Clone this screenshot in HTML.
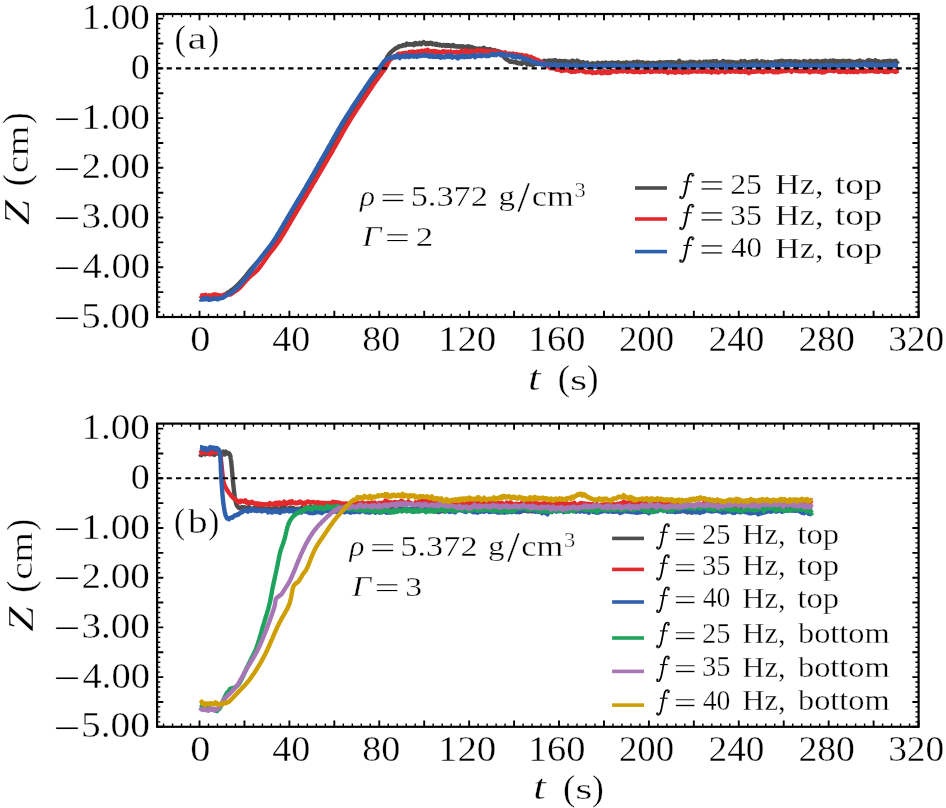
<!DOCTYPE html><html><head><meta charset="utf-8"><style>html,body{margin:0;padding:0;background:#fff;width:946px;height:808px;overflow:hidden}svg{display:block}</style></head><body><svg width="946" height="808" viewBox="0 0 946 808" font-family="'Liberation Serif', serif"><g stroke="#000" fill="none"><path d="M157.10 317.00H163.30M918.60 317.00H912.40" stroke-width="1.90"/><path d="M157.10 312.03H160.30M918.60 312.03H915.40" stroke-width="1.40"/><path d="M157.10 307.05H160.30M918.60 307.05H915.40" stroke-width="1.40"/><path d="M157.10 302.08H160.30M918.60 302.08H915.40" stroke-width="1.40"/><path d="M157.10 297.11H160.30M918.60 297.11H915.40" stroke-width="1.40"/><path d="M157.10 292.13H163.30M918.60 292.13H912.40" stroke-width="1.90"/><path d="M157.10 287.16H160.30M918.60 287.16H915.40" stroke-width="1.40"/><path d="M157.10 282.19H160.30M918.60 282.19H915.40" stroke-width="1.40"/><path d="M157.10 277.22H160.30M918.60 277.22H915.40" stroke-width="1.40"/><path d="M157.10 272.24H160.30M918.60 272.24H915.40" stroke-width="1.40"/><path d="M157.10 267.27H163.30M918.60 267.27H912.40" stroke-width="1.90"/><path d="M157.10 262.30H160.30M918.60 262.30H915.40" stroke-width="1.40"/><path d="M157.10 257.32H160.30M918.60 257.32H915.40" stroke-width="1.40"/><path d="M157.10 252.35H160.30M918.60 252.35H915.40" stroke-width="1.40"/><path d="M157.10 247.38H160.30M918.60 247.38H915.40" stroke-width="1.40"/><path d="M157.10 242.41H163.30M918.60 242.41H912.40" stroke-width="1.90"/><path d="M157.10 237.43H160.30M918.60 237.43H915.40" stroke-width="1.40"/><path d="M157.10 232.46H160.30M918.60 232.46H915.40" stroke-width="1.40"/><path d="M157.10 227.49H160.30M918.60 227.49H915.40" stroke-width="1.40"/><path d="M157.10 222.51H160.30M918.60 222.51H915.40" stroke-width="1.40"/><path d="M157.10 217.54H163.30M918.60 217.54H912.40" stroke-width="1.90"/><path d="M157.10 212.57H160.30M918.60 212.57H915.40" stroke-width="1.40"/><path d="M157.10 207.59H160.30M918.60 207.59H915.40" stroke-width="1.40"/><path d="M157.10 202.62H160.30M918.60 202.62H915.40" stroke-width="1.40"/><path d="M157.10 197.65H160.30M918.60 197.65H915.40" stroke-width="1.40"/><path d="M157.10 192.68H163.30M918.60 192.68H912.40" stroke-width="1.90"/><path d="M157.10 187.70H160.30M918.60 187.70H915.40" stroke-width="1.40"/><path d="M157.10 182.73H160.30M918.60 182.73H915.40" stroke-width="1.40"/><path d="M157.10 177.76H160.30M918.60 177.76H915.40" stroke-width="1.40"/><path d="M157.10 172.78H160.30M918.60 172.78H915.40" stroke-width="1.40"/><path d="M157.10 167.81H163.30M918.60 167.81H912.40" stroke-width="1.90"/><path d="M157.10 162.84H160.30M918.60 162.84H915.40" stroke-width="1.40"/><path d="M157.10 157.86H160.30M918.60 157.86H915.40" stroke-width="1.40"/><path d="M157.10 152.89H160.30M918.60 152.89H915.40" stroke-width="1.40"/><path d="M157.10 147.92H160.30M918.60 147.92H915.40" stroke-width="1.40"/><path d="M157.10 142.95H163.30M918.60 142.95H912.40" stroke-width="1.90"/><path d="M157.10 137.97H160.30M918.60 137.97H915.40" stroke-width="1.40"/><path d="M157.10 133.00H160.30M918.60 133.00H915.40" stroke-width="1.40"/><path d="M157.10 128.03H160.30M918.60 128.03H915.40" stroke-width="1.40"/><path d="M157.10 123.05H160.30M918.60 123.05H915.40" stroke-width="1.40"/><path d="M157.10 118.08H163.30M918.60 118.08H912.40" stroke-width="1.90"/><path d="M157.10 113.11H160.30M918.60 113.11H915.40" stroke-width="1.40"/><path d="M157.10 108.13H160.30M918.60 108.13H915.40" stroke-width="1.40"/><path d="M157.10 103.16H160.30M918.60 103.16H915.40" stroke-width="1.40"/><path d="M157.10 98.19H160.30M918.60 98.19H915.40" stroke-width="1.40"/><path d="M157.10 93.22H163.30M918.60 93.22H912.40" stroke-width="1.90"/><path d="M157.10 88.24H160.30M918.60 88.24H915.40" stroke-width="1.40"/><path d="M157.10 83.27H160.30M918.60 83.27H915.40" stroke-width="1.40"/><path d="M157.10 78.30H160.30M918.60 78.30H915.40" stroke-width="1.40"/><path d="M157.10 73.32H160.30M918.60 73.32H915.40" stroke-width="1.40"/><path d="M157.10 68.35H163.30M918.60 68.35H912.40" stroke-width="1.90"/><path d="M157.10 63.38H160.30M918.60 63.38H915.40" stroke-width="1.40"/><path d="M157.10 58.40H160.30M918.60 58.40H915.40" stroke-width="1.40"/><path d="M157.10 53.43H160.30M918.60 53.43H915.40" stroke-width="1.40"/><path d="M157.10 48.46H160.30M918.60 48.46H915.40" stroke-width="1.40"/><path d="M157.10 43.49H163.30M918.60 43.49H912.40" stroke-width="1.90"/><path d="M157.10 38.51H160.30M918.60 38.51H915.40" stroke-width="1.40"/><path d="M157.10 33.54H160.30M918.60 33.54H915.40" stroke-width="1.40"/><path d="M157.10 28.57H160.30M918.60 28.57H915.40" stroke-width="1.40"/><path d="M157.10 23.59H160.30M918.60 23.59H915.40" stroke-width="1.40"/><path d="M157.10 18.62H163.30M918.60 18.62H912.40" stroke-width="1.90"/><path d="M163.55 317.00V313.80M163.55 14.00V17.20" stroke-width="1.40"/><path d="M172.54 317.00V313.80M172.54 14.00V17.20" stroke-width="1.40"/><path d="M181.52 317.00V313.80M181.52 14.00V17.20" stroke-width="1.40"/><path d="M190.51 317.00V313.80M190.51 14.00V17.20" stroke-width="1.40"/><path d="M199.50 317.00V310.80M199.50 14.00V20.20" stroke-width="1.90"/><path d="M208.49 317.00V313.80M208.49 14.00V17.20" stroke-width="1.40"/><path d="M217.48 317.00V313.80M217.48 14.00V17.20" stroke-width="1.40"/><path d="M226.46 317.00V313.80M226.46 14.00V17.20" stroke-width="1.40"/><path d="M235.45 317.00V313.80M235.45 14.00V17.20" stroke-width="1.40"/><path d="M244.44 317.00V310.80M244.44 14.00V20.20" stroke-width="1.90"/><path d="M253.43 317.00V313.80M253.43 14.00V17.20" stroke-width="1.40"/><path d="M262.42 317.00V313.80M262.42 14.00V17.20" stroke-width="1.40"/><path d="M271.40 317.00V313.80M271.40 14.00V17.20" stroke-width="1.40"/><path d="M280.39 317.00V313.80M280.39 14.00V17.20" stroke-width="1.40"/><path d="M289.38 317.00V310.80M289.38 14.00V20.20" stroke-width="1.90"/><path d="M298.37 317.00V313.80M298.37 14.00V17.20" stroke-width="1.40"/><path d="M307.36 317.00V313.80M307.36 14.00V17.20" stroke-width="1.40"/><path d="M316.34 317.00V313.80M316.34 14.00V17.20" stroke-width="1.40"/><path d="M325.33 317.00V313.80M325.33 14.00V17.20" stroke-width="1.40"/><path d="M334.32 317.00V310.80M334.32 14.00V20.20" stroke-width="1.90"/><path d="M343.31 317.00V313.80M343.31 14.00V17.20" stroke-width="1.40"/><path d="M352.30 317.00V313.80M352.30 14.00V17.20" stroke-width="1.40"/><path d="M361.28 317.00V313.80M361.28 14.00V17.20" stroke-width="1.40"/><path d="M370.27 317.00V313.80M370.27 14.00V17.20" stroke-width="1.40"/><path d="M379.26 317.00V310.80M379.26 14.00V20.20" stroke-width="1.90"/><path d="M388.25 317.00V313.80M388.25 14.00V17.20" stroke-width="1.40"/><path d="M397.24 317.00V313.80M397.24 14.00V17.20" stroke-width="1.40"/><path d="M406.22 317.00V313.80M406.22 14.00V17.20" stroke-width="1.40"/><path d="M415.21 317.00V313.80M415.21 14.00V17.20" stroke-width="1.40"/><path d="M424.20 317.00V310.80M424.20 14.00V20.20" stroke-width="1.90"/><path d="M433.19 317.00V313.80M433.19 14.00V17.20" stroke-width="1.40"/><path d="M442.18 317.00V313.80M442.18 14.00V17.20" stroke-width="1.40"/><path d="M451.16 317.00V313.80M451.16 14.00V17.20" stroke-width="1.40"/><path d="M460.15 317.00V313.80M460.15 14.00V17.20" stroke-width="1.40"/><path d="M469.14 317.00V310.80M469.14 14.00V20.20" stroke-width="1.90"/><path d="M478.13 317.00V313.80M478.13 14.00V17.20" stroke-width="1.40"/><path d="M487.12 317.00V313.80M487.12 14.00V17.20" stroke-width="1.40"/><path d="M496.10 317.00V313.80M496.10 14.00V17.20" stroke-width="1.40"/><path d="M505.09 317.00V313.80M505.09 14.00V17.20" stroke-width="1.40"/><path d="M514.08 317.00V310.80M514.08 14.00V20.20" stroke-width="1.90"/><path d="M523.07 317.00V313.80M523.07 14.00V17.20" stroke-width="1.40"/><path d="M532.06 317.00V313.80M532.06 14.00V17.20" stroke-width="1.40"/><path d="M541.04 317.00V313.80M541.04 14.00V17.20" stroke-width="1.40"/><path d="M550.03 317.00V313.80M550.03 14.00V17.20" stroke-width="1.40"/><path d="M559.02 317.00V310.80M559.02 14.00V20.20" stroke-width="1.90"/><path d="M568.01 317.00V313.80M568.01 14.00V17.20" stroke-width="1.40"/><path d="M577.00 317.00V313.80M577.00 14.00V17.20" stroke-width="1.40"/><path d="M585.98 317.00V313.80M585.98 14.00V17.20" stroke-width="1.40"/><path d="M594.97 317.00V313.80M594.97 14.00V17.20" stroke-width="1.40"/><path d="M603.96 317.00V310.80M603.96 14.00V20.20" stroke-width="1.90"/><path d="M612.95 317.00V313.80M612.95 14.00V17.20" stroke-width="1.40"/><path d="M621.94 317.00V313.80M621.94 14.00V17.20" stroke-width="1.40"/><path d="M630.92 317.00V313.80M630.92 14.00V17.20" stroke-width="1.40"/><path d="M639.91 317.00V313.80M639.91 14.00V17.20" stroke-width="1.40"/><path d="M648.90 317.00V310.80M648.90 14.00V20.20" stroke-width="1.90"/><path d="M657.89 317.00V313.80M657.89 14.00V17.20" stroke-width="1.40"/><path d="M666.88 317.00V313.80M666.88 14.00V17.20" stroke-width="1.40"/><path d="M675.86 317.00V313.80M675.86 14.00V17.20" stroke-width="1.40"/><path d="M684.85 317.00V313.80M684.85 14.00V17.20" stroke-width="1.40"/><path d="M693.84 317.00V310.80M693.84 14.00V20.20" stroke-width="1.90"/><path d="M702.83 317.00V313.80M702.83 14.00V17.20" stroke-width="1.40"/><path d="M711.82 317.00V313.80M711.82 14.00V17.20" stroke-width="1.40"/><path d="M720.80 317.00V313.80M720.80 14.00V17.20" stroke-width="1.40"/><path d="M729.79 317.00V313.80M729.79 14.00V17.20" stroke-width="1.40"/><path d="M738.78 317.00V310.80M738.78 14.00V20.20" stroke-width="1.90"/><path d="M747.77 317.00V313.80M747.77 14.00V17.20" stroke-width="1.40"/><path d="M756.76 317.00V313.80M756.76 14.00V17.20" stroke-width="1.40"/><path d="M765.74 317.00V313.80M765.74 14.00V17.20" stroke-width="1.40"/><path d="M774.73 317.00V313.80M774.73 14.00V17.20" stroke-width="1.40"/><path d="M783.72 317.00V310.80M783.72 14.00V20.20" stroke-width="1.90"/><path d="M792.71 317.00V313.80M792.71 14.00V17.20" stroke-width="1.40"/><path d="M801.70 317.00V313.80M801.70 14.00V17.20" stroke-width="1.40"/><path d="M810.68 317.00V313.80M810.68 14.00V17.20" stroke-width="1.40"/><path d="M819.67 317.00V313.80M819.67 14.00V17.20" stroke-width="1.40"/><path d="M828.66 317.00V310.80M828.66 14.00V20.20" stroke-width="1.90"/><path d="M837.65 317.00V313.80M837.65 14.00V17.20" stroke-width="1.40"/><path d="M846.64 317.00V313.80M846.64 14.00V17.20" stroke-width="1.40"/><path d="M855.62 317.00V313.80M855.62 14.00V17.20" stroke-width="1.40"/><path d="M864.61 317.00V313.80M864.61 14.00V17.20" stroke-width="1.40"/><path d="M873.60 317.00V310.80M873.60 14.00V20.20" stroke-width="1.90"/><path d="M882.59 317.00V313.80M882.59 14.00V17.20" stroke-width="1.40"/><path d="M891.58 317.00V313.80M891.58 14.00V17.20" stroke-width="1.40"/><path d="M900.56 317.00V313.80M900.56 14.00V17.20" stroke-width="1.40"/><path d="M909.55 317.00V313.80M909.55 14.00V17.20" stroke-width="1.40"/><path d="M918.54 317.00V310.80M918.54 14.00V20.20" stroke-width="1.90"/></g>
<g stroke="#000" fill="none"><path d="M157.10 726.80H163.30M918.60 726.80H912.40" stroke-width="1.90"/><path d="M157.10 721.83H160.30M918.60 721.83H915.40" stroke-width="1.40"/><path d="M157.10 716.86H160.30M918.60 716.86H915.40" stroke-width="1.40"/><path d="M157.10 711.89H160.30M918.60 711.89H915.40" stroke-width="1.40"/><path d="M157.10 706.92H160.30M918.60 706.92H915.40" stroke-width="1.40"/><path d="M157.10 701.95H163.30M918.60 701.95H912.40" stroke-width="1.90"/><path d="M157.10 696.98H160.30M918.60 696.98H915.40" stroke-width="1.40"/><path d="M157.10 692.01H160.30M918.60 692.01H915.40" stroke-width="1.40"/><path d="M157.10 687.04H160.30M918.60 687.04H915.40" stroke-width="1.40"/><path d="M157.10 682.07H160.30M918.60 682.07H915.40" stroke-width="1.40"/><path d="M157.10 677.10H163.30M918.60 677.10H912.40" stroke-width="1.90"/><path d="M157.10 672.13H160.30M918.60 672.13H915.40" stroke-width="1.40"/><path d="M157.10 667.16H160.30M918.60 667.16H915.40" stroke-width="1.40"/><path d="M157.10 662.19H160.30M918.60 662.19H915.40" stroke-width="1.40"/><path d="M157.10 657.22H160.30M918.60 657.22H915.40" stroke-width="1.40"/><path d="M157.10 652.25H163.30M918.60 652.25H912.40" stroke-width="1.90"/><path d="M157.10 647.28H160.30M918.60 647.28H915.40" stroke-width="1.40"/><path d="M157.10 642.31H160.30M918.60 642.31H915.40" stroke-width="1.40"/><path d="M157.10 637.34H160.30M918.60 637.34H915.40" stroke-width="1.40"/><path d="M157.10 632.37H160.30M918.60 632.37H915.40" stroke-width="1.40"/><path d="M157.10 627.40H163.30M918.60 627.40H912.40" stroke-width="1.90"/><path d="M157.10 622.43H160.30M918.60 622.43H915.40" stroke-width="1.40"/><path d="M157.10 617.46H160.30M918.60 617.46H915.40" stroke-width="1.40"/><path d="M157.10 612.49H160.30M918.60 612.49H915.40" stroke-width="1.40"/><path d="M157.10 607.52H160.30M918.60 607.52H915.40" stroke-width="1.40"/><path d="M157.10 602.55H163.30M918.60 602.55H912.40" stroke-width="1.90"/><path d="M157.10 597.58H160.30M918.60 597.58H915.40" stroke-width="1.40"/><path d="M157.10 592.61H160.30M918.60 592.61H915.40" stroke-width="1.40"/><path d="M157.10 587.64H160.30M918.60 587.64H915.40" stroke-width="1.40"/><path d="M157.10 582.67H160.30M918.60 582.67H915.40" stroke-width="1.40"/><path d="M157.10 577.70H163.30M918.60 577.70H912.40" stroke-width="1.90"/><path d="M157.10 572.73H160.30M918.60 572.73H915.40" stroke-width="1.40"/><path d="M157.10 567.76H160.30M918.60 567.76H915.40" stroke-width="1.40"/><path d="M157.10 562.79H160.30M918.60 562.79H915.40" stroke-width="1.40"/><path d="M157.10 557.82H160.30M918.60 557.82H915.40" stroke-width="1.40"/><path d="M157.10 552.85H163.30M918.60 552.85H912.40" stroke-width="1.90"/><path d="M157.10 547.88H160.30M918.60 547.88H915.40" stroke-width="1.40"/><path d="M157.10 542.91H160.30M918.60 542.91H915.40" stroke-width="1.40"/><path d="M157.10 537.94H160.30M918.60 537.94H915.40" stroke-width="1.40"/><path d="M157.10 532.97H160.30M918.60 532.97H915.40" stroke-width="1.40"/><path d="M157.10 528.00H163.30M918.60 528.00H912.40" stroke-width="1.90"/><path d="M157.10 523.03H160.30M918.60 523.03H915.40" stroke-width="1.40"/><path d="M157.10 518.06H160.30M918.60 518.06H915.40" stroke-width="1.40"/><path d="M157.10 513.09H160.30M918.60 513.09H915.40" stroke-width="1.40"/><path d="M157.10 508.12H160.30M918.60 508.12H915.40" stroke-width="1.40"/><path d="M157.10 503.15H163.30M918.60 503.15H912.40" stroke-width="1.90"/><path d="M157.10 498.18H160.30M918.60 498.18H915.40" stroke-width="1.40"/><path d="M157.10 493.21H160.30M918.60 493.21H915.40" stroke-width="1.40"/><path d="M157.10 488.24H160.30M918.60 488.24H915.40" stroke-width="1.40"/><path d="M157.10 483.27H160.30M918.60 483.27H915.40" stroke-width="1.40"/><path d="M157.10 478.30H163.30M918.60 478.30H912.40" stroke-width="1.90"/><path d="M157.10 473.33H160.30M918.60 473.33H915.40" stroke-width="1.40"/><path d="M157.10 468.36H160.30M918.60 468.36H915.40" stroke-width="1.40"/><path d="M157.10 463.39H160.30M918.60 463.39H915.40" stroke-width="1.40"/><path d="M157.10 458.42H160.30M918.60 458.42H915.40" stroke-width="1.40"/><path d="M157.10 453.45H163.30M918.60 453.45H912.40" stroke-width="1.90"/><path d="M157.10 448.48H160.30M918.60 448.48H915.40" stroke-width="1.40"/><path d="M157.10 443.51H160.30M918.60 443.51H915.40" stroke-width="1.40"/><path d="M157.10 438.54H160.30M918.60 438.54H915.40" stroke-width="1.40"/><path d="M157.10 433.57H160.30M918.60 433.57H915.40" stroke-width="1.40"/><path d="M157.10 428.60H163.30M918.60 428.60H912.40" stroke-width="1.90"/><path d="M163.55 726.80V723.60M163.55 423.60V426.80" stroke-width="1.40"/><path d="M172.54 726.80V723.60M172.54 423.60V426.80" stroke-width="1.40"/><path d="M181.52 726.80V723.60M181.52 423.60V426.80" stroke-width="1.40"/><path d="M190.51 726.80V723.60M190.51 423.60V426.80" stroke-width="1.40"/><path d="M199.50 726.80V720.60M199.50 423.60V429.80" stroke-width="1.90"/><path d="M208.49 726.80V723.60M208.49 423.60V426.80" stroke-width="1.40"/><path d="M217.48 726.80V723.60M217.48 423.60V426.80" stroke-width="1.40"/><path d="M226.46 726.80V723.60M226.46 423.60V426.80" stroke-width="1.40"/><path d="M235.45 726.80V723.60M235.45 423.60V426.80" stroke-width="1.40"/><path d="M244.44 726.80V720.60M244.44 423.60V429.80" stroke-width="1.90"/><path d="M253.43 726.80V723.60M253.43 423.60V426.80" stroke-width="1.40"/><path d="M262.42 726.80V723.60M262.42 423.60V426.80" stroke-width="1.40"/><path d="M271.40 726.80V723.60M271.40 423.60V426.80" stroke-width="1.40"/><path d="M280.39 726.80V723.60M280.39 423.60V426.80" stroke-width="1.40"/><path d="M289.38 726.80V720.60M289.38 423.60V429.80" stroke-width="1.90"/><path d="M298.37 726.80V723.60M298.37 423.60V426.80" stroke-width="1.40"/><path d="M307.36 726.80V723.60M307.36 423.60V426.80" stroke-width="1.40"/><path d="M316.34 726.80V723.60M316.34 423.60V426.80" stroke-width="1.40"/><path d="M325.33 726.80V723.60M325.33 423.60V426.80" stroke-width="1.40"/><path d="M334.32 726.80V720.60M334.32 423.60V429.80" stroke-width="1.90"/><path d="M343.31 726.80V723.60M343.31 423.60V426.80" stroke-width="1.40"/><path d="M352.30 726.80V723.60M352.30 423.60V426.80" stroke-width="1.40"/><path d="M361.28 726.80V723.60M361.28 423.60V426.80" stroke-width="1.40"/><path d="M370.27 726.80V723.60M370.27 423.60V426.80" stroke-width="1.40"/><path d="M379.26 726.80V720.60M379.26 423.60V429.80" stroke-width="1.90"/><path d="M388.25 726.80V723.60M388.25 423.60V426.80" stroke-width="1.40"/><path d="M397.24 726.80V723.60M397.24 423.60V426.80" stroke-width="1.40"/><path d="M406.22 726.80V723.60M406.22 423.60V426.80" stroke-width="1.40"/><path d="M415.21 726.80V723.60M415.21 423.60V426.80" stroke-width="1.40"/><path d="M424.20 726.80V720.60M424.20 423.60V429.80" stroke-width="1.90"/><path d="M433.19 726.80V723.60M433.19 423.60V426.80" stroke-width="1.40"/><path d="M442.18 726.80V723.60M442.18 423.60V426.80" stroke-width="1.40"/><path d="M451.16 726.80V723.60M451.16 423.60V426.80" stroke-width="1.40"/><path d="M460.15 726.80V723.60M460.15 423.60V426.80" stroke-width="1.40"/><path d="M469.14 726.80V720.60M469.14 423.60V429.80" stroke-width="1.90"/><path d="M478.13 726.80V723.60M478.13 423.60V426.80" stroke-width="1.40"/><path d="M487.12 726.80V723.60M487.12 423.60V426.80" stroke-width="1.40"/><path d="M496.10 726.80V723.60M496.10 423.60V426.80" stroke-width="1.40"/><path d="M505.09 726.80V723.60M505.09 423.60V426.80" stroke-width="1.40"/><path d="M514.08 726.80V720.60M514.08 423.60V429.80" stroke-width="1.90"/><path d="M523.07 726.80V723.60M523.07 423.60V426.80" stroke-width="1.40"/><path d="M532.06 726.80V723.60M532.06 423.60V426.80" stroke-width="1.40"/><path d="M541.04 726.80V723.60M541.04 423.60V426.80" stroke-width="1.40"/><path d="M550.03 726.80V723.60M550.03 423.60V426.80" stroke-width="1.40"/><path d="M559.02 726.80V720.60M559.02 423.60V429.80" stroke-width="1.90"/><path d="M568.01 726.80V723.60M568.01 423.60V426.80" stroke-width="1.40"/><path d="M577.00 726.80V723.60M577.00 423.60V426.80" stroke-width="1.40"/><path d="M585.98 726.80V723.60M585.98 423.60V426.80" stroke-width="1.40"/><path d="M594.97 726.80V723.60M594.97 423.60V426.80" stroke-width="1.40"/><path d="M603.96 726.80V720.60M603.96 423.60V429.80" stroke-width="1.90"/><path d="M612.95 726.80V723.60M612.95 423.60V426.80" stroke-width="1.40"/><path d="M621.94 726.80V723.60M621.94 423.60V426.80" stroke-width="1.40"/><path d="M630.92 726.80V723.60M630.92 423.60V426.80" stroke-width="1.40"/><path d="M639.91 726.80V723.60M639.91 423.60V426.80" stroke-width="1.40"/><path d="M648.90 726.80V720.60M648.90 423.60V429.80" stroke-width="1.90"/><path d="M657.89 726.80V723.60M657.89 423.60V426.80" stroke-width="1.40"/><path d="M666.88 726.80V723.60M666.88 423.60V426.80" stroke-width="1.40"/><path d="M675.86 726.80V723.60M675.86 423.60V426.80" stroke-width="1.40"/><path d="M684.85 726.80V723.60M684.85 423.60V426.80" stroke-width="1.40"/><path d="M693.84 726.80V720.60M693.84 423.60V429.80" stroke-width="1.90"/><path d="M702.83 726.80V723.60M702.83 423.60V426.80" stroke-width="1.40"/><path d="M711.82 726.80V723.60M711.82 423.60V426.80" stroke-width="1.40"/><path d="M720.80 726.80V723.60M720.80 423.60V426.80" stroke-width="1.40"/><path d="M729.79 726.80V723.60M729.79 423.60V426.80" stroke-width="1.40"/><path d="M738.78 726.80V720.60M738.78 423.60V429.80" stroke-width="1.90"/><path d="M747.77 726.80V723.60M747.77 423.60V426.80" stroke-width="1.40"/><path d="M756.76 726.80V723.60M756.76 423.60V426.80" stroke-width="1.40"/><path d="M765.74 726.80V723.60M765.74 423.60V426.80" stroke-width="1.40"/><path d="M774.73 726.80V723.60M774.73 423.60V426.80" stroke-width="1.40"/><path d="M783.72 726.80V720.60M783.72 423.60V429.80" stroke-width="1.90"/><path d="M792.71 726.80V723.60M792.71 423.60V426.80" stroke-width="1.40"/><path d="M801.70 726.80V723.60M801.70 423.60V426.80" stroke-width="1.40"/><path d="M810.68 726.80V723.60M810.68 423.60V426.80" stroke-width="1.40"/><path d="M819.67 726.80V723.60M819.67 423.60V426.80" stroke-width="1.40"/><path d="M828.66 726.80V720.60M828.66 423.60V429.80" stroke-width="1.90"/><path d="M837.65 726.80V723.60M837.65 423.60V426.80" stroke-width="1.40"/><path d="M846.64 726.80V723.60M846.64 423.60V426.80" stroke-width="1.40"/><path d="M855.62 726.80V723.60M855.62 423.60V426.80" stroke-width="1.40"/><path d="M864.61 726.80V723.60M864.61 423.60V426.80" stroke-width="1.40"/><path d="M873.60 726.80V720.60M873.60 423.60V429.80" stroke-width="1.90"/><path d="M882.59 726.80V723.60M882.59 423.60V426.80" stroke-width="1.40"/><path d="M891.58 726.80V723.60M891.58 423.60V426.80" stroke-width="1.40"/><path d="M900.56 726.80V723.60M900.56 423.60V426.80" stroke-width="1.40"/><path d="M909.55 726.80V723.60M909.55 423.60V426.80" stroke-width="1.40"/><path d="M918.54 726.80V720.60M918.54 423.60V429.80" stroke-width="1.90"/></g>
<path d="M200.2 297.5 L200.8 297.6 L201.4 297.8 L202.0 298.3 L202.6 298.2 L203.2 298.4 L203.8 298.8 L204.4 298.9 L205.0 298.6 L205.6 298.0 L206.2 297.7 L206.8 297.7 L207.4 298.0 L208.0 298.1 L208.6 297.7 L209.2 297.6 L209.8 298.1 L210.4 297.3 L211.0 298.0 L211.6 298.4 L212.2 297.7 L212.8 297.5 L213.4 297.8 L214.0 298.4 L214.6 297.9 L215.2 297.1 L215.8 297.7 L216.4 298.4 L217.0 298.3 L217.6 297.9 L218.1 297.2 L218.7 296.5 L219.3 297.0 L219.8 296.8 L220.4 296.8 L220.9 296.9 L221.5 296.3 L222.0 296.0 L222.6 295.8 L223.1 295.3 L223.6 294.9 L224.2 294.6 L224.7 294.7 L225.2 294.4 L225.8 293.9 L226.3 293.9 L226.8 293.4 L227.3 292.8 L227.9 292.8 L228.4 292.4 L228.9 291.9 L229.4 291.9 L229.9 291.5 L230.4 291.1 L230.9 290.8 L231.4 290.1 L231.9 289.9 L232.3 289.7 L232.8 289.4 L233.3 288.9 L233.7 288.5 L234.2 288.1 L234.7 287.8 L235.1 287.5 L235.5 286.9 L236.0 286.4 L236.4 286.2 L236.8 285.8 L237.3 285.3 L237.7 285.0 L238.1 284.6 L238.5 284.1 L238.9 283.6 L239.3 283.2 L239.7 282.7 L240.1 282.3 L240.6 281.9 L241.0 281.4 L241.4 281.0 L241.8 280.5 L242.2 280.1 L242.6 279.7 L243.0 279.2 L243.4 278.7 L243.8 278.3 L244.2 277.9 L244.5 277.5 L244.9 276.9 L245.3 276.5 L245.7 276.0 L246.1 275.5 L246.4 275.1 L246.8 274.6 L247.2 274.1 L247.5 273.6 L247.9 273.2 L248.3 272.7 L248.6 272.2 L249.0 271.8 L249.4 271.3 L249.8 270.8 L250.1 270.4 L250.5 269.9 L250.9 269.4 L251.3 269.0 L251.7 268.6 L252.1 268.1 L252.5 267.7 L252.9 267.2 L253.3 266.7 L253.7 266.3 L254.1 265.9 L254.5 265.4 L254.9 265.0 L255.3 264.5 L255.7 264.0 L256.1 263.6 L256.5 263.1 L256.9 262.8 L257.3 262.3 L257.7 261.9 L258.1 261.3 L258.5 260.8 L258.9 260.5 L259.3 260.0 L259.7 259.6 L260.1 259.2 L260.5 258.6 L260.9 258.1 L261.3 257.7 L261.6 257.2 L262.0 256.8 L262.4 256.3 L262.8 255.9 L263.2 255.5 L263.6 255.0 L264.0 254.6 L264.4 254.2 L264.8 253.7 L265.2 253.3 L265.6 252.8 L266.0 252.4 L266.4 252.0 L266.9 251.5 L267.3 251.0 L267.7 250.6 L268.1 250.2 L268.5 249.8 L268.9 249.3 L269.3 248.9 L269.7 248.3 L270.1 247.9 L270.5 247.5 L270.9 247.0 L271.3 246.6 L271.7 246.2 L272.1 245.8 L272.5 245.3 L272.8 244.8 L273.2 244.3 L273.6 243.8 L274.0 243.3 L274.3 242.9 L274.7 242.4 L275.1 241.9 L275.4 241.4 L275.8 241.0 L276.1 240.5 L276.5 240.0 L276.8 239.5 L277.2 239.0 L277.5 238.5 L277.8 238.0 L278.2 237.5 L278.5 237.0 L278.8 236.5 L279.2 236.0 L279.5 235.5 L279.8 235.0 L280.1 234.5 L280.5 234.1 L280.8 233.5 L281.1 233.0 L281.4 232.5 L281.8 232.0 L282.1 231.5 L282.4 231.0 L282.7 230.5 L283.0 229.9 L283.3 229.4 L283.7 228.9 L284.0 228.4 L284.3 227.9 L284.6 227.4 L284.9 226.9 L285.2 226.4 L285.5 225.9 L285.8 225.4 L286.2 224.8 L286.5 224.3 L286.8 223.8 L287.1 223.3 L287.4 222.8 L287.7 222.3 L288.0 221.8 L288.3 221.2 L288.6 220.7 L288.9 220.2 L289.3 219.7 L289.6 219.2 L289.9 218.7 L290.2 218.2 L290.5 217.6 L290.8 217.1 L291.1 216.6 L291.4 216.1 L291.7 215.6 L292.0 215.1 L292.3 214.6 L292.7 214.1 L293.0 213.6 L293.3 213.0 L293.6 212.5 L293.9 212.0 L294.2 211.5 L294.5 211.0 L294.8 210.5 L295.1 210.0 L295.5 209.5 L295.8 208.9 L296.1 208.4 L296.4 207.9 L296.7 207.4 L297.0 206.9 L297.3 206.4 L297.6 205.9 L297.9 205.3 L298.3 204.8 L298.6 204.3 L298.9 203.8 L299.2 203.3 L299.5 202.8 L299.8 202.2 L300.1 201.7 L300.4 201.2 L300.7 200.7 L301.0 200.2 L301.3 199.7 L301.6 199.2 L302.0 198.6 L302.3 198.1 L302.6 197.6 L302.9 197.1 L303.2 196.6 L303.5 196.0 L303.8 195.5 L304.1 195.0 L304.4 194.5 L304.7 194.0 L305.0 193.5 L305.3 193.0 L305.6 192.4 L305.9 191.9 L306.2 191.4 L306.5 190.9 L306.8 190.4 L307.2 189.9 L307.5 189.3 L307.8 188.8 L308.1 188.3 L308.4 187.8 L308.7 187.3 L309.0 186.8 L309.3 186.2 L309.6 185.7 L309.9 185.2 L310.2 184.7 L310.5 184.2 L310.8 183.6 L311.1 183.1 L311.4 182.6 L311.7 182.1 L312.0 181.6 L312.3 181.0 L312.6 180.5 L312.9 180.0 L313.2 179.5 L313.5 179.0 L313.8 178.5 L314.1 177.9 L314.4 177.4 L314.7 176.9 L315.0 176.4 L315.3 175.9 L315.6 175.3 L315.9 174.8 L316.2 174.3 L316.5 173.8 L316.8 173.2 L317.1 172.7 L317.4 172.2 L317.7 171.7 L318.0 171.2 L318.2 170.7 L318.5 170.1 L318.8 169.6 L319.1 169.1 L319.4 168.5 L319.7 168.0 L320.0 167.5 L320.3 167.0 L320.6 166.5 L320.9 166.0 L321.2 165.4 L321.5 164.9 L321.8 164.4 L322.1 163.8 L322.4 163.3 L322.7 162.8 L323.0 162.3 L323.3 161.8 L323.6 161.2 L323.9 160.7 L324.2 160.2 L324.5 159.7 L324.8 159.2 L325.1 158.6 L325.4 158.1 L325.7 157.6 L326.0 157.1 L326.3 156.6 L326.6 156.0 L326.9 155.5 L327.1 155.0 L327.4 154.5 L327.7 153.9 L328.0 153.4 L328.3 152.9 L328.6 152.4 L328.9 151.8 L329.2 151.3 L329.5 150.8 L329.8 150.3 L330.1 149.8 L330.4 149.2 L330.7 148.7 L331.0 148.2 L331.3 147.7 L331.6 147.2 L331.9 146.6 L332.2 146.1 L332.5 145.6 L332.8 145.1 L333.1 144.5 L333.3 144.0 L333.6 143.5 L333.9 143.0 L334.2 142.4 L334.5 141.9 L334.8 141.4 L335.1 140.9 L335.4 140.4 L335.7 139.8 L336.0 139.3 L336.3 138.8 L336.6 138.3 L336.9 137.7 L337.2 137.2 L337.4 136.7 L337.7 136.2 L338.0 135.6 L338.3 135.1 L338.6 134.6 L338.9 134.1 L339.2 133.5 L339.5 133.0 L339.8 132.5 L340.1 132.0 L340.4 131.5 L340.7 130.9 L341.0 130.4 L341.3 129.9 L341.6 129.4 L341.9 128.9 L342.2 128.3 L342.5 127.8 L342.8 127.3 L343.1 126.8 L343.4 126.3 L343.7 125.8 L344.0 125.2 L344.3 124.7 L344.6 124.2 L345.0 123.7 L345.3 123.2 L345.6 122.7 L345.9 122.2 L346.2 121.6 L346.5 121.1 L346.8 120.6 L347.1 120.1 L347.4 119.6 L347.8 119.1 L348.1 118.6 L348.4 118.1 L348.7 117.6 L349.0 117.1 L349.4 116.6 L349.7 116.0 L350.0 115.5 L350.3 115.0 L350.6 114.5 L351.0 114.0 L351.3 113.5 L351.6 113.0 L351.9 112.5 L352.2 112.0 L352.6 111.5 L352.9 111.0 L353.2 110.5 L353.5 110.0 L353.9 109.5 L354.2 109.0 L354.5 108.5 L354.9 108.0 L355.2 107.5 L355.5 106.9 L355.8 106.5 L356.2 106.0 L356.5 105.5 L356.8 104.9 L357.1 104.4 L357.5 103.9 L357.8 103.4 L358.1 102.9 L358.5 102.4 L358.8 102.0 L359.1 101.4 L359.5 101.0 L359.8 100.4 L360.1 99.9 L360.5 99.5 L360.8 99.0 L361.1 98.4 L361.4 97.9 L361.8 97.4 L362.1 96.9 L362.4 96.5 L362.8 95.9 L363.1 95.5 L363.4 94.9 L363.8 94.5 L364.1 93.9 L364.4 93.4 L364.8 92.9 L365.1 92.5 L365.4 91.9 L365.8 91.5 L366.1 90.9 L366.5 90.5 L366.8 90.0 L367.1 89.5 L367.5 89.0 L367.8 88.5 L368.1 88.0 L368.5 87.5 L368.8 87.0 L369.1 86.5 L369.5 86.0 L369.8 85.5 L370.1 85.0 L370.5 84.5 L370.8 84.0 L371.2 83.5 L371.5 83.0 L371.8 82.5 L372.2 82.0 L372.5 81.5 L372.9 81.1 L373.2 80.5 L373.6 80.0 L373.9 79.6 L374.3 79.1 L374.6 78.6 L375.0 78.1 L375.4 77.6 L375.7 77.2 L376.1 76.7 L376.4 76.3 L376.8 75.8 L377.2 75.3 L377.5 74.8 L377.9 74.3 L378.3 73.8 L378.6 73.4 L379.0 72.8 L379.3 72.3 L379.7 71.9 L380.0 71.4 L380.4 70.9 L380.7 70.5 L381.1 69.9 L381.4 69.5 L381.7 68.9 L382.1 68.4 L382.4 67.9 L382.7 67.4 L383.0 66.9 L383.2 66.3 L383.5 65.8 L383.7 65.2 L384.0 64.7 L384.2 64.1 L384.4 63.6 L384.6 63.0 L384.8 62.5 L385.0 61.9 L385.3 61.3 L385.5 60.8 L385.7 60.2 L386.0 59.7 L386.2 59.1 L386.5 58.6 L386.8 58.1 L387.1 57.5 L387.3 57.0 L387.6 56.5 L387.9 56.0 L388.3 55.5 L388.6 55.0 L388.9 54.5 L389.3 54.0 L389.7 53.5 L390.1 53.1 L390.5 52.7 L390.9 52.3 L391.3 52.0 L391.8 51.5 L392.2 51.0 L392.7 50.6 L393.1 50.2 L393.6 50.0 L394.1 49.6 L394.5 49.1 L395.0 48.7 L395.5 48.4 L396.1 48.0 L396.6 48.1 L397.1 47.4 L397.6 47.4 L398.2 47.3 L398.7 46.5 L399.3 46.2 L399.9 46.3 L400.4 46.4 L401.0 46.1 L401.6 45.9 L402.2 46.1 L402.7 45.3 L403.3 45.0 L403.9 45.4 L404.5 45.3 L405.1 45.5 L405.7 45.3 L406.3 44.1 L406.8 43.6 L407.4 44.6 L408.0 44.5 L408.6 44.4 L409.2 44.0 L409.8 44.5 L410.4 44.2 L411.0 44.5 L411.6 44.6 L412.2 44.2 L412.8 43.9 L413.4 43.9 L414.0 45.1 L414.6 43.6 L415.2 43.9 L415.8 43.0 L416.4 43.4 L417.0 44.3 L417.6 43.6 L418.2 44.1 L418.8 43.7 L419.4 43.9 L420.0 42.8 L420.6 43.0 L421.2 44.2 L421.8 43.8 L422.4 43.0 L423.0 42.8 L423.6 42.0 L424.2 42.9 L424.8 42.7 L425.4 43.0 L426.0 44.1 L426.6 43.4 L427.2 43.1 L427.8 43.0 L428.4 43.9 L429.0 44.0 L429.6 43.2 L430.2 42.8 L430.7 43.6 L431.3 43.7 L431.9 43.1 L432.5 44.3 L433.1 43.8 L433.7 44.0 L434.3 43.8 L434.9 43.9 L435.5 44.8 L436.1 44.4 L436.7 43.8 L437.3 44.7 L437.9 45.1 L438.5 44.8 L439.1 45.2 L439.7 44.5 L440.3 45.2 L440.9 45.1 L441.5 45.2 L442.1 45.8 L442.7 45.5 L443.3 45.0 L443.9 45.2 L444.5 44.9 L445.1 45.5 L445.7 46.1 L446.3 45.9 L446.9 45.0 L447.5 45.2 L448.1 45.7 L448.7 45.7 L449.3 45.2 L449.9 45.6 L450.4 45.9 L451.0 46.4 L451.6 45.9 L452.2 45.6 L452.8 45.0 L453.4 45.1 L454.0 46.2 L454.6 46.0 L455.2 45.9 L455.8 46.5 L456.4 46.4 L457.0 46.2 L457.6 46.5 L458.2 46.2 L458.8 46.7 L459.4 46.6 L460.0 46.2 L460.6 46.2 L461.2 46.3 L461.8 47.0 L462.4 46.6 L463.0 46.3 L463.6 47.1 L464.2 47.2 L464.8 47.0 L465.4 47.0 L466.0 46.8 L466.6 46.8 L467.1 47.3 L467.7 46.5 L468.3 46.2 L468.9 46.5 L469.5 47.5 L470.1 46.9 L470.7 47.1 L471.3 47.1 L471.9 47.0 L472.5 47.5 L473.1 47.9 L473.7 48.7 L474.3 48.0 L474.9 48.3 L475.5 49.2 L476.0 49.1 L476.6 48.8 L477.2 48.8 L477.8 48.6 L478.4 49.0 L479.0 48.8 L479.6 48.5 L480.2 49.6 L480.8 49.1 L481.4 49.2 L482.0 48.8 L482.6 48.4 L483.2 48.0 L483.8 47.7 L484.3 49.3 L484.9 48.7 L485.5 49.2 L486.1 49.6 L486.7 49.1 L487.3 49.6 L487.9 50.1 L488.5 50.1 L489.1 50.1 L489.7 49.0 L490.3 50.3 L490.9 50.6 L491.5 49.8 L492.1 50.6 L492.7 50.3 L493.3 50.4 L493.9 50.6 L494.5 50.0 L495.1 50.8 L495.7 50.6 L496.3 51.1 L496.9 51.0 L497.4 51.1 L498.0 51.1 L498.6 51.4 L499.1 51.5 L499.6 51.9 L500.1 52.3 L500.6 52.9 L501.0 53.3 L501.4 54.1 L501.8 54.3 L502.2 54.6 L502.5 55.3 L502.9 55.7 L503.3 56.2 L503.7 56.7 L504.1 57.0 L504.5 57.4 L504.9 57.9 L505.3 58.5 L505.8 58.9 L506.2 59.0 L506.7 59.6 L507.2 59.9 L507.7 59.7 L508.2 60.1 L508.8 60.7 L509.3 61.1 L509.9 61.7 L510.5 61.4 L511.0 61.7 L511.6 61.4 L512.2 61.6 L512.8 61.8 L513.4 61.9 L514.0 62.2 L514.6 62.1 L515.2 61.6 L515.8 62.5 L516.4 62.1 L516.9 63.0 L517.5 63.2 L518.1 63.2 L518.7 62.7 L519.3 63.1 L519.9 63.4 L520.5 62.8 L521.1 62.6 L521.7 64.0 L522.3 63.4 L522.9 63.0 L523.5 62.8 L524.1 62.5 L524.7 61.9 L525.3 62.6 L525.9 62.9 L526.5 63.3 L527.1 64.6 L527.7 63.8 L528.3 63.5 L528.9 63.7 L529.5 63.5 L530.1 64.5 L530.7 64.5 L531.3 63.6 L531.9 64.2 L532.5 64.5 L533.1 65.3 L533.7 64.4 L534.3 63.0 L534.9 63.3 L535.5 63.9 L536.1 63.9 L536.7 64.0 L537.3 63.3 L537.9 63.4 L538.5 63.9 L539.0 63.4 L539.6 63.2 L540.2 63.9 L540.8 62.8 L541.4 62.4 L542.0 61.9 L542.6 62.0 L543.2 61.3 L543.7 62.1 L544.3 60.8 L544.9 61.5 L545.5 61.0 L546.1 61.4 L546.7 61.8 L547.3 61.2 L547.9 61.1 L548.5 60.5 L549.1 60.7 L549.7 61.3 L550.3 60.6 L550.9 61.2 L551.5 60.9 L552.1 60.7 L552.7 61.2 L553.3 60.5 L553.9 60.8 L554.5 60.2 L555.1 60.5 L555.7 60.3 L556.3 61.0 L556.9 61.6 L557.5 61.7 L558.1 61.4 L558.7 61.2 L559.3 60.9 L559.9 60.8 L560.5 60.9 L561.1 62.2 L561.7 61.4 L562.3 61.2 L562.9 61.3 L563.5 61.1 L564.1 62.1 L564.7 61.3 L565.3 61.1 L565.9 62.4 L566.5 62.4 L567.1 62.0 L567.7 61.6 L568.3 62.3 L568.9 61.8 L569.5 61.9 L570.1 62.3 L570.7 61.9 L571.3 61.3 L571.9 60.8 L572.5 61.9 L573.1 60.8 L573.7 61.2 L574.3 61.3 L574.9 61.5 L575.5 61.8 L576.1 62.2 L576.7 61.7 L577.3 60.6 L577.9 61.7 L578.5 61.6 L579.1 61.8 L579.7 61.6 L580.3 62.1 L580.9 62.3 L581.5 62.9 L582.1 62.9 L582.7 63.0 L583.3 62.2 L583.9 63.2 L584.4 62.7 L585.0 63.1 L585.6 63.4 L586.2 63.5 L586.8 63.0 L587.4 62.6 L588.0 63.7 L588.6 64.2 L589.2 64.3 L589.8 64.4 L590.4 64.6 L591.0 64.2 L591.6 63.6 L592.2 63.9 L592.8 63.2 L593.4 63.6 L594.0 63.9 L594.6 64.3 L595.2 63.7 L595.8 63.6 L596.4 63.5 L597.0 63.8 L597.6 62.7 L598.2 62.6 L598.8 64.5 L599.4 64.7 L600.0 64.3 L600.6 64.0 L601.2 63.3 L601.8 62.9 L602.4 63.6 L603.0 63.2 L603.6 64.0 L604.2 63.7 L604.8 62.9 L605.4 63.3 L606.0 62.6 L606.6 63.0 L607.2 63.8 L607.8 63.2 L608.4 63.1 L609.0 63.0 L609.6 63.1 L610.2 63.9 L610.8 63.8 L611.4 63.5 L612.0 62.5 L612.6 62.9 L613.2 62.9 L613.8 63.2 L614.4 62.9 L615.0 63.9 L615.6 64.7 L616.2 63.5 L616.8 63.0 L617.4 63.4 L618.0 62.3 L618.6 62.8 L619.2 63.5 L619.8 63.0 L620.4 63.2 L621.0 63.8 L621.6 63.4 L622.2 63.3 L622.8 62.8 L623.4 64.0 L624.0 63.1 L624.6 63.2 L625.2 63.1 L625.8 62.8 L626.4 62.3 L627.0 62.7 L627.6 63.1 L628.2 63.7 L628.8 63.1 L629.4 62.7 L630.0 63.0 L630.6 63.0 L631.2 62.9 L631.8 63.2 L632.4 63.7 L633.0 62.9 L633.6 62.1 L634.2 62.3 L634.8 62.5 L635.4 62.4 L636.0 62.9 L636.6 63.1 L637.2 61.7 L637.8 61.9 L638.4 62.5 L639.0 62.9 L639.6 62.1 L640.2 63.3 L640.8 63.9 L641.4 63.7 L642.0 63.0 L642.6 62.2 L643.2 62.5 L643.8 62.6 L644.4 63.1 L645.0 63.6 L645.6 63.4 L646.2 62.8 L646.8 63.7 L647.4 63.8 L648.0 62.7 L648.6 62.6 L649.2 62.9 L649.8 63.2 L650.4 62.9 L651.0 63.8 L651.6 63.6 L652.2 63.6 L652.8 62.9 L653.4 62.8 L654.0 63.6 L654.6 64.4 L655.2 64.0 L655.8 63.9 L656.4 63.0 L657.0 62.8 L657.6 63.1 L658.2 63.4 L658.8 63.0 L659.4 62.3 L660.0 62.1 L660.6 62.9 L661.2 63.2 L661.8 64.2 L662.4 62.8 L663.0 62.4 L663.6 63.0 L664.2 62.7 L664.8 62.8 L665.4 63.1 L666.0 62.2 L666.6 62.2 L667.2 62.1 L667.8 62.1 L668.4 62.1 L669.0 62.5 L669.6 63.2 L670.2 62.5 L670.8 62.0 L671.4 62.3 L672.0 62.2 L672.6 62.5 L673.2 62.4 L673.8 62.1 L674.4 62.4 L675.0 63.0 L675.6 63.3 L676.2 62.9 L676.8 63.4 L677.4 63.2 L678.0 62.0 L678.6 61.9 L679.2 60.8 L679.8 61.7 L680.4 62.3 L681.0 62.2 L681.6 62.6 L682.2 62.5 L682.8 62.7 L683.4 62.5 L684.0 62.8 L684.6 62.8 L685.2 62.9 L685.8 63.0 L686.4 62.5 L687.0 63.4 L687.6 62.8 L688.2 62.8 L688.8 62.5 L689.4 62.2 L690.0 61.8 L690.6 62.0 L691.2 61.6 L691.8 61.9 L692.4 63.2 L693.0 62.7 L693.6 62.3 L694.2 62.0 L694.8 62.4 L695.4 62.6 L696.0 62.9 L696.6 62.6 L697.2 62.8 L697.8 63.3 L698.4 63.1 L699.0 63.0 L699.6 61.8 L700.2 62.4 L700.8 63.2 L701.4 63.0 L702.0 63.4 L702.6 62.8 L703.2 63.0 L703.8 61.7 L704.4 62.1 L705.0 62.5 L705.6 61.8 L706.2 61.6 L706.8 63.1 L707.4 63.7 L708.0 62.9 L708.6 62.0 L709.2 62.4 L709.8 61.8 L710.4 61.5 L711.0 62.8 L711.6 63.1 L712.2 62.6 L712.8 61.7 L713.4 61.2 L714.0 62.6 L714.6 62.7 L715.2 62.9 L715.8 61.5 L716.4 61.1 L717.0 62.8 L717.6 63.4 L718.2 63.1 L718.8 62.8 L719.4 62.5 L720.0 62.5 L720.6 62.2 L721.2 63.4 L721.8 63.0 L722.4 61.5 L723.0 62.2 L723.6 61.0 L724.2 61.9 L724.8 62.0 L725.4 62.8 L726.0 62.2 L726.6 62.0 L727.2 62.5 L727.8 61.6 L728.4 61.7 L729.0 62.7 L729.6 62.5 L730.2 62.2 L730.8 61.8 L731.4 62.0 L732.0 62.0 L732.6 62.3 L733.2 62.3 L733.8 62.2 L734.4 62.4 L735.0 63.2 L735.6 62.9 L736.2 62.7 L736.8 62.5 L737.4 62.6 L738.0 62.5 L738.6 62.7 L739.2 62.7 L739.8 62.2 L740.4 61.9 L741.0 61.1 L741.6 61.7 L742.2 62.8 L742.8 63.9 L743.4 63.9 L744.0 62.4 L744.6 61.1 L745.2 62.5 L745.8 63.0 L746.4 63.3 L747.0 62.3 L747.6 62.3 L748.2 62.4 L748.8 62.4 L749.4 61.9 L750.0 62.5 L750.6 62.2 L751.2 62.4 L751.8 62.1 L752.4 61.2 L753.0 62.1 L753.6 61.6 L754.2 61.5 L754.8 61.5 L755.4 61.4 L756.0 61.7 L756.6 60.7 L757.2 61.6 L757.8 62.2 L758.4 62.5 L759.0 62.9 L759.6 63.0 L760.2 62.9 L760.8 62.2 L761.4 61.6 L762.0 61.2 L762.6 61.8 L763.2 62.2 L763.8 62.0 L764.4 61.8 L765.0 62.8 L765.6 63.3 L766.2 62.5 L766.8 63.0 L767.4 62.6 L768.0 61.8 L768.6 62.2 L769.2 62.1 L769.8 63.0 L770.4 63.1 L771.0 62.6 L771.6 62.2 L772.2 62.5 L772.8 62.5 L773.4 63.0 L774.0 62.9 L774.6 62.5 L775.2 61.6 L775.8 62.3 L776.4 62.6 L777.0 61.8 L777.6 61.5 L778.2 62.0 L778.8 61.2 L779.4 61.3 L780.0 61.4 L780.6 61.0 L781.2 60.8 L781.8 62.4 L782.4 61.5 L783.0 61.1 L783.6 62.4 L784.2 62.1 L784.8 62.6 L785.4 62.5 L786.0 61.4 L786.6 62.0 L787.2 62.0 L787.8 61.2 L788.4 61.2 L789.0 62.2 L789.6 61.8 L790.2 61.0 L790.8 61.1 L791.4 61.5 L792.0 61.5 L792.6 62.9 L793.2 63.2 L793.8 62.4 L794.4 61.5 L795.0 61.1 L795.6 61.6 L796.2 63.2 L796.8 62.7 L797.4 61.5 L798.0 61.7 L798.6 62.4 L799.2 61.8 L799.8 61.7 L800.4 62.3 L801.0 62.5 L801.6 62.3 L802.2 63.2 L802.8 62.3 L803.4 61.6 L804.0 60.9 L804.6 61.2 L805.2 61.8 L805.8 61.7 L806.4 61.5 L807.0 63.3 L807.6 62.6 L808.2 62.2 L808.8 61.9 L809.4 61.6 L810.0 60.8 L810.6 61.6 L811.2 61.2 L811.8 61.2 L812.4 62.6 L813.0 62.1 L813.6 62.0 L814.2 61.8 L814.8 61.4 L815.4 61.2 L816.0 62.0 L816.6 61.2 L817.2 60.9 L817.8 61.1 L818.4 61.9 L819.0 62.2 L819.6 62.2 L820.2 61.8 L820.8 61.8 L821.4 62.3 L822.0 61.2 L822.6 62.0 L823.2 61.9 L823.8 61.5 L824.4 61.1 L825.0 60.7 L825.6 60.7 L826.2 61.0 L826.8 61.7 L827.4 62.7 L828.0 61.6 L828.6 61.5 L829.2 61.3 L829.8 60.8 L830.4 61.2 L831.0 62.4 L831.6 61.7 L832.2 60.6 L832.8 60.5 L833.4 62.0 L834.0 61.4 L834.6 60.9 L835.2 61.7 L835.8 61.4 L836.4 61.1 L837.0 61.5 L837.6 62.0 L838.2 61.2 L838.8 61.7 L839.4 61.5 L840.0 61.3 L840.6 62.1 L841.2 61.4 L841.8 61.4 L842.4 61.0 L843.0 60.7 L843.6 61.3 L844.2 61.1 L844.8 62.4 L845.4 62.4 L846.0 61.2 L846.6 61.0 L847.2 61.2 L847.8 62.2 L848.4 61.0 L849.0 60.7 L849.6 60.8 L850.2 61.2 L850.8 62.2 L851.4 61.6 L852.0 61.7 L852.6 61.6 L853.2 61.8 L853.8 63.0 L854.4 63.0 L855.0 62.2 L855.6 61.8 L856.2 63.0 L856.8 62.1 L857.4 61.3 L858.0 61.4 L858.6 61.9 L859.2 62.0 L859.8 60.6 L860.4 61.8 L861.0 62.0 L861.6 62.1 L862.2 61.6 L862.8 62.2 L863.4 61.8 L864.0 62.6 L864.6 63.2 L865.2 62.2 L865.8 62.0 L866.4 61.8 L867.0 60.9 L867.6 61.6 L868.2 60.7 L868.8 60.2 L869.4 61.4 L870.0 61.9 L870.6 61.0 L871.2 60.8 L871.8 61.9 L872.4 61.0 L873.0 61.9 L873.6 61.4 L874.2 60.9 L874.8 61.3 L875.4 60.2 L876.0 60.9 L876.6 61.4 L877.2 61.6 L877.8 62.1 L878.4 61.2 L879.0 61.7 L879.6 61.6 L880.2 62.0 L880.8 62.0 L881.4 62.2 L882.0 61.8 L882.6 62.3 L883.2 61.7 L883.8 61.2 L884.4 61.6 L885.0 61.9 L885.6 62.3 L886.2 61.2 L886.8 61.4 L887.4 61.1 L888.0 62.1 L888.6 62.3 L889.2 61.9 L889.8 60.8 L890.4 60.8 L891.0 61.4 L891.6 61.8 L892.2 61.9 L892.8 61.3 L893.4 61.4 L894.0 61.2 L894.6 61.0 L895.2 61.0 L895.8 60.8 L896.4 61.8 L897.0 62.1 L897.6 61.6 L898.2 60.9" stroke="#4e4d4b" stroke-width="4.4" fill="none" stroke-linejoin="round" stroke-linecap="butt"/>
<path d="M200.2 295.7 L200.8 296.4 L201.4 296.2 L202.0 295.3 L202.6 295.2 L203.2 295.3 L203.8 295.7 L204.4 295.6 L205.0 295.7 L205.6 294.8 L206.2 296.1 L206.8 295.7 L207.4 295.8 L208.0 295.5 L208.6 295.3 L209.2 295.8 L209.8 296.0 L210.4 295.5 L211.0 295.5 L211.6 295.8 L212.2 295.0 L212.8 294.7 L213.4 295.5 L214.0 295.0 L214.6 294.4 L215.2 294.9 L215.8 295.1 L216.4 294.7 L217.0 294.6 L217.6 295.5 L218.2 296.0 L218.8 295.5 L219.4 295.2 L220.0 295.7 L220.6 295.9 L221.2 295.5 L221.8 295.9 L222.4 296.0 L223.0 295.3 L223.6 295.0 L224.2 295.4 L224.8 295.5 L225.4 295.6 L226.0 294.5 L226.6 294.5 L227.2 294.3 L227.8 293.9 L228.3 294.5 L228.9 294.6 L229.5 294.1 L230.1 294.6 L230.6 294.3 L231.2 293.9 L231.7 293.6 L232.2 293.3 L232.8 292.6 L233.3 292.6 L233.8 292.3 L234.3 291.6 L234.8 291.6 L235.3 291.2 L235.8 291.0 L236.3 290.5 L236.8 290.2 L237.3 289.9 L237.8 289.4 L238.2 289.1 L238.7 288.7 L239.1 288.3 L239.6 287.9 L240.0 287.6 L240.4 287.1 L240.8 286.6 L241.2 286.2 L241.6 285.8 L242.0 285.4 L242.4 284.8 L242.8 284.4 L243.2 284.0 L243.6 283.5 L244.0 283.0 L244.4 282.6 L244.8 282.1 L245.2 281.7 L245.6 281.3 L246.0 280.7 L246.4 280.3 L246.8 279.8 L247.2 279.5 L247.6 279.1 L248.0 278.7 L248.4 278.0 L248.9 277.6 L249.3 277.3 L249.7 277.0 L250.2 276.5 L250.6 276.0 L251.0 275.7 L251.5 275.3 L252.0 274.8 L252.4 274.4 L252.9 274.2 L253.4 273.8 L253.8 273.4 L254.3 273.0 L254.8 272.5 L255.2 272.2 L255.7 271.9 L256.1 271.4 L256.5 270.9 L256.9 270.6 L257.4 270.2 L257.8 269.8 L258.1 269.2 L258.5 268.7 L258.9 268.2 L259.3 267.9 L259.7 267.4 L260.0 266.9 L260.4 266.4 L260.7 265.9 L261.1 265.4 L261.4 264.9 L261.8 264.4 L262.1 264.0 L262.5 263.5 L262.8 263.0 L263.2 262.5 L263.5 262.0 L263.9 261.5 L264.2 261.0 L264.5 260.5 L264.9 260.0 L265.2 259.5 L265.6 259.0 L265.9 258.6 L266.3 258.1 L266.6 257.6 L267.0 257.1 L267.3 256.6 L267.7 256.1 L268.0 255.6 L268.4 255.1 L268.7 254.6 L269.1 254.2 L269.4 253.7 L269.8 253.2 L270.2 252.7 L270.6 252.2 L270.9 251.8 L271.3 251.3 L271.7 250.9 L272.0 250.4 L272.4 249.9 L272.8 249.4 L273.2 249.0 L273.5 248.6 L273.9 248.1 L274.3 247.6 L274.6 247.1 L275.0 246.6 L275.4 246.2 L275.7 245.7 L276.1 245.2 L276.4 244.7 L276.8 244.2 L277.1 243.7 L277.5 243.2 L277.8 242.7 L278.2 242.2 L278.5 241.7 L278.9 241.3 L279.2 240.8 L279.5 240.3 L279.8 239.8 L280.2 239.3 L280.5 238.7 L280.8 238.2 L281.1 237.7 L281.5 237.2 L281.8 236.7 L282.1 236.2 L282.4 235.7 L282.7 235.2 L283.0 234.7 L283.3 234.1 L283.7 233.6 L284.0 233.1 L284.3 232.6 L284.6 232.1 L284.9 231.6 L285.2 231.1 L285.5 230.6 L285.8 230.0 L286.1 229.5 L286.4 229.0 L286.7 228.5 L287.0 228.0 L287.3 227.4 L287.6 226.9 L287.9 226.4 L288.2 225.9 L288.5 225.4 L288.8 224.9 L289.1 224.4 L289.5 223.8 L289.8 223.3 L290.1 222.8 L290.4 222.3 L290.7 221.8 L291.0 221.2 L291.3 220.7 L291.6 220.2 L291.9 219.7 L292.2 219.2 L292.5 218.7 L292.8 218.1 L293.1 217.6 L293.4 217.1 L293.7 216.6 L294.0 216.1 L294.3 215.5 L294.6 215.0 L294.9 214.5 L295.2 214.0 L295.5 213.5 L295.8 213.0 L296.1 212.4 L296.4 211.9 L296.7 211.4 L297.1 210.9 L297.4 210.4 L297.7 209.9 L298.0 209.4 L298.3 208.8 L298.6 208.3 L298.9 207.8 L299.2 207.3 L299.5 206.8 L299.8 206.3 L300.1 205.8 L300.4 205.2 L300.7 204.7 L301.1 204.2 L301.4 203.7 L301.7 203.2 L302.0 202.7 L302.3 202.2 L302.6 201.6 L302.9 201.1 L303.2 200.6 L303.5 200.1 L303.8 199.6 L304.1 199.1 L304.4 198.5 L304.8 198.0 L305.1 197.5 L305.4 197.0 L305.7 196.5 L306.0 196.0 L306.3 195.5 L306.6 194.9 L306.9 194.4 L307.2 193.9 L307.5 193.4 L307.8 192.9 L308.1 192.3 L308.4 191.9 L308.7 191.3 L309.1 190.8 L309.4 190.3 L309.7 189.8 L310.0 189.2 L310.3 188.7 L310.6 188.2 L310.9 187.7 L311.2 187.2 L311.5 186.7 L311.8 186.2 L312.1 185.6 L312.4 185.1 L312.7 184.6 L313.0 184.1 L313.3 183.6 L313.6 183.1 L313.9 182.5 L314.3 182.0 L314.6 181.5 L314.9 181.0 L315.2 180.5 L315.5 180.0 L315.8 179.4 L316.1 178.9 L316.4 178.4 L316.7 177.9 L317.0 177.4 L317.3 176.9 L317.6 176.3 L317.9 175.8 L318.2 175.3 L318.5 174.8 L318.8 174.3 L319.1 173.8 L319.4 173.3 L319.7 172.7 L320.0 172.2 L320.4 171.7 L320.7 171.2 L321.0 170.6 L321.3 170.1 L321.6 169.6 L321.9 169.1 L322.2 168.6 L322.5 168.1 L322.8 167.6 L323.1 167.1 L323.4 166.5 L323.7 166.0 L324.0 165.5 L324.3 165.0 L324.6 164.5 L324.9 163.9 L325.2 163.4 L325.5 162.9 L325.8 162.4 L326.1 161.9 L326.4 161.3 L326.7 160.8 L327.0 160.3 L327.3 159.8 L327.6 159.3 L327.9 158.8 L328.2 158.3 L328.5 157.7 L328.8 157.2 L329.1 156.7 L329.4 156.2 L329.8 155.7 L330.1 155.1 L330.4 154.6 L330.7 154.1 L331.0 153.6 L331.3 153.1 L331.6 152.5 L331.9 152.0 L332.2 151.5 L332.5 151.0 L332.7 150.5 L333.0 149.9 L333.3 149.4 L333.6 148.9 L333.9 148.4 L334.2 147.8 L334.5 147.3 L334.8 146.8 L335.1 146.3 L335.4 145.8 L335.7 145.2 L336.0 144.7 L336.3 144.2 L336.6 143.6 L336.9 143.1 L337.2 142.6 L337.5 142.1 L337.7 141.6 L338.0 141.0 L338.3 140.5 L338.6 140.0 L338.9 139.5 L339.2 138.9 L339.5 138.4 L339.8 137.9 L340.1 137.4 L340.4 136.8 L340.7 136.3 L341.0 135.8 L341.3 135.3 L341.6 134.8 L341.9 134.2 L342.1 133.7 L342.4 133.2 L342.7 132.7 L343.0 132.1 L343.3 131.6 L343.6 131.1 L343.9 130.6 L344.2 130.1 L344.5 129.5 L344.8 129.0 L345.1 128.5 L345.4 128.0 L345.7 127.4 L346.0 126.9 L346.3 126.4 L346.6 125.9 L346.9 125.4 L347.3 124.9 L347.6 124.4 L347.9 123.9 L348.2 123.3 L348.5 122.8 L348.8 122.3 L349.1 121.8 L349.4 121.3 L349.7 120.8 L350.0 120.3 L350.4 119.7 L350.7 119.2 L351.0 118.7 L351.3 118.2 L351.6 117.7 L351.9 117.2 L352.3 116.7 L352.6 116.2 L352.9 115.7 L353.2 115.2 L353.6 114.7 L353.9 114.2 L354.2 113.7 L354.5 113.1 L354.8 112.6 L355.2 112.1 L355.5 111.6 L355.8 111.1 L356.1 110.6 L356.5 110.1 L356.8 109.6 L357.1 109.1 L357.5 108.6 L357.8 108.1 L358.1 107.6 L358.4 107.1 L358.8 106.6 L359.1 106.1 L359.4 105.6 L359.8 105.1 L360.1 104.6 L360.4 104.1 L360.7 103.6 L361.1 103.1 L361.4 102.6 L361.7 102.1 L362.1 101.6 L362.4 101.1 L362.7 100.6 L363.1 100.1 L363.4 99.6 L363.7 99.1 L364.1 98.6 L364.4 98.1 L364.7 97.6 L365.1 97.1 L365.4 96.6 L365.7 96.1 L366.1 95.6 L366.4 95.1 L366.7 94.6 L367.1 94.1 L367.4 93.6 L367.7 93.1 L368.1 92.6 L368.4 92.2 L368.7 91.6 L369.1 91.1 L369.4 90.6 L369.8 90.1 L370.1 89.6 L370.4 89.2 L370.8 88.6 L371.1 88.2 L371.4 87.7 L371.8 87.1 L372.1 86.7 L372.4 86.2 L372.8 85.7 L373.1 85.2 L373.5 84.7 L373.8 84.2 L374.1 83.7 L374.5 83.2 L374.8 82.7 L375.2 82.2 L375.5 81.7 L375.8 81.2 L376.2 80.7 L376.5 80.2 L376.9 79.8 L377.2 79.3 L377.6 78.8 L377.9 78.3 L378.3 77.8 L378.6 77.3 L379.0 76.8 L379.4 76.4 L379.7 75.9 L380.1 75.4 L380.4 74.9 L380.8 74.5 L381.1 74.0 L381.5 73.5 L381.9 73.0 L382.2 72.5 L382.6 72.0 L382.9 71.5 L383.3 71.1 L383.6 70.6 L384.0 70.1 L384.3 69.6 L384.6 69.1 L385.0 68.6 L385.3 68.1 L385.6 67.6 L385.9 67.0 L386.2 66.5 L386.5 66.0 L386.8 65.5 L387.1 64.9 L387.3 64.4 L387.6 63.8 L387.8 63.3 L388.1 62.8 L388.4 62.3 L388.7 61.8 L389.0 61.3 L389.4 60.8 L389.8 60.2 L390.2 59.8 L390.6 59.4 L391.1 59.0 L391.6 58.8 L392.0 58.4 L392.5 58.0 L393.0 57.7 L393.5 57.1 L394.0 56.7 L394.5 56.4 L395.0 56.3 L395.5 56.0 L396.0 55.8 L396.5 55.5 L397.1 54.6 L397.6 54.5 L398.1 54.4 L398.7 53.8 L399.3 53.8 L399.8 54.3 L400.4 54.3 L401.0 54.1 L401.6 53.6 L402.2 53.4 L402.7 53.7 L403.3 53.2 L403.9 53.4 L404.5 53.7 L405.1 52.9 L405.7 52.6 L406.3 52.9 L406.9 53.2 L407.5 53.1 L408.1 53.0 L408.7 52.9 L409.3 51.9 L409.9 52.1 L410.5 52.5 L411.1 52.0 L411.7 51.6 L412.3 51.6 L412.8 51.8 L413.4 52.1 L414.0 51.8 L414.6 52.5 L415.2 53.1 L415.8 52.4 L416.4 52.8 L417.0 52.2 L417.6 51.4 L418.2 51.6 L418.8 51.4 L419.4 52.0 L420.0 51.4 L420.6 52.3 L421.2 51.9 L421.8 50.7 L422.4 51.9 L423.0 52.3 L423.6 51.3 L424.2 51.6 L424.8 50.5 L425.4 51.1 L426.0 50.5 L426.6 51.1 L427.2 50.1 L427.8 49.7 L428.4 51.4 L429.0 52.4 L429.6 51.3 L430.2 51.6 L430.8 51.4 L431.4 51.2 L432.0 51.8 L432.6 52.1 L433.2 51.0 L433.8 51.6 L434.4 51.5 L435.0 51.0 L435.6 52.4 L436.2 52.7 L436.8 51.5 L437.4 52.5 L438.0 51.9 L438.6 51.8 L439.2 52.6 L439.8 52.2 L440.4 52.2 L441.0 52.9 L441.6 52.9 L442.2 52.4 L442.8 51.2 L443.4 51.1 L444.0 52.3 L444.6 51.7 L445.2 51.9 L445.8 51.5 L446.4 51.7 L447.0 51.6 L447.6 52.7 L448.2 51.7 L448.8 51.9 L449.4 52.1 L450.0 52.6 L450.6 51.5 L451.2 52.0 L451.8 52.1 L452.4 52.5 L453.0 52.4 L453.6 52.0 L454.2 52.2 L454.8 52.1 L455.4 52.4 L456.0 52.1 L456.6 51.8 L457.2 52.1 L457.8 52.6 L458.4 53.3 L459.0 52.2 L459.6 52.4 L460.2 52.7 L460.8 51.0 L461.4 50.8 L462.0 51.3 L462.6 52.2 L463.2 53.4 L463.8 52.7 L464.4 52.7 L465.0 51.8 L465.6 50.4 L466.2 50.6 L466.8 52.2 L467.4 52.0 L468.0 51.4 L468.6 52.1 L469.2 51.3 L469.8 52.4 L470.4 52.5 L471.0 51.3 L471.6 51.1 L472.2 51.8 L472.8 51.2 L473.4 51.7 L474.0 51.0 L474.6 51.7 L475.2 51.5 L475.8 51.0 L476.4 50.8 L477.0 51.1 L477.6 50.2 L478.2 50.8 L478.8 51.0 L479.4 51.3 L480.0 50.7 L480.6 51.8 L481.2 51.0 L481.8 50.6 L482.4 51.8 L483.0 52.0 L483.6 51.0 L484.2 50.5 L484.8 50.9 L485.4 50.6 L486.0 51.0 L486.6 51.9 L487.2 51.5 L487.8 51.2 L488.4 51.3 L489.0 51.2 L489.6 51.7 L490.2 51.7 L490.8 51.2 L491.4 51.6 L492.0 52.6 L492.5 51.8 L493.1 51.6 L493.7 52.5 L494.3 51.7 L494.9 51.1 L495.5 51.8 L496.1 51.3 L496.7 51.5 L497.3 52.0 L497.9 51.9 L498.5 51.6 L499.1 51.7 L499.7 52.0 L500.3 52.7 L500.9 52.1 L501.5 52.3 L502.1 53.5 L502.7 52.8 L503.3 53.6 L503.9 53.6 L504.5 52.8 L505.1 52.4 L505.7 53.3 L506.2 53.7 L506.8 53.9 L507.4 53.7 L508.0 54.3 L508.6 54.3 L509.2 53.5 L509.8 54.5 L510.4 54.1 L511.0 53.7 L511.6 54.1 L512.2 55.2 L512.8 54.8 L513.4 53.6 L514.0 54.3 L514.6 54.5 L515.2 54.5 L515.8 54.3 L516.4 54.1 L517.0 55.1 L517.6 54.5 L518.2 54.7 L518.8 54.7 L519.3 54.8 L519.9 55.5 L520.5 55.5 L521.1 54.9 L521.7 54.8 L522.3 55.2 L522.9 56.0 L523.5 55.8 L524.1 55.8 L524.7 55.6 L525.3 55.8 L525.9 55.9 L526.4 55.5 L527.0 56.7 L527.6 56.1 L528.2 56.4 L528.8 57.2 L529.3 57.1 L529.9 57.0 L530.5 56.9 L531.1 56.8 L531.6 57.7 L532.2 58.3 L532.8 58.0 L533.3 58.7 L533.9 58.3 L534.4 58.5 L535.0 59.2 L535.5 59.4 L536.1 59.7 L536.6 59.6 L537.1 59.7 L537.7 59.7 L538.2 60.2 L538.8 60.5 L539.3 60.8 L539.8 61.4 L540.3 61.5 L540.9 61.7 L541.4 62.7 L541.9 62.5 L542.4 62.7 L542.9 63.5 L543.4 63.8 L543.9 63.7 L544.4 63.8 L544.9 64.4 L545.4 65.1 L545.9 65.2 L546.4 65.4 L546.9 65.9 L547.4 66.4 L548.0 66.2 L548.5 66.5 L549.0 66.8 L549.6 67.9 L550.1 68.3 L550.7 68.2 L551.2 68.0 L551.8 68.2 L552.4 67.6 L552.9 68.3 L553.5 68.1 L554.1 68.1 L554.7 68.5 L555.2 68.9 L555.8 69.5 L556.4 69.7 L557.0 69.5 L557.6 69.2 L558.2 69.8 L558.8 69.8 L559.4 70.2 L559.9 69.2 L560.5 68.4 L561.1 69.7 L561.7 71.1 L562.3 70.5 L562.9 70.2 L563.5 70.6 L564.1 70.6 L564.7 70.5 L565.3 70.0 L565.9 70.3 L566.5 70.3 L567.1 69.9 L567.7 69.7 L568.3 70.4 L568.9 71.0 L569.5 70.9 L570.1 70.8 L570.7 71.1 L571.3 71.9 L571.9 71.0 L572.5 71.3 L573.1 71.7 L573.7 70.9 L574.3 70.9 L574.9 71.4 L575.5 71.7 L576.1 71.1 L576.7 71.0 L577.3 70.8 L577.9 70.3 L578.5 71.3 L579.1 70.7 L579.7 70.0 L580.3 70.5 L580.9 70.0 L581.5 70.4 L582.1 70.9 L582.7 70.8 L583.3 71.5 L583.9 70.7 L584.5 71.4 L585.1 71.9 L585.7 72.4 L586.3 72.2 L586.9 71.8 L587.5 71.7 L588.1 71.8 L588.7 72.2 L589.3 71.6 L589.9 72.0 L590.5 72.0 L591.1 72.1 L591.7 72.2 L592.3 73.1 L592.9 72.1 L593.5 72.3 L594.1 72.5 L594.7 72.7 L595.3 72.7 L595.9 72.8 L596.5 72.8 L597.1 71.8 L597.7 72.2 L598.3 71.9 L598.9 72.3 L599.5 71.8 L600.1 71.8 L600.7 72.5 L601.3 73.2 L601.9 72.9 L602.5 72.7 L603.1 73.0 L603.7 71.7 L604.3 70.9 L604.9 71.6 L605.5 72.0 L606.1 72.9 L606.7 73.0 L607.3 71.7 L607.9 73.1 L608.5 72.9 L609.1 72.4 L609.7 72.2 L610.3 72.9 L610.9 71.8 L611.5 71.3 L612.1 71.4 L612.7 70.8 L613.3 71.5 L613.9 71.5 L614.5 71.6 L615.1 71.5 L615.7 71.0 L616.3 71.9 L616.9 71.1 L617.5 71.6 L618.1 70.7 L618.7 71.3 L619.3 71.0 L619.9 71.3 L620.5 70.8 L621.1 70.0 L621.7 70.6 L622.3 71.3 L622.9 71.5 L623.5 70.4 L624.1 69.9 L624.7 70.6 L625.3 71.0 L625.9 70.8 L626.5 70.9 L627.1 71.7 L627.7 71.9 L628.3 71.6 L628.9 70.8 L629.5 71.1 L630.1 71.0 L630.7 70.5 L631.3 71.5 L631.9 71.3 L632.5 71.1 L633.1 72.0 L633.7 71.9 L634.3 71.9 L634.9 72.1 L635.5 71.6 L636.1 70.6 L636.7 71.0 L637.3 71.7 L637.9 71.0 L638.5 71.3 L639.1 71.7 L639.7 72.2 L640.3 72.2 L640.9 71.9 L641.5 71.4 L642.1 71.8 L642.7 71.6 L643.3 71.4 L643.9 72.0 L644.5 71.5 L645.1 71.0 L645.7 71.8 L646.3 71.3 L646.9 71.3 L647.5 70.5 L648.1 70.9 L648.7 70.6 L649.3 70.4 L649.9 70.3 L650.5 72.1 L651.1 71.4 L651.7 71.5 L652.3 71.8 L652.9 71.4 L653.5 71.4 L654.1 70.7 L654.7 71.2 L655.3 71.2 L655.9 71.6 L656.5 71.3 L657.1 70.4 L657.7 70.1 L658.3 70.7 L658.9 71.7 L659.5 71.8 L660.1 71.5 L660.7 70.1 L661.3 69.8 L661.9 70.8 L662.5 71.2 L663.1 71.2 L663.7 71.7 L664.3 71.4 L664.9 70.9 L665.5 71.0 L666.1 71.6 L666.7 71.7 L667.3 71.9 L667.9 72.9 L668.5 71.9 L669.1 71.7 L669.7 71.2 L670.3 71.6 L670.9 72.1 L671.5 72.2 L672.1 71.9 L672.7 72.1 L673.3 71.7 L673.9 70.5 L674.5 70.2 L675.1 72.8 L675.7 72.5 L676.3 71.7 L676.9 70.7 L677.5 71.1 L678.1 72.0 L678.7 70.4 L679.3 71.3 L679.9 72.1 L680.5 71.9 L681.1 72.0 L681.7 71.9 L682.3 72.7 L682.9 71.1 L683.5 70.7 L684.1 71.6 L684.7 72.2 L685.3 71.7 L685.9 71.9 L686.5 71.1 L687.1 70.9 L687.7 72.1 L688.3 72.5 L688.9 72.3 L689.5 71.2 L690.1 70.6 L690.7 70.6 L691.3 71.2 L691.9 71.7 L692.5 71.5 L693.1 70.7 L693.7 71.3 L694.3 71.4 L694.9 71.4 L695.5 71.4 L696.1 71.4 L696.7 71.7 L697.3 71.6 L697.9 71.5 L698.5 71.1 L699.1 71.5 L699.7 71.1 L700.3 70.3 L700.9 71.4 L701.5 71.4 L702.1 71.8 L702.7 71.3 L703.3 71.3 L703.9 71.4 L704.5 71.2 L705.1 70.8 L705.7 70.5 L706.3 71.8 L706.9 70.5 L707.5 70.9 L708.1 71.5 L708.7 71.5 L709.3 71.6 L709.9 71.8 L710.5 72.0 L711.1 71.8 L711.7 72.6 L712.3 71.0 L712.9 71.2 L713.5 71.0 L714.1 71.0 L714.7 71.5 L715.3 72.0 L715.9 71.0 L716.5 71.0 L717.1 71.7 L717.7 72.0 L718.3 72.6 L718.9 72.2 L719.5 71.7 L720.1 71.4 L720.7 71.5 L721.3 71.3 L721.9 70.8 L722.5 71.3 L723.1 71.4 L723.7 71.3 L724.3 71.4 L724.9 72.4 L725.5 72.1 L726.1 71.9 L726.7 71.1 L727.3 70.7 L727.9 71.1 L728.5 71.4 L729.1 71.1 L729.7 71.3 L730.3 71.8 L730.9 71.4 L731.5 70.7 L732.1 70.9 L732.7 70.9 L733.3 71.2 L733.9 70.7 L734.5 71.2 L735.1 71.7 L735.7 71.3 L736.3 70.8 L736.9 71.0 L737.5 71.5 L738.1 71.8 L738.7 71.9 L739.3 71.3 L739.9 70.9 L740.5 72.1 L741.1 71.9 L741.7 71.8 L742.3 71.6 L742.9 71.0 L743.5 71.3 L744.1 71.8 L744.7 72.1 L745.3 71.4 L745.9 69.9 L746.5 71.1 L747.1 71.9 L747.7 72.3 L748.3 72.3 L748.9 73.1 L749.5 72.7 L750.1 72.5 L750.7 72.0 L751.3 71.0 L751.9 71.9 L752.5 71.9 L753.1 71.4 L753.7 71.8 L754.3 71.8 L754.9 71.3 L755.5 71.4 L756.1 71.4 L756.7 71.6 L757.3 71.4 L757.9 71.5 L758.5 70.5 L759.1 71.0 L759.7 70.5 L760.3 71.1 L760.9 71.7 L761.5 71.5 L762.1 71.4 L762.7 71.7 L763.3 72.2 L763.9 71.1 L764.5 71.6 L765.1 70.7 L765.7 71.0 L766.3 71.3 L766.9 71.0 L767.5 71.5 L768.1 71.6 L768.7 70.8 L769.3 71.1 L769.9 70.9 L770.5 70.3 L771.1 70.9 L771.7 71.0 L772.3 71.8 L772.9 71.2 L773.5 72.0 L774.1 71.4 L774.7 72.3 L775.3 71.9 L775.9 71.7 L776.5 71.9 L777.1 72.0 L777.7 72.3 L778.3 72.3 L778.9 71.1 L779.5 70.3 L780.1 69.7 L780.7 70.8 L781.3 71.6 L781.9 71.5 L782.5 71.3 L783.1 70.9 L783.7 70.7 L784.3 70.9 L784.9 71.1 L785.5 70.3 L786.1 71.1 L786.7 70.3 L787.3 70.7 L787.9 70.6 L788.5 70.6 L789.1 70.2 L789.7 70.2 L790.3 70.5 L790.9 70.6 L791.5 72.0 L792.1 70.9 L792.7 70.4 L793.3 70.4 L793.9 70.0 L794.5 69.5 L795.1 70.6 L795.7 70.9 L796.3 70.2 L796.9 70.7 L797.5 70.4 L798.1 70.9 L798.7 71.3 L799.3 71.4 L799.9 71.3 L800.5 70.8 L801.1 71.4 L801.7 71.0 L802.3 71.3 L802.9 71.4 L803.5 70.8 L804.1 70.4 L804.7 71.1 L805.3 70.4 L805.9 70.3 L806.5 70.4 L807.1 71.3 L807.7 70.8 L808.3 69.9 L808.9 71.4 L809.5 72.4 L810.1 72.2 L810.7 71.0 L811.3 71.1 L811.9 71.5 L812.5 71.6 L813.1 71.1 L813.7 70.7 L814.3 71.5 L814.9 71.5 L815.5 70.6 L816.1 71.0 L816.7 71.4 L817.3 71.4 L817.9 71.7 L818.5 71.9 L819.1 71.7 L819.7 71.2 L820.3 70.7 L820.9 71.7 L821.5 72.4 L822.1 72.6 L822.7 71.6 L823.3 71.5 L823.9 72.2 L824.5 72.2 L825.1 71.6 L825.7 71.5 L826.3 70.9 L826.9 71.2 L827.5 70.6 L828.1 70.8 L828.7 70.8 L829.3 70.4 L829.9 69.6 L830.5 70.2 L831.1 70.9 L831.7 70.7 L832.3 70.6 L832.9 71.0 L833.5 71.2 L834.1 71.2 L834.7 70.4 L835.3 70.7 L835.9 70.5 L836.5 70.2 L837.1 70.0 L837.7 70.6 L838.3 70.7 L838.9 72.0 L839.5 71.2 L840.1 70.9 L840.7 71.1 L841.3 72.0 L841.9 70.9 L842.5 71.0 L843.1 70.8 L843.7 71.1 L844.3 71.4 L844.9 71.8 L845.5 70.8 L846.1 71.4 L846.7 72.2 L847.3 71.3 L847.9 71.2 L848.5 70.7 L849.1 70.0 L849.7 71.3 L850.3 72.0 L850.9 71.2 L851.5 70.5 L852.1 71.4 L852.7 71.7 L853.3 72.1 L853.9 72.0 L854.5 71.5 L855.1 71.5 L855.7 70.7 L856.3 71.9 L856.9 71.8 L857.5 72.2 L858.1 72.1 L858.7 71.4 L859.3 71.2 L859.9 70.7 L860.5 70.2 L861.1 71.1 L861.7 71.3 L862.3 70.9 L862.9 71.6 L863.5 71.5 L864.1 71.5 L864.7 70.8 L865.3 70.4 L865.9 71.6 L866.5 71.6 L867.1 71.2 L867.7 70.9 L868.3 71.0 L868.9 71.0 L869.5 70.6 L870.1 70.1 L870.7 71.1 L871.3 70.3 L871.9 70.6 L872.5 70.8 L873.1 70.9 L873.7 70.3 L874.3 71.5 L874.9 71.5 L875.5 71.5 L876.1 71.6 L876.7 70.3 L877.3 69.2 L877.9 70.9 L878.5 71.8 L879.1 71.6 L879.7 70.8 L880.3 70.9 L880.9 70.9 L881.5 70.0 L882.1 70.4 L882.7 70.8 L883.3 71.7 L883.9 71.1 L884.5 71.8 L885.1 71.1 L885.7 70.5 L886.3 72.0 L886.9 70.9 L887.5 71.5 L888.1 72.0 L888.7 70.8 L889.3 70.5 L889.9 71.4 L890.5 71.0 L891.1 70.2 L891.7 70.2 L892.3 70.7 L892.9 71.3 L893.5 70.9 L894.1 71.3 L894.7 71.8 L895.3 71.7 L895.9 71.7 L896.5 71.2 L897.1 69.9 L897.7 71.0 L898.3 70.7" stroke="#e4292d" stroke-width="4.4" fill="none" stroke-linejoin="round" stroke-linecap="butt"/>
<path d="M200.0 299.0 L200.6 299.5 L201.2 299.5 L201.8 299.6 L202.4 299.7 L203.0 298.4 L203.6 298.3 L204.2 298.2 L204.8 298.9 L205.4 299.5 L206.0 299.1 L206.6 299.0 L207.2 298.0 L207.8 298.7 L208.4 298.7 L209.0 299.9 L209.6 299.8 L210.2 299.6 L210.8 299.2 L211.4 299.4 L212.0 299.4 L212.6 298.9 L213.2 298.7 L213.8 298.9 L214.4 298.7 L215.0 298.7 L215.6 298.8 L216.2 298.8 L216.8 299.2 L217.4 298.5 L218.0 299.2 L218.6 298.7 L219.2 298.5 L219.8 298.2 L220.4 298.4 L220.9 298.3 L221.5 298.2 L222.0 297.7 L222.5 297.7 L223.1 297.8 L223.6 297.2 L224.1 296.6 L224.6 296.6 L225.1 296.1 L225.7 296.0 L226.2 295.6 L226.7 295.0 L227.2 294.4 L227.7 294.4 L228.2 294.4 L228.8 293.9 L229.3 293.8 L229.8 293.5 L230.3 293.0 L230.8 293.0 L231.3 292.8 L231.8 292.3 L232.3 292.0 L232.8 291.6 L233.3 291.4 L233.8 290.7 L234.2 290.3 L234.7 289.9 L235.1 289.4 L235.6 288.9 L236.0 288.6 L236.5 288.3 L236.9 287.9 L237.3 287.3 L237.8 286.9 L238.2 286.6 L238.6 286.2 L239.0 285.8 L239.4 285.4 L239.8 285.0 L240.2 284.5 L240.7 284.0 L241.1 283.5 L241.4 283.0 L241.8 282.6 L242.2 282.2 L242.6 281.8 L243.0 281.3 L243.4 280.9 L243.8 280.4 L244.2 279.8 L244.6 279.4 L244.9 279.0 L245.3 278.5 L245.7 278.0 L246.1 277.6 L246.4 277.1 L246.8 276.6 L247.2 276.2 L247.6 275.7 L247.9 275.2 L248.3 274.8 L248.7 274.3 L249.0 273.8 L249.4 273.3 L249.7 272.8 L250.1 272.3 L250.5 271.9 L250.8 271.4 L251.2 270.9 L251.5 270.4 L251.9 270.0 L252.3 269.5 L252.6 269.0 L253.0 268.5 L253.3 268.0 L253.7 267.6 L254.0 267.1 L254.4 266.6 L254.8 266.1 L255.1 265.6 L255.5 265.2 L255.8 264.7 L256.2 264.2 L256.5 263.7 L256.9 263.2 L257.2 262.7 L257.6 262.2 L258.0 261.7 L258.3 261.3 L258.7 260.8 L259.0 260.4 L259.4 259.8 L259.7 259.3 L260.1 258.8 L260.5 258.3 L260.8 257.9 L261.2 257.4 L261.5 256.9 L261.9 256.4 L262.2 255.9 L262.6 255.5 L263.0 255.0 L263.3 254.5 L263.7 254.0 L264.1 253.6 L264.4 253.1 L264.8 252.6 L265.2 252.1 L265.5 251.6 L265.9 251.2 L266.3 250.7 L266.7 250.3 L267.0 249.8 L267.4 249.3 L267.8 248.9 L268.1 248.4 L268.5 247.9 L268.9 247.5 L269.3 247.0 L269.6 246.5 L270.0 246.0 L270.3 245.6 L270.7 245.0 L271.0 244.6 L271.4 244.1 L271.7 243.6 L272.1 243.1 L272.4 242.6 L272.8 242.1 L273.1 241.6 L273.4 241.1 L273.8 240.6 L274.1 240.1 L274.4 239.6 L274.8 239.1 L275.1 238.6 L275.4 238.1 L275.7 237.6 L276.0 237.1 L276.4 236.6 L276.7 236.0 L277.0 235.5 L277.3 235.0 L277.6 234.5 L277.9 234.0 L278.2 233.5 L278.5 233.0 L278.9 232.5 L279.2 232.0 L279.5 231.4 L279.8 230.9 L280.1 230.4 L280.4 229.9 L280.7 229.4 L281.0 228.9 L281.3 228.4 L281.6 227.8 L281.9 227.3 L282.2 226.8 L282.5 226.3 L282.8 225.8 L283.1 225.2 L283.4 224.7 L283.7 224.2 L284.0 223.7 L284.3 223.2 L284.6 222.7 L284.9 222.1 L285.2 221.6 L285.5 221.1 L285.9 220.6 L286.2 220.1 L286.5 219.5 L286.8 219.0 L287.1 218.5 L287.4 218.0 L287.7 217.5 L288.0 216.9 L288.3 216.4 L288.6 215.9 L288.9 215.4 L289.2 214.9 L289.5 214.4 L289.8 213.9 L290.1 213.3 L290.4 212.8 L290.7 212.3 L291.0 211.8 L291.3 211.3 L291.6 210.7 L292.0 210.2 L292.3 209.7 L292.6 209.2 L292.9 208.7 L293.2 208.2 L293.5 207.7 L293.8 207.2 L294.1 206.7 L294.4 206.1 L294.7 205.6 L295.0 205.1 L295.3 204.6 L295.7 204.1 L296.0 203.5 L296.3 203.0 L296.6 202.5 L296.9 202.0 L297.2 201.5 L297.5 201.0 L297.8 200.5 L298.1 200.0 L298.4 199.5 L298.7 198.9 L299.1 198.4 L299.4 197.9 L299.7 197.4 L300.0 196.9 L300.3 196.4 L300.6 195.8 L300.9 195.3 L301.2 194.8 L301.5 194.3 L301.8 193.8 L302.1 193.3 L302.4 192.7 L302.7 192.2 L303.1 191.7 L303.4 191.2 L303.7 190.7 L304.0 190.1 L304.3 189.6 L304.6 189.1 L304.9 188.6 L305.2 188.1 L305.5 187.6 L305.8 187.1 L306.1 186.5 L306.4 186.0 L306.7 185.5 L307.0 185.0 L307.3 184.5 L307.6 183.9 L307.9 183.4 L308.2 182.9 L308.5 182.4 L308.8 181.9 L309.1 181.4 L309.4 180.8 L309.7 180.3 L310.0 179.8 L310.3 179.3 L310.6 178.8 L310.9 178.2 L311.2 177.7 L311.5 177.2 L311.8 176.7 L312.1 176.2 L312.4 175.6 L312.7 175.1 L313.0 174.6 L313.3 174.1 L313.6 173.6 L313.9 173.0 L314.2 172.5 L314.5 172.0 L314.8 171.4 L315.1 170.9 L315.4 170.4 L315.7 169.9 L316.0 169.4 L316.3 168.9 L316.6 168.3 L316.9 167.8 L317.2 167.3 L317.4 166.8 L317.7 166.3 L318.0 165.7 L318.3 165.2 L318.6 164.7 L318.9 164.1 L319.2 163.6 L319.5 163.1 L319.8 162.6 L320.1 162.1 L320.4 161.6 L320.7 161.0 L321.0 160.5 L321.3 160.0 L321.6 159.5 L321.9 158.9 L322.2 158.4 L322.5 157.9 L322.8 157.4 L323.1 156.9 L323.4 156.3 L323.7 155.8 L324.0 155.3 L324.3 154.8 L324.6 154.2 L324.9 153.7 L325.2 153.2 L325.5 152.7 L325.8 152.2 L326.1 151.6 L326.4 151.1 L326.6 150.6 L326.9 150.1 L327.2 149.6 L327.5 149.0 L327.8 148.5 L328.1 148.0 L328.4 147.5 L328.7 146.9 L329.0 146.4 L329.3 145.9 L329.6 145.4 L329.9 144.8 L330.2 144.3 L330.5 143.8 L330.8 143.3 L331.1 142.8 L331.3 142.2 L331.6 141.7 L331.9 141.2 L332.2 140.6 L332.5 140.1 L332.8 139.6 L333.1 139.1 L333.4 138.5 L333.7 138.0 L334.0 137.5 L334.3 137.0 L334.6 136.5 L334.9 135.9 L335.2 135.4 L335.5 134.9 L335.8 134.4 L336.0 133.9 L336.3 133.3 L336.6 132.8 L336.9 132.3 L337.2 131.8 L337.5 131.2 L337.8 130.7 L338.1 130.2 L338.4 129.7 L338.7 129.2 L339.0 128.7 L339.3 128.1 L339.6 127.6 L339.9 127.1 L340.2 126.6 L340.6 126.1 L340.9 125.5 L341.2 125.0 L341.5 124.5 L341.8 124.0 L342.1 123.5 L342.4 123.0 L342.7 122.5 L343.0 122.0 L343.3 121.5 L343.6 120.9 L344.0 120.4 L344.3 119.9 L344.6 119.4 L344.9 118.9 L345.2 118.4 L345.5 117.9 L345.8 117.4 L346.2 116.8 L346.5 116.3 L346.8 115.8 L347.1 115.3 L347.4 114.8 L347.8 114.3 L348.1 113.8 L348.4 113.3 L348.7 112.8 L349.1 112.3 L349.4 111.8 L349.7 111.3 L350.0 110.8 L350.4 110.3 L350.7 109.8 L351.0 109.3 L351.3 108.7 L351.7 108.2 L352.0 107.7 L352.3 107.2 L352.6 106.7 L353.0 106.2 L353.3 105.7 L353.6 105.2 L354.0 104.7 L354.3 104.2 L354.6 103.7 L354.9 103.2 L355.3 102.7 L355.6 102.2 L355.9 101.7 L356.3 101.2 L356.6 100.7 L356.9 100.3 L357.3 99.7 L357.6 99.2 L357.9 98.7 L358.3 98.2 L358.6 97.7 L358.9 97.2 L359.3 96.7 L359.6 96.2 L359.9 95.7 L360.2 95.2 L360.6 94.7 L360.9 94.2 L361.3 93.7 L361.6 93.2 L361.9 92.7 L362.3 92.2 L362.6 91.7 L362.9 91.2 L363.3 90.8 L363.6 90.3 L363.9 89.8 L364.3 89.3 L364.6 88.8 L364.9 88.2 L365.3 87.7 L365.6 87.3 L365.9 86.8 L366.3 86.3 L366.6 85.8 L366.9 85.3 L367.3 84.8 L367.6 84.3 L368.0 83.8 L368.3 83.3 L368.6 82.8 L369.0 82.3 L369.3 81.8 L369.7 81.4 L370.0 80.9 L370.4 80.3 L370.7 79.8 L371.0 79.4 L371.4 78.9 L371.7 78.4 L372.1 77.9 L372.4 77.4 L372.8 76.9 L373.2 76.4 L373.5 75.9 L373.9 75.5 L374.2 75.0 L374.6 74.5 L374.9 74.0 L375.3 73.5 L375.7 73.1 L376.0 72.6 L376.4 72.1 L376.7 71.6 L377.1 71.1 L377.5 70.7 L377.8 70.2 L378.2 69.7 L378.5 69.2 L378.9 68.7 L379.2 68.2 L379.6 67.7 L379.9 67.3 L380.3 66.8 L380.6 66.3 L380.9 65.8 L381.3 65.3 L381.6 64.8 L381.9 64.3 L382.3 63.8 L382.6 63.3 L383.0 62.8 L383.4 62.4 L383.7 61.9 L384.1 61.3 L384.6 60.8 L385.0 60.7 L385.4 60.5 L385.9 59.9 L386.4 59.7 L386.9 59.3 L387.4 58.7 L387.9 58.7 L388.5 58.1 L389.0 58.1 L389.6 58.4 L390.2 57.9 L390.8 57.4 L391.4 58.0 L392.0 57.1 L392.5 57.1 L393.1 57.0 L393.7 56.9 L394.3 56.4 L394.9 56.2 L395.5 57.5 L396.1 56.3 L396.7 55.8 L397.3 55.2 L397.9 56.4 L398.5 57.2 L399.1 57.5 L399.7 58.0 L400.3 57.3 L400.9 56.5 L401.5 56.3 L402.1 56.8 L402.7 56.2 L403.3 56.1 L403.9 55.6 L404.5 56.3 L405.1 57.1 L405.7 56.4 L406.3 56.1 L406.9 55.1 L407.5 56.7 L408.1 56.8 L408.7 57.1 L409.3 56.5 L409.9 55.8 L410.5 55.6 L411.1 56.5 L411.7 56.3 L412.3 55.9 L412.9 56.2 L413.5 56.1 L414.1 56.6 L414.7 56.0 L415.3 55.6 L415.9 56.0 L416.5 56.1 L417.1 56.8 L417.7 55.9 L418.3 55.4 L418.9 55.9 L419.5 55.9 L420.1 56.1 L420.7 56.0 L421.3 55.4 L421.9 55.8 L422.5 55.7 L423.1 55.2 L423.7 55.4 L424.3 55.7 L424.9 54.9 L425.5 55.0 L426.1 55.5 L426.7 55.8 L427.3 56.0 L427.9 55.3 L428.5 56.0 L429.1 56.5 L429.7 56.8 L430.3 55.9 L430.9 55.4 L431.5 55.3 L432.1 56.4 L432.7 56.8 L433.3 56.1 L433.9 56.5 L434.5 56.9 L435.1 56.9 L435.7 56.4 L436.2 56.8 L436.8 56.5 L437.4 56.1 L438.0 56.7 L438.6 56.7 L439.2 56.3 L439.8 57.0 L440.4 57.6 L441.0 56.2 L441.6 57.0 L442.2 57.3 L442.8 56.9 L443.4 56.9 L444.0 56.8 L444.6 57.3 L445.2 56.4 L445.8 56.3 L446.4 55.7 L447.0 56.7 L447.6 56.7 L448.2 55.7 L448.8 56.1 L449.4 56.8 L450.0 56.3 L450.6 55.7 L451.2 55.3 L451.8 56.8 L452.4 57.7 L453.0 56.7 L453.6 56.9 L454.2 56.9 L454.8 56.7 L455.4 56.7 L456.0 56.6 L456.6 56.5 L457.2 58.2 L457.8 58.4 L458.4 57.3 L459.0 57.5 L459.6 56.3 L460.2 56.5 L460.8 57.0 L461.4 55.9 L462.0 55.8 L462.6 56.3 L463.2 55.7 L463.8 57.3 L464.4 57.1 L465.0 56.8 L465.6 56.8 L466.2 56.0 L466.8 56.0 L467.4 56.9 L468.0 57.0 L468.6 56.6 L469.2 56.3 L469.8 56.2 L470.4 56.9 L471.0 55.6 L471.6 55.6 L472.2 55.7 L472.8 55.2 L473.4 55.2 L474.0 55.6 L474.6 56.7 L475.2 57.2 L475.8 56.3 L476.4 55.2 L477.0 55.5 L477.6 55.8 L478.2 55.7 L478.8 55.7 L479.4 55.9 L480.0 54.8 L480.6 55.3 L481.2 55.9 L481.8 56.2 L482.4 56.0 L483.0 55.7 L483.6 55.5 L484.2 55.3 L484.8 55.6 L485.4 55.4 L486.0 55.3 L486.6 56.2 L487.2 56.1 L487.8 55.4 L488.4 55.7 L489.0 56.0 L489.6 55.4 L490.2 55.2 L490.8 55.1 L491.4 53.9 L492.0 53.9 L492.6 54.8 L493.2 54.9 L493.8 55.1 L494.3 54.4 L494.9 54.9 L495.5 55.1 L496.1 55.2 L496.7 53.9 L497.3 53.8 L497.9 54.2 L498.5 54.1 L499.1 53.5 L499.7 53.5 L500.3 53.6 L500.9 55.2 L501.5 54.4 L502.1 54.2 L502.7 54.1 L503.3 54.5 L503.9 54.9 L504.5 54.6 L505.1 54.9 L505.7 56.0 L506.3 55.7 L506.9 55.2 L507.5 55.0 L508.1 55.1 L508.7 55.0 L509.3 55.4 L509.9 55.2 L510.5 55.2 L511.1 55.4 L511.7 55.3 L512.2 56.2 L512.8 57.2 L513.4 55.9 L514.0 55.5 L514.6 56.6 L515.2 56.7 L515.8 57.5 L516.4 57.1 L517.0 57.1 L517.6 56.4 L518.1 56.2 L518.7 56.9 L519.3 57.4 L519.9 56.9 L520.5 56.7 L521.1 57.2 L521.7 57.6 L522.2 57.8 L522.8 58.3 L523.4 59.3 L524.0 58.7 L524.5 58.4 L525.1 58.4 L525.7 59.1 L526.3 58.8 L526.8 59.8 L527.4 59.5 L528.0 59.2 L528.6 59.9 L529.1 60.2 L529.7 60.6 L530.2 60.2 L530.8 60.8 L531.3 61.1 L531.8 61.5 L532.4 61.2 L532.9 61.6 L533.5 62.7 L534.0 62.5 L534.6 62.0 L535.2 62.6 L535.7 62.5 L536.3 62.5 L536.9 62.7 L537.5 63.6 L538.1 63.3 L538.7 63.6 L539.3 63.6 L539.9 63.0 L540.5 63.5 L541.1 64.2 L541.7 63.4 L542.2 64.1 L542.8 64.3 L543.4 64.7 L544.0 64.9 L544.6 65.0 L545.2 64.7 L545.8 64.6 L546.4 64.2 L547.0 64.4 L547.6 65.0 L548.2 64.6 L548.8 65.3 L549.4 65.3 L550.0 64.6 L550.6 64.9 L551.2 64.5 L551.8 64.9 L552.4 64.6 L553.0 65.0 L553.6 65.0 L554.2 64.7 L554.8 66.1 L555.4 65.6 L556.0 64.4 L556.6 65.1 L557.2 65.2 L557.8 66.2 L558.4 65.5 L559.0 65.5 L559.6 65.3 L560.2 65.6 L560.8 65.1 L561.4 64.8 L562.0 65.0 L562.6 65.3 L563.2 65.8 L563.8 65.6 L564.4 65.3 L565.0 65.3 L565.6 65.1 L566.2 65.4 L566.8 64.6 L567.4 65.5 L568.0 66.3 L568.6 65.7 L569.2 65.4 L569.8 65.7 L570.4 65.3 L571.0 65.5 L571.6 66.1 L572.2 65.9 L572.8 66.9 L573.4 66.4 L574.0 65.9 L574.6 65.6 L575.2 65.5 L575.8 64.7 L576.4 65.9 L577.0 66.5 L577.6 66.3 L578.2 65.8 L578.8 66.3 L579.4 66.3 L580.0 66.0 L580.6 66.2 L581.2 66.5 L581.8 66.2 L582.4 65.8 L583.0 65.9 L583.6 65.8 L584.2 65.1 L584.8 65.8 L585.4 65.7 L586.0 64.6 L586.6 65.0 L587.2 66.8 L587.8 66.4 L588.4 66.7 L589.0 66.2 L589.6 66.9 L590.2 66.5 L590.8 65.8 L591.4 66.4 L592.0 67.3 L592.6 67.6 L593.2 66.6 L593.8 65.9 L594.4 65.7 L595.0 66.5 L595.6 66.8 L596.2 66.3 L596.8 66.2 L597.4 66.6 L598.0 66.5 L598.6 66.2 L599.2 65.3 L599.8 65.9 L600.4 66.9 L601.0 66.4 L601.6 67.2 L602.2 66.3 L602.8 65.8 L603.4 66.0 L604.0 66.0 L604.6 65.4 L605.2 65.7 L605.8 65.6 L606.4 66.3 L607.0 65.5 L607.6 65.4 L608.2 64.6 L608.8 64.6 L609.4 65.2 L610.0 65.0 L610.6 65.3 L611.2 65.7 L611.8 65.7 L612.4 64.9 L613.0 65.5 L613.6 65.9 L614.2 65.3 L614.8 64.9 L615.4 65.5 L616.0 66.6 L616.6 66.2 L617.2 66.7 L617.8 66.1 L618.4 66.4 L619.0 65.4 L619.6 65.7 L620.2 66.3 L620.8 67.0 L621.4 66.6 L622.0 66.7 L622.6 65.9 L623.2 65.9 L623.8 66.8 L624.4 67.1 L625.0 67.0 L625.6 66.7 L626.2 66.1 L626.8 67.1 L627.4 66.5 L628.0 66.8 L628.6 66.3 L629.2 64.9 L629.8 64.6 L630.4 64.9 L631.0 65.9 L631.6 66.5 L632.2 66.1 L632.8 66.3 L633.4 65.4 L634.0 65.4 L634.6 65.5 L635.2 65.8 L635.8 65.4 L636.4 65.9 L637.0 66.3 L637.6 65.8 L638.2 65.5 L638.8 65.6 L639.4 65.3 L640.0 65.6 L640.6 66.5 L641.2 66.3 L641.8 65.4 L642.4 65.9 L643.0 66.5 L643.6 66.7 L644.2 66.7 L644.8 66.8 L645.4 66.3 L646.0 66.2 L646.6 66.2 L647.2 66.8 L647.8 67.0 L648.4 67.3 L649.0 66.9 L649.6 65.7 L650.2 65.1 L650.8 65.1 L651.4 65.6 L652.0 66.2 L652.6 65.2 L653.2 64.9 L653.8 65.9 L654.4 66.6 L655.0 66.8 L655.6 67.0 L656.2 66.1 L656.8 65.7 L657.4 65.6 L658.0 65.2 L658.6 65.6 L659.2 66.8 L659.8 67.3 L660.4 66.9 L661.0 66.2 L661.6 65.8 L662.2 65.8 L662.8 64.9 L663.4 66.0 L664.0 66.3 L664.6 65.8 L665.2 65.6 L665.8 65.0 L666.4 66.1 L667.0 65.9 L667.6 64.3 L668.2 65.1 L668.8 66.0 L669.4 66.5 L670.0 65.5 L670.6 65.8 L671.2 66.6 L671.8 66.1 L672.4 65.7 L673.0 65.5 L673.6 65.7 L674.2 65.5 L674.8 66.2 L675.4 65.6 L676.0 66.2 L676.6 66.6 L677.2 66.7 L677.8 66.1 L678.4 66.0 L679.0 66.2 L679.6 66.2 L680.2 66.6 L680.8 66.3 L681.4 67.3 L682.0 67.7 L682.6 66.1 L683.2 66.0 L683.8 65.6 L684.4 66.3 L685.0 66.3 L685.6 65.8 L686.2 65.4 L686.8 66.1 L687.4 67.2 L688.0 67.1 L688.6 66.3 L689.2 65.7 L689.8 65.8 L690.4 65.4 L691.0 65.0 L691.6 65.3 L692.2 66.2 L692.8 66.2 L693.4 65.9 L694.0 65.2 L694.6 65.1 L695.2 66.2 L695.8 65.9 L696.4 66.4 L697.0 65.7 L697.6 66.3 L698.2 66.0 L698.8 65.6 L699.4 65.7 L700.0 66.9 L700.6 66.5 L701.2 65.8 L701.8 65.6 L702.4 65.1 L703.0 66.6 L703.6 66.6 L704.2 65.7 L704.8 65.6 L705.4 64.4 L706.0 65.9 L706.6 66.1 L707.2 65.9 L707.8 66.2 L708.4 65.8 L709.0 65.1 L709.6 65.1 L710.2 65.5 L710.8 66.1 L711.4 65.6 L712.0 65.3 L712.6 65.6 L713.2 65.2 L713.8 66.6 L714.4 65.9 L715.0 65.1 L715.6 65.7 L716.2 66.2 L716.8 66.2 L717.4 66.6 L718.0 65.2 L718.6 66.3 L719.2 65.9 L719.8 66.3 L720.4 66.5 L721.0 65.0 L721.6 64.7 L722.2 65.1 L722.8 64.5 L723.4 64.5 L724.0 65.7 L724.6 66.3 L725.2 65.7 L725.8 66.4 L726.4 67.9 L727.0 66.4 L727.6 65.7 L728.2 65.8 L728.8 66.1 L729.4 65.9 L730.0 66.3 L730.6 66.2 L731.2 66.4 L731.8 66.1 L732.4 65.8 L733.0 65.2 L733.6 65.0 L734.2 65.5 L734.8 65.7 L735.4 66.0 L736.0 65.8 L736.6 65.9 L737.2 67.0 L737.8 66.4 L738.4 66.4 L739.0 65.5 L739.6 66.3 L740.2 66.6 L740.8 66.0 L741.4 65.5 L742.0 66.2 L742.6 65.3 L743.2 64.6 L743.8 64.7 L744.4 65.5 L745.0 65.5 L745.6 66.1 L746.2 66.3 L746.8 66.5 L747.4 66.0 L748.0 65.8 L748.6 65.6 L749.2 65.2 L749.8 65.1 L750.4 65.2 L751.0 65.6 L751.6 65.3 L752.2 65.7 L752.8 66.0 L753.4 64.5 L754.0 64.9 L754.6 65.1 L755.2 65.5 L755.8 64.9 L756.4 65.5 L757.0 66.8 L757.6 65.3 L758.2 65.6 L758.8 65.9 L759.4 65.5 L760.0 65.2 L760.6 65.9 L761.2 64.7 L761.8 65.0 L762.4 65.4 L763.0 65.4 L763.6 66.1 L764.2 65.8 L764.8 66.5 L765.4 65.9 L766.0 66.4 L766.6 65.8 L767.2 65.3 L767.8 65.3 L768.4 65.8 L769.0 65.2 L769.6 65.2 L770.2 64.7 L770.8 64.2 L771.4 65.4 L772.0 65.5 L772.6 64.8 L773.2 65.4 L773.8 65.0 L774.4 64.1 L775.0 64.6 L775.6 65.6 L776.2 65.9 L776.8 65.9 L777.4 66.8 L778.0 65.7 L778.6 64.7 L779.2 64.6 L779.8 65.8 L780.4 65.1 L781.0 64.9 L781.6 64.6 L782.2 64.6 L782.8 64.9 L783.4 65.4 L784.0 65.5 L784.6 65.5 L785.2 65.6 L785.8 64.9 L786.4 64.5 L787.0 64.7 L787.6 64.1 L788.2 65.4 L788.8 65.6 L789.4 65.4 L790.0 64.6 L790.6 64.8 L791.2 65.0 L791.8 64.5 L792.4 64.5 L793.0 65.0 L793.6 65.2 L794.2 65.0 L794.8 66.0 L795.4 66.6 L796.0 65.8 L796.6 65.2 L797.2 65.3 L797.8 66.2 L798.4 65.7 L799.0 65.7 L799.6 65.4 L800.2 65.2 L800.8 66.0 L801.4 65.4 L802.0 65.1 L802.6 64.4 L803.2 66.3 L803.8 65.9 L804.4 65.2 L805.0 64.8 L805.6 64.7 L806.2 64.4 L806.8 65.3 L807.4 65.0 L808.0 65.5 L808.6 65.9 L809.2 66.5 L809.8 65.8 L810.4 65.7 L811.0 65.7 L811.6 65.2 L812.2 65.4 L812.8 65.8 L813.4 66.3 L814.0 66.1 L814.6 65.7 L815.2 66.2 L815.8 65.4 L816.4 65.0 L817.0 66.4 L817.6 65.9 L818.2 65.4 L818.8 65.0 L819.4 65.6 L820.0 66.6 L820.6 66.2 L821.2 67.0 L821.8 66.2 L822.4 66.4 L823.0 65.9 L823.6 65.5 L824.2 65.5 L824.8 65.5 L825.4 65.0 L826.0 65.0 L826.6 66.0 L827.2 66.5 L827.8 66.0 L828.4 65.7 L829.0 65.4 L829.6 66.4 L830.2 66.3 L830.8 65.3 L831.4 65.7 L832.0 65.5 L832.6 65.2 L833.2 66.6 L833.8 66.6 L834.4 66.3 L835.0 66.5 L835.6 65.7 L836.2 66.0 L836.8 66.5 L837.4 65.8 L838.0 65.8 L838.6 65.4 L839.2 66.1 L839.8 66.3 L840.4 65.2 L841.0 65.2 L841.6 65.7 L842.2 66.3 L842.8 65.4 L843.4 65.1 L844.0 65.5 L844.6 65.9 L845.2 64.8 L845.8 65.3 L846.4 66.1 L847.0 65.5 L847.6 65.3 L848.2 65.6 L848.8 65.0 L849.4 66.3 L850.0 65.7 L850.6 65.1 L851.2 65.3 L851.8 65.2 L852.4 64.9 L853.0 64.5 L853.6 64.7 L854.2 64.4 L854.8 65.6 L855.4 64.6 L856.0 64.5 L856.6 64.7 L857.2 65.4 L857.8 65.2 L858.4 65.8 L859.0 65.0 L859.6 65.1 L860.2 65.0 L860.8 65.0 L861.4 65.7 L862.0 65.9 L862.6 65.6 L863.2 64.4 L863.8 64.8 L864.4 64.2 L865.0 64.0 L865.6 63.7 L866.2 64.3 L866.8 65.2 L867.4 65.9 L868.0 65.8 L868.6 64.5 L869.2 64.5 L869.8 64.9 L870.4 65.0 L871.0 64.8 L871.6 64.0 L872.2 64.6 L872.8 65.2 L873.4 65.1 L874.0 64.8 L874.6 64.5 L875.2 65.0 L875.8 65.9 L876.4 65.6 L877.0 65.8 L877.6 65.9 L878.2 64.8 L878.8 65.4 L879.4 65.6 L880.0 65.9 L880.6 65.2 L881.2 65.0 L881.8 64.9 L882.4 65.3 L883.0 65.2 L883.6 65.3 L884.2 65.5 L884.8 65.1 L885.4 64.8 L886.0 65.0 L886.6 65.2 L887.2 65.8 L887.8 66.1 L888.4 65.2 L889.0 64.2 L889.6 65.5 L890.2 65.4 L890.8 65.0 L891.4 65.5 L892.0 66.3 L892.6 64.8 L893.2 64.7 L893.8 65.0 L894.4 63.8 L895.0 65.0 L895.6 66.1 L896.2 66.0 L896.8 65.8 L897.4 65.4 L898.0 65.5" stroke="#2f60ad" stroke-width="4.4" fill="none" stroke-linejoin="round" stroke-linecap="butt"/>
<path d="M200.0 453.9 L200.6 455.0 L201.2 455.2 L201.8 454.5 L202.4 454.2 L203.0 453.5 L203.6 453.1 L204.2 453.0 L204.8 453.2 L205.4 454.4 L206.0 454.0 L206.6 453.9 L207.2 453.3 L207.8 452.9 L208.4 452.8 L209.0 453.2 L209.6 454.2 L210.2 453.9 L210.8 453.5 L211.4 453.4 L212.0 453.0 L212.6 454.3 L213.2 453.2 L213.8 454.0 L214.4 454.9 L215.0 452.1 L215.6 452.3 L216.2 453.1 L216.8 453.5 L217.4 452.5 L218.0 453.3 L218.6 453.6 L219.2 453.4 L219.8 452.0 L220.4 453.9 L221.0 454.8 L221.6 453.9 L222.2 452.9 L222.8 452.5 L223.4 451.6 L224.0 453.5 L224.6 454.5 L225.2 453.5 L225.8 451.6 L226.4 452.7 L227.0 453.2 L227.6 453.3 L228.1 453.8 L228.7 453.1 L229.3 453.6 L229.7 454.5 L230.0 455.1 L230.2 455.5 L230.4 456.2 L230.5 456.6 L230.5 457.1 L230.6 457.8 L230.7 458.4 L230.8 458.9 L230.9 459.6 L231.0 460.2 L231.1 460.8 L231.1 461.3 L231.2 461.9 L231.3 462.5 L231.3 463.1 L231.4 463.7 L231.4 464.3 L231.5 464.9 L231.6 465.5 L231.6 466.1 L231.7 466.7 L231.7 467.3 L231.8 467.9 L231.9 468.5 L231.9 469.1 L232.0 469.7 L232.0 470.3 L232.1 470.9 L232.1 471.5 L232.2 472.1 L232.2 472.7 L232.3 473.3 L232.4 473.9 L232.4 474.5 L232.4 475.1 L232.5 475.7 L232.5 476.3 L232.6 476.9 L232.6 477.5 L232.7 478.1 L232.7 478.7 L232.8 479.3 L232.8 479.9 L232.9 480.5 L232.9 481.1 L233.0 481.7 L233.1 482.3 L233.1 482.9 L233.2 483.4 L233.2 484.0 L233.3 484.6 L233.4 485.2 L233.4 485.8 L233.5 486.4 L233.6 487.0 L233.6 487.6 L233.7 488.2 L233.8 488.8 L233.8 489.4 L233.9 490.0 L234.0 490.6 L234.1 491.2 L234.1 491.8 L234.2 492.4 L234.3 493.0 L234.4 493.6 L234.4 494.2 L234.5 494.8 L234.6 495.4 L234.7 496.0 L234.8 496.6 L234.9 497.1 L235.0 497.7 L235.0 498.3 L235.1 498.9 L235.2 499.5 L235.3 500.1 L235.5 500.7 L235.6 501.3 L235.7 501.9 L235.8 502.4 L236.0 503.1 L236.1 503.6 L236.3 504.2 L236.6 504.7 L236.8 505.4 L237.1 505.9 L237.4 506.2 L237.7 506.8 L238.2 507.1 L238.7 507.3 L239.2 508.3 L239.8 508.4 L240.4 507.6 L241.0 507.6 L241.6 507.3 L242.2 507.1 L242.8 507.4 L243.4 508.2 L244.0 507.1 L244.6 507.1 L245.2 508.2 L245.8 508.1 L246.4 509.0 L247.0 507.8 L247.6 507.8 L248.2 507.5 L248.8 506.8 L249.4 508.5 L250.0 509.2 L250.6 509.3 L251.2 508.7 L251.8 509.0 L252.4 508.6 L253.0 508.4 L253.6 508.1 L254.2 508.3 L254.8 508.1 L255.4 508.9 L256.0 508.2 L256.6 507.9 L257.2 508.6 L257.8 508.5 L258.4 507.5 L259.0 507.8 L259.6 508.4 L260.2 509.1 L260.8 509.4 L261.4 509.5 L262.0 508.7 L262.6 508.1 L263.2 507.8 L263.8 508.8 L264.4 508.8 L265.0 509.4 L265.6 510.0 L266.2 510.4 L266.8 508.8 L267.4 509.0 L268.0 508.1 L268.6 509.3 L269.2 508.3 L269.8 508.6 L270.4 508.5 L271.0 510.0 L271.6 509.8 L272.2 509.7 L272.8 509.1 L273.4 509.1 L274.0 508.2 L274.6 508.7 L275.2 509.6 L275.8 507.9 L276.4 508.9 L277.0 509.9 L277.6 509.9 L278.2 509.5 L278.8 509.2 L279.4 509.8 L280.0 508.9 L280.6 508.5 L281.2 507.7 L281.8 508.8 L282.4 508.7 L283.0 508.4 L283.6 507.1 L284.2 507.6 L284.8 508.3 L285.4 508.0 L286.0 509.4 L286.6 510.3 L287.2 509.1 L287.8 509.0 L288.4 508.5 L289.0 508.2 L289.6 507.8 L290.2 508.7 L290.8 507.8 L291.4 508.0 L292.0 508.0 L292.6 507.6 L293.2 507.9 L293.8 508.6 L294.4 509.3 L295.0 509.0 L295.6 509.6 L296.2 509.1 L296.8 508.9 L297.4 509.0 L298.0 508.7 L298.6 509.3 L299.2 508.9 L299.8 509.1 L300.4 509.9 L301.0 508.3 L301.6 507.9 L302.2 508.6 L302.8 508.8 L303.4 508.6 L304.0 509.3 L304.6 509.0 L305.2 508.7 L305.8 507.9 L306.4 509.4 L307.0 508.5 L307.6 507.8 L308.2 509.0 L308.8 508.1 L309.4 507.3 L310.0 507.0 L310.6 507.5 L311.2 507.1 L311.8 506.9 L312.4 507.4 L313.0 507.3 L313.6 507.3 L314.2 508.4 L314.8 508.9 L315.4 508.7 L316.0 507.5 L316.6 507.0 L317.2 506.5 L317.8 507.2 L318.4 507.1 L319.0 507.8 L319.6 507.9 L320.2 508.4 L320.8 508.2 L321.4 508.6 L322.0 508.4 L322.6 506.7 L323.2 507.5 L323.8 508.7 L324.4 508.8 L325.0 509.0 L325.6 508.8 L326.2 509.5 L326.8 509.0 L327.4 509.0 L328.0 509.1 L328.6 510.1 L329.2 510.3 L329.8 509.9 L330.4 509.8 L331.0 508.7 L331.6 510.0 L332.2 508.7 L332.8 508.9 L333.4 508.2 L334.0 509.1 L334.6 509.8 L335.2 511.1 L335.8 509.0 L336.4 507.9 L337.0 509.5 L337.6 509.7 L338.2 510.6 L338.8 510.1 L339.4 508.4 L340.0 508.9 L340.6 509.1 L341.2 509.2 L341.8 508.9 L342.4 509.0 L343.0 508.8 L343.6 507.5 L344.2 508.0 L344.8 509.6 L345.4 509.6 L346.0 508.8 L346.6 508.9 L347.2 509.2 L347.8 509.2 L348.4 508.1 L349.0 507.6 L349.6 508.5 L350.2 507.6 L350.8 507.2 L351.4 507.9 L352.0 507.6 L352.6 507.6 L353.2 507.7 L353.8 508.3 L354.4 508.0 L355.0 507.8 L355.6 506.8 L356.2 506.7 L356.8 507.1 L357.4 507.9 L358.0 509.0 L358.6 508.3 L359.2 508.6 L359.8 510.2 L360.4 509.5 L361.0 509.0 L361.6 509.6 L362.2 509.7 L362.8 510.6 L363.4 510.1 L364.0 509.3 L364.6 510.3 L365.2 509.5 L365.8 511.2 L366.4 510.3 L367.0 509.0 L367.6 511.2 L368.2 509.5 L368.8 508.6 L369.4 510.9 L370.0 509.6 L370.6 509.7 L371.2 509.7 L371.8 509.9 L372.4 509.9 L373.0 508.9 L373.6 511.3 L374.2 510.5 L374.8 509.7 L375.4 509.9 L376.0 509.7 L376.6 510.1 L377.2 510.0 L377.8 510.0 L378.4 509.7 L379.0 509.2 L379.6 509.2 L380.2 508.9 L380.8 509.1 L381.4 507.8 L382.0 507.8 L382.6 509.0 L383.2 507.9 L383.8 508.9 L384.4 508.9 L385.0 507.2 L385.6 508.6 L386.2 509.6 L386.8 508.5 L387.4 509.3 L388.0 507.5 L388.6 506.4 L389.2 507.1 L389.8 507.6 L390.4 508.6 L391.0 508.0 L391.6 507.5 L392.2 507.8 L392.8 508.8 L393.4 506.9 L394.0 507.0 L394.6 507.8 L395.2 508.5 L395.8 509.2 L396.4 509.5 L397.0 508.5 L397.6 509.0 L398.2 508.7 L398.8 510.8 L399.4 509.4 L400.0 508.4 L400.6 509.9 L401.2 509.8 L401.8 510.4 L402.4 510.0 L403.0 508.4 L403.6 509.6 L404.2 509.2 L404.8 509.0 L405.4 509.3 L406.0 509.2 L406.6 509.5 L407.2 510.0 L407.8 509.4 L408.4 509.5 L409.0 510.1 L409.6 509.1 L410.2 509.2 L410.8 509.2 L411.4 509.5 L412.0 508.3 L412.6 508.9 L413.2 509.5 L413.8 509.1 L414.4 509.0 L415.0 508.6 L415.6 508.8 L416.2 508.6 L416.8 509.0 L417.4 508.4 L418.0 508.0 L418.6 508.2 L419.2 508.4 L419.8 510.1 L420.4 509.1 L421.0 508.4 L421.6 508.2 L422.2 508.7 L422.8 508.0 L423.4 507.9 L424.0 507.9 L424.6 508.1 L425.2 508.2 L425.8 508.0 L426.4 508.8 L427.0 508.3 L427.6 509.5 L428.2 510.1 L428.8 509.1 L429.4 509.3 L430.0 510.4 L430.6 509.7 L431.2 510.1 L431.8 510.2 L432.4 510.1 L433.0 510.0 L433.6 510.9 L434.2 510.8 L434.8 510.5 L435.4 510.4 L436.0 510.1 L436.6 511.2 L437.2 511.5 L437.8 511.9 L438.4 510.9 L439.0 512.0 L439.6 511.4 L440.2 511.5 L440.8 509.9 L441.4 510.8 L442.0 511.0 L442.6 509.8 L443.2 510.9 L443.8 511.3 L444.4 510.3 L445.0 511.2 L445.6 511.1 L446.2 511.2 L446.8 510.2 L447.4 509.5 L448.0 509.8 L448.6 510.0 L449.2 508.8 L449.8 510.1 L450.4 510.1 L451.0 509.5 L451.6 507.8 L452.2 508.7 L452.8 509.4 L453.4 509.4 L454.0 509.7 L454.6 508.9 L455.2 508.9 L455.8 510.0 L456.4 509.9 L457.0 509.1 L457.6 508.4 L458.2 507.8 L458.8 509.0 L459.4 508.9 L460.0 509.8 L460.6 508.5 L461.2 508.4 L461.8 508.1 L462.4 508.9 L463.0 510.1 L463.6 508.2 L464.2 507.4 L464.8 508.1 L465.4 507.8 L466.0 506.7 L466.6 507.9 L467.2 507.1 L467.8 508.1 L468.4 507.7 L469.0 507.2 L469.6 507.6 L470.2 506.9 L470.8 506.4 L471.4 507.0 L472.0 507.4 L472.6 506.9 L473.2 507.6 L473.8 507.4 L474.4 508.4 L475.0 508.3 L475.6 507.9 L476.2 507.0 L476.8 508.3 L477.4 507.4 L478.0 508.1 L478.6 508.4 L479.2 510.2 L479.8 509.7 L480.4 509.9 L481.0 510.1 L481.6 509.7 L482.2 510.1 L482.8 509.3 L483.4 510.5 L484.0 510.6 L484.6 509.9 L485.2 508.4 L485.8 508.2 L486.4 508.8 L487.0 509.4 L487.6 510.1 L488.2 509.6 L488.8 509.4 L489.4 509.3 L490.0 508.8 L490.6 508.7 L491.2 509.0 L491.8 509.7 L492.4 509.3 L493.0 509.4 L493.6 509.7 L494.2 507.8 L494.8 507.9 L495.4 509.0 L496.0 508.9 L496.6 508.1 L497.2 507.5 L497.8 508.4 L498.4 508.8 L499.0 509.2 L499.6 508.4 L500.2 508.5 L500.8 507.6 L501.4 507.6 L502.0 509.9 L502.6 509.1 L503.2 509.8 L503.8 509.8 L504.4 509.7 L505.0 510.6 L505.6 511.0 L506.2 509.8 L506.8 509.7 L507.4 509.1 L508.0 510.1 L508.6 510.5 L509.2 509.9 L509.8 509.9 L510.4 509.9 L511.0 510.4 L511.6 511.2 L512.2 510.6 L512.8 510.4 L513.4 510.1 L514.0 511.0 L514.6 511.0 L515.2 510.8 L515.8 511.7 L516.4 510.3 L517.0 511.6 L517.6 511.2 L518.2 510.2 L518.8 511.3 L519.4 512.3 L520.0 512.0 L520.6 511.6 L521.2 511.7 L521.8 510.3 L522.4 510.6 L523.0 509.9 L523.6 510.4 L524.2 510.7 L524.8 510.7 L525.4 510.6 L526.0 510.4 L526.6 510.6 L527.2 511.0 L527.8 511.4 L528.4 510.8 L529.0 511.2 L529.6 509.9 L530.2 510.6 L530.8 510.6 L531.4 510.5 L532.0 511.4 L532.6 510.1 L533.2 509.9 L533.8 508.9 L534.4 508.8 L535.0 509.3 L535.6 510.4 L536.2 509.6 L536.8 508.9 L537.4 509.5 L538.0 510.2 L538.6 508.9 L539.2 508.8 L539.8 508.4 L540.4 508.5 L541.0 509.0 L541.6 508.1 L542.2 508.5 L542.8 508.6 L543.4 508.1 L544.0 507.9 L544.6 508.6 L545.2 507.8 L545.8 507.8 L546.4 509.4 L547.0 508.5 L547.6 507.4 L548.2 507.9 L548.8 508.2 L549.4 508.6 L550.0 508.6 L550.6 509.5 L551.2 509.7 L551.8 510.1 L552.4 507.7 L553.0 508.5 L553.6 508.5 L554.2 507.3 L554.8 508.6 L555.4 510.3 L556.0 509.2 L556.6 509.4 L557.2 509.1 L557.8 507.8 L558.4 508.4 L559.0 509.7 L559.6 510.4 L560.2 510.5 L560.8 509.0 L561.4 509.3 L562.0 508.7 L562.6 508.6 L563.2 507.9 L563.8 509.5 L564.4 510.8 L565.0 510.0 L565.6 509.8 L566.2 510.1 L566.8 509.9 L567.4 509.0 L568.0 510.2 L568.6 509.9 L569.2 511.3 L569.8 510.9 L570.4 510.3 L571.0 509.8 L571.6 508.3 L572.2 509.8 L572.8 510.1 L573.4 509.9 L574.0 509.6 L574.6 510.4 L575.2 510.3 L575.8 509.7 L576.4 509.6 L577.0 508.8 L577.6 510.1 L578.2 509.2 L578.8 508.2 L579.4 509.5 L580.0 509.9 L580.6 510.5 L581.2 509.5 L581.8 508.3 L582.4 508.6 L583.0 510.1 L583.6 509.5 L584.2 509.1 L584.8 510.1 L585.4 511.0 L586.0 510.5 L586.6 509.8 L587.2 510.1 L587.8 509.1 L588.4 509.1 L589.0 509.6 L589.6 509.5 L590.2 511.3 L590.8 510.5 L591.4 508.4 L592.0 508.9 L592.6 508.8 L593.2 509.8 L593.8 509.5 L594.4 510.1 L595.0 510.2 L595.6 509.2 L596.2 509.4 L596.8 510.1 L597.4 510.0 L598.0 510.2 L598.6 509.4 L599.2 508.5 L599.8 509.5 L600.4 507.9 L601.0 507.5 L601.6 506.8 L602.2 507.5 L602.8 508.8 L603.4 508.4 L604.0 508.5 L604.6 507.6 L605.2 508.6 L605.8 509.5 L606.4 509.5 L607.0 508.8 L607.6 509.6 L608.2 510.2 L608.8 508.8 L609.4 509.3 L610.0 509.2 L610.6 508.9 L611.2 508.5 L611.8 508.7 L612.4 509.3 L613.0 509.7 L613.6 509.2 L614.2 509.3 L614.8 509.4 L615.4 509.1 L616.0 507.4 L616.6 507.9 L617.2 508.2 L617.8 508.4 L618.4 508.9 L619.0 509.0 L619.6 508.8 L620.2 508.2 L620.8 507.3 L621.4 506.7 L622.0 507.1 L622.6 508.3 L623.2 507.2 L623.8 507.1 L624.4 508.1 L625.0 507.3 L625.6 506.4 L626.2 506.7 L626.8 506.0 L627.4 505.8 L628.0 507.7 L628.6 509.0 L629.2 508.4 L629.8 506.7 L630.4 506.8 L631.0 508.6 L631.6 508.7 L632.2 509.0 L632.8 509.1 L633.4 508.8 L634.0 510.1 L634.6 509.1 L635.2 510.3 L635.8 509.7 L636.4 509.2 L637.0 509.4 L637.6 508.2 L638.2 508.6 L638.8 509.7 L639.4 509.4 L640.0 510.4 L640.6 511.1 L641.2 510.6 L641.8 509.8 L642.4 510.3 L643.0 509.9 L643.6 509.6 L644.2 509.7 L644.8 509.4 L645.4 508.5 L646.0 507.9 L646.6 508.0 L647.2 509.2 L647.8 508.3 L648.4 510.0 L649.0 509.4 L649.6 509.5 L650.2 510.1 L650.8 510.5 L651.4 509.1 L652.0 508.8 L652.6 509.3 L653.2 508.9 L653.8 509.4 L654.4 508.6 L655.0 508.9 L655.6 508.8 L656.2 508.4 L656.8 508.1 L657.4 508.1 L658.0 508.7 L658.6 508.7 L659.2 509.2 L659.8 507.8 L660.4 509.0 L661.0 509.5 L661.6 509.9 L662.2 509.1 L662.8 509.6 L663.4 509.1 L664.0 509.1 L664.6 510.1 L665.2 509.6 L665.8 508.7 L666.4 508.4 L667.0 509.8 L667.6 509.8 L668.2 508.3 L668.8 509.3 L669.4 510.5 L670.0 509.9 L670.6 510.9 L671.2 510.1 L671.8 508.9 L672.4 509.2 L673.0 510.5 L673.6 510.5 L674.2 511.0 L674.8 509.8 L675.4 510.1 L676.0 511.4 L676.6 510.4 L677.2 509.2 L677.8 510.1 L678.4 509.8 L679.0 508.4 L679.6 510.3 L680.2 511.2 L680.8 511.5 L681.4 510.6 L682.0 510.8 L682.6 509.5 L683.2 511.0 L683.8 510.5 L684.4 509.8 L685.0 510.6 L685.6 510.9 L686.2 509.6 L686.8 511.5 L687.4 512.4 L688.0 511.5 L688.6 511.7 L689.2 510.5 L689.8 509.9 L690.4 511.2 L691.0 512.5 L691.6 511.0 L692.2 509.8 L692.8 509.9 L693.4 510.5 L694.0 510.2 L694.6 509.7 L695.2 510.7 L695.8 510.2 L696.4 510.4 L697.0 509.0 L697.6 509.9 L698.2 509.5 L698.8 510.1 L699.4 510.8 L700.0 511.0 L700.6 510.3 L701.2 510.0 L701.8 509.8 L702.4 509.8 L703.0 511.0 L703.6 510.5 L704.2 508.4 L704.8 509.5 L705.4 510.2 L706.0 509.7 L706.6 509.2 L707.2 509.0 L707.8 508.8 L708.4 509.0 L709.0 510.3 L709.6 510.2 L710.2 510.0 L710.8 510.2 L711.4 509.9 L712.0 509.6 L712.6 509.1 L713.2 509.8 L713.8 509.2 L714.4 509.5 L715.0 509.7 L715.6 510.5 L716.2 509.8 L716.8 509.5 L717.4 508.7 L718.0 508.6 L718.6 508.6 L719.2 509.3 L719.8 509.8 L720.4 509.8 L721.0 509.0 L721.6 508.8 L722.2 510.0 L722.8 509.2 L723.4 508.4 L724.0 509.0 L724.6 509.1 L725.2 508.9 L725.8 508.6 L726.4 508.2 L727.0 509.0 L727.6 507.2 L728.2 508.9 L728.8 507.9 L729.4 508.2 L730.0 507.6 L730.6 506.9 L731.2 506.2 L731.8 507.2 L732.4 506.9 L733.0 507.7 L733.6 507.8 L734.2 507.1 L734.8 505.7 L735.4 506.6 L736.0 508.0 L736.6 507.7 L737.2 507.8 L737.8 507.3 L738.4 507.9 L739.0 508.2 L739.6 509.2 L740.2 508.7 L740.8 508.7 L741.4 507.7 L742.0 507.9 L742.6 508.3 L743.2 508.5 L743.8 508.6 L744.4 508.2 L745.0 508.1 L745.6 509.2 L746.2 509.4 L746.8 508.7 L747.4 509.2 L748.0 510.8 L748.6 509.6 L749.2 509.6 L749.8 508.4 L750.4 509.9 L751.0 508.7 L751.6 509.2 L752.2 509.5 L752.8 509.5 L753.4 509.1 L754.0 509.3 L754.6 509.6 L755.2 509.3 L755.8 508.7 L756.4 508.9 L757.0 508.7 L757.6 509.9 L758.2 508.7 L758.8 508.9 L759.4 509.0 L760.0 508.6 L760.6 508.0 L761.2 509.8 L761.8 508.8 L762.4 508.4 L763.0 508.9 L763.6 509.3 L764.2 510.3 L764.8 509.9 L765.4 510.7 L766.0 510.0 L766.6 510.7 L767.2 510.9 L767.8 510.6 L768.4 509.5 L769.0 509.0 L769.6 510.9 L770.2 508.9 L770.8 509.7 L771.4 511.0 L772.0 510.1 L772.6 508.8 L773.2 509.6 L773.8 510.2 L774.4 508.9 L775.0 509.2 L775.6 509.2 L776.2 508.0 L776.8 508.6 L777.4 508.5 L778.0 507.8 L778.6 507.7 L779.2 507.8 L779.8 508.6 L780.4 508.4 L781.0 507.5 L781.6 507.4 L782.2 507.9 L782.8 505.9 L783.4 506.1 L784.0 507.0 L784.6 507.3 L785.2 508.0 L785.8 508.4 L786.4 508.4 L787.0 508.1 L787.6 508.6 L788.2 508.6 L788.8 509.2 L789.4 509.5 L790.0 508.4 L790.6 508.0 L791.2 508.6 L791.8 508.1 L792.4 507.6 L793.0 506.0 L793.6 506.9 L794.2 507.1 L794.8 508.0 L795.4 508.2 L796.0 508.1 L796.6 508.6 L797.2 509.1 L797.8 510.0 L798.4 509.2 L799.0 508.0 L799.6 508.7 L800.2 509.4 L800.8 509.7 L801.4 509.7 L802.0 509.7 L802.6 509.5 L803.2 508.3 L803.8 508.6 L804.4 509.7 L805.0 511.1 L805.6 511.0 L806.2 510.7 L806.8 510.9 L807.4 511.2 L808.0 509.8 L808.6 509.7 L809.2 510.0 L809.8 510.8 L810.4 510.1 L811.0 510.0 L811.6 510.2 L812.2 509.8" stroke="#4e4d4b" stroke-width="4.4" fill="none" stroke-linejoin="round" stroke-linecap="butt"/>
<path d="M200.0 452.8 L200.6 453.1 L201.2 451.5 L201.8 453.2 L202.4 452.4 L203.0 451.6 L203.6 451.5 L204.2 451.4 L204.8 452.1 L205.4 452.9 L206.0 452.9 L206.6 452.6 L207.2 451.0 L207.8 451.2 L208.4 453.3 L209.0 453.5 L209.6 454.1 L210.2 453.3 L210.8 451.9 L211.4 453.0 L212.0 452.8 L212.6 452.2 L213.2 451.5 L213.8 451.8 L214.3 451.8 L214.9 452.3 L215.5 452.1 L216.1 452.4 L216.7 451.5 L217.3 451.9 L217.9 452.0 L218.5 451.8 L219.0 452.1 L219.4 453.1 L219.8 453.5 L220.0 453.9 L220.2 454.5 L220.4 455.0 L220.5 455.6 L220.6 456.2 L220.7 456.8 L220.8 457.4 L220.8 458.0 L220.9 458.6 L220.9 459.2 L221.0 459.8 L221.0 460.4 L221.1 461.0 L221.2 461.6 L221.2 462.2 L221.3 462.7 L221.4 463.3 L221.4 463.9 L221.5 464.5 L221.6 465.1 L221.6 465.7 L221.7 466.3 L221.8 466.9 L221.8 467.5 L221.9 468.1 L221.9 468.7 L222.0 469.3 L222.0 469.9 L222.1 470.5 L222.2 471.1 L222.2 471.7 L222.3 472.3 L222.4 472.9 L222.4 473.5 L222.5 474.1 L222.6 474.7 L222.6 475.3 L222.7 475.9 L222.8 476.5 L222.8 477.1 L222.9 477.7 L223.0 478.3 L223.0 478.9 L223.1 479.4 L223.2 480.0 L223.3 480.6 L223.4 481.2 L223.5 481.8 L223.7 482.4 L223.8 483.0 L224.0 483.5 L224.2 484.1 L224.4 484.7 L224.6 485.2 L224.9 485.8 L225.1 486.3 L225.4 486.9 L225.6 487.4 L225.9 487.9 L226.2 488.5 L226.5 489.0 L226.8 489.5 L227.1 490.0 L227.4 490.5 L227.8 491.1 L228.1 491.5 L228.4 492.0 L228.8 492.5 L229.1 493.1 L229.5 493.5 L229.8 493.8 L230.2 494.4 L230.6 494.9 L230.9 495.5 L231.3 496.0 L231.7 496.3 L232.1 496.7 L232.5 497.3 L233.0 497.6 L233.4 498.0 L233.8 498.5 L234.3 499.0 L234.7 499.1 L235.2 499.3 L235.7 499.9 L236.2 500.2 L236.7 500.3 L237.2 500.6 L237.7 501.4 L238.3 502.1 L238.9 502.2 L239.4 502.4 L240.0 502.4 L240.6 500.7 L241.2 500.7 L241.8 501.2 L242.4 501.0 L243.0 501.1 L243.6 501.6 L244.2 501.0 L244.8 501.1 L245.4 500.3 L246.0 501.2 L246.6 502.7 L247.2 501.9 L247.8 502.4 L248.4 502.7 L249.0 502.2 L249.6 502.7 L250.2 502.8 L250.8 503.0 L251.3 502.3 L251.9 501.7 L252.5 502.1 L253.1 502.7 L253.7 503.5 L254.3 503.2 L254.9 503.2 L255.5 503.6 L256.1 504.3 L256.6 503.8 L257.2 504.6 L257.8 503.3 L258.4 503.6 L259.0 504.7 L259.6 504.6 L260.2 503.8 L260.8 504.1 L261.4 504.0 L262.0 505.0 L262.6 504.9 L263.2 504.2 L263.8 504.6 L264.4 504.3 L265.0 504.4 L265.6 504.4 L266.2 504.1 L266.8 504.7 L267.4 504.8 L268.0 504.8 L268.6 505.0 L269.2 504.0 L269.8 503.0 L270.4 503.6 L271.0 504.1 L271.6 504.1 L272.2 504.4 L272.8 504.5 L273.4 503.8 L274.0 503.5 L274.6 503.2 L275.2 504.2 L275.8 503.4 L276.4 502.7 L277.0 502.6 L277.6 503.3 L278.2 504.7 L278.8 504.0 L279.4 502.4 L280.0 503.2 L280.6 503.7 L281.2 504.0 L281.8 503.7 L282.4 503.1 L283.0 503.5 L283.6 502.7 L284.2 501.6 L284.8 502.4 L285.4 502.9 L286.0 504.1 L286.6 504.1 L287.2 502.8 L287.8 503.3 L288.4 503.2 L289.0 502.0 L289.6 501.6 L290.2 503.0 L290.8 503.3 L291.4 502.5 L292.0 501.3 L292.6 502.8 L293.2 502.7 L293.8 502.5 L294.4 502.7 L295.0 502.5 L295.6 503.4 L296.2 503.2 L296.8 502.8 L297.4 503.3 L298.0 502.9 L298.6 502.0 L299.2 502.7 L299.8 502.5 L300.4 501.7 L301.0 502.4 L301.6 503.1 L302.2 502.8 L302.8 504.1 L303.4 504.2 L304.0 503.0 L304.6 503.4 L305.2 504.2 L305.8 502.7 L306.4 501.9 L307.0 502.0 L307.6 501.4 L308.2 501.5 L308.8 502.4 L309.4 502.3 L310.0 502.7 L310.6 502.8 L311.2 502.1 L311.8 502.3 L312.4 502.3 L313.0 502.0 L313.6 502.0 L314.2 502.8 L314.8 502.8 L315.4 503.2 L316.0 503.8 L316.6 503.6 L317.2 502.2 L317.8 502.2 L318.4 502.8 L319.0 503.3 L319.6 503.7 L320.2 502.6 L320.8 502.9 L321.4 503.6 L322.0 504.4 L322.6 504.3 L323.2 502.8 L323.8 502.9 L324.4 502.9 L325.0 503.9 L325.6 503.7 L326.2 503.1 L326.8 502.9 L327.4 503.6 L328.0 504.0 L328.6 502.9 L329.2 503.0 L329.8 503.4 L330.4 503.4 L331.0 503.4 L331.6 502.6 L332.2 502.5 L332.8 501.8 L333.4 503.2 L334.0 503.8 L334.6 502.0 L335.2 502.8 L335.8 503.9 L336.4 503.1 L337.0 502.2 L337.6 503.7 L338.2 502.8 L338.8 504.1 L339.4 503.1 L340.0 502.8 L340.6 503.3 L341.2 503.5 L341.8 503.9 L342.4 503.8 L343.0 503.6 L343.6 504.4 L344.2 504.2 L344.8 503.7 L345.4 503.5 L346.0 503.4 L346.6 503.4 L347.2 503.9 L347.8 503.8 L348.4 503.6 L349.0 504.0 L349.6 503.3 L350.2 503.6 L350.8 503.7 L351.4 502.5 L352.0 503.0 L352.6 504.0 L353.2 502.8 L353.8 503.5 L354.4 502.4 L355.0 502.8 L355.6 502.1 L356.2 502.2 L356.8 502.4 L357.4 502.5 L358.0 503.5 L358.6 503.7 L359.2 503.6 L359.8 503.3 L360.4 504.2 L361.0 503.9 L361.6 503.1 L362.2 502.4 L362.8 503.4 L363.4 503.6 L364.0 503.4 L364.6 503.8 L365.2 503.8 L365.8 503.2 L366.4 503.6 L367.0 503.6 L367.6 503.5 L368.2 503.0 L368.8 503.0 L369.4 503.6 L370.0 504.7 L370.6 505.1 L371.2 503.2 L371.8 502.5 L372.4 502.8 L373.0 502.6 L373.6 502.9 L374.2 503.3 L374.8 502.7 L375.4 503.5 L376.0 504.0 L376.6 504.5 L377.2 504.7 L377.8 504.3 L378.4 504.6 L379.0 502.9 L379.6 503.0 L380.2 503.0 L380.8 503.2 L381.4 503.4 L382.0 502.8 L382.6 503.9 L383.2 503.7 L383.8 503.0 L384.4 502.7 L385.0 501.5 L385.6 500.5 L386.2 502.0 L386.8 502.6 L387.4 502.4 L388.0 501.6 L388.6 502.2 L389.2 503.7 L389.8 503.3 L390.4 502.9 L391.0 502.4 L391.6 503.1 L392.2 503.6 L392.8 503.1 L393.4 502.4 L394.0 502.5 L394.6 501.9 L395.2 502.3 L395.8 502.8 L396.4 502.2 L397.0 502.5 L397.6 503.5 L398.2 502.8 L398.8 503.0 L399.4 502.3 L400.0 501.7 L400.6 502.3 L401.2 502.0 L401.8 500.9 L402.4 501.4 L403.0 502.3 L403.6 503.5 L404.2 502.4 L404.8 502.6 L405.4 503.1 L406.0 502.8 L406.6 502.7 L407.2 503.9 L407.8 503.5 L408.4 501.3 L409.0 503.0 L409.6 503.3 L410.2 503.5 L410.8 503.0 L411.4 503.6 L412.0 504.4 L412.6 504.5 L413.2 504.4 L413.8 503.9 L414.4 503.6 L415.0 503.3 L415.6 502.4 L416.2 504.1 L416.8 503.1 L417.4 502.8 L418.0 502.7 L418.6 502.4 L419.2 501.0 L419.8 501.9 L420.4 501.2 L421.0 501.0 L421.6 500.3 L422.2 500.6 L422.8 502.0 L423.4 501.6 L424.0 501.6 L424.6 501.5 L425.2 500.8 L425.8 500.9 L426.4 500.7 L427.0 501.0 L427.6 500.1 L428.2 501.4 L428.8 502.6 L429.4 503.1 L430.0 503.1 L430.6 502.5 L431.2 501.7 L431.8 502.9 L432.4 502.9 L433.0 502.6 L433.6 501.9 L434.2 503.0 L434.8 504.0 L435.4 503.6 L436.0 503.0 L436.6 503.4 L437.2 503.2 L437.8 503.5 L438.4 503.9 L439.0 503.7 L439.6 503.6 L440.2 503.6 L440.8 502.9 L441.4 502.8 L442.0 503.7 L442.6 503.4 L443.2 503.8 L443.8 502.8 L444.4 504.4 L445.0 504.3 L445.6 504.8 L446.2 502.4 L446.8 502.8 L447.4 505.0 L448.0 504.7 L448.6 504.6 L449.2 504.6 L449.8 504.7 L450.4 504.8 L451.0 504.0 L451.6 504.5 L452.2 505.5 L452.8 504.9 L453.4 504.2 L454.0 504.7 L454.6 505.2 L455.2 504.5 L455.8 504.3 L456.4 504.8 L457.0 505.1 L457.6 505.3 L458.2 504.2 L458.8 504.3 L459.4 504.4 L460.0 502.6 L460.6 503.6 L461.2 504.0 L461.8 503.5 L462.4 503.0 L463.0 504.0 L463.6 504.4 L464.2 503.5 L464.8 503.1 L465.4 503.5 L466.0 504.7 L466.6 504.6 L467.2 503.6 L467.8 502.7 L468.4 502.6 L469.0 503.3 L469.6 503.6 L470.2 503.8 L470.8 503.1 L471.4 503.8 L472.0 504.1 L472.6 503.3 L473.2 505.5 L473.8 505.0 L474.4 504.4 L475.0 503.2 L475.6 503.4 L476.2 504.9 L476.8 504.6 L477.4 502.7 L478.0 504.7 L478.6 504.8 L479.2 504.4 L479.8 503.3 L480.4 503.8 L481.0 503.5 L481.6 504.4 L482.2 505.2 L482.8 504.5 L483.4 504.3 L484.0 503.3 L484.6 502.7 L485.2 503.4 L485.8 504.3 L486.4 504.5 L487.0 503.5 L487.6 503.4 L488.2 502.8 L488.8 502.0 L489.4 503.1 L490.0 503.5 L490.6 503.0 L491.2 502.8 L491.8 502.0 L492.4 503.3 L493.0 504.4 L493.6 503.7 L494.2 503.9 L494.8 503.8 L495.4 503.1 L496.0 503.5 L496.6 503.6 L497.2 505.7 L497.8 504.2 L498.4 502.8 L499.0 502.8 L499.6 504.8 L500.2 504.6 L500.8 504.1 L501.4 503.0 L502.0 503.2 L502.6 503.2 L503.2 504.5 L503.8 504.1 L504.4 505.3 L505.0 504.6 L505.6 504.0 L506.2 504.5 L506.8 502.5 L507.4 502.9 L508.0 503.6 L508.6 504.7 L509.2 504.8 L509.8 504.0 L510.4 502.5 L511.0 503.0 L511.6 503.1 L512.2 504.4 L512.8 503.8 L513.4 504.5 L514.0 505.2 L514.6 504.2 L515.2 504.3 L515.8 503.8 L516.4 503.9 L517.0 504.0 L517.6 504.0 L518.2 504.0 L518.8 504.1 L519.4 505.2 L520.0 503.9 L520.6 504.1 L521.2 503.6 L521.8 502.6 L522.4 504.4 L523.0 504.1 L523.6 503.0 L524.2 503.0 L524.8 502.7 L525.4 504.1 L526.0 505.2 L526.6 504.7 L527.2 502.8 L527.8 502.4 L528.4 504.1 L529.0 505.0 L529.6 504.2 L530.2 504.2 L530.8 502.9 L531.4 503.5 L532.0 504.0 L532.6 503.5 L533.2 503.7 L533.8 504.2 L534.4 503.4 L535.0 503.2 L535.6 504.3 L536.2 504.1 L536.8 503.4 L537.4 504.1 L538.0 503.8 L538.6 504.5 L539.2 504.2 L539.8 503.8 L540.4 503.6 L541.0 504.2 L541.6 504.4 L542.2 505.4 L542.8 504.2 L543.4 503.4 L544.0 505.0 L544.6 503.2 L545.2 504.7 L545.8 503.8 L546.4 504.7 L547.0 504.1 L547.6 504.2 L548.2 503.9 L548.8 503.8 L549.4 504.0 L550.0 503.5 L550.6 503.8 L551.2 502.9 L551.8 503.0 L552.4 503.2 L553.0 503.7 L553.6 504.4 L554.2 503.2 L554.8 502.8 L555.4 502.7 L556.0 503.3 L556.6 503.9 L557.2 503.2 L557.8 503.3 L558.4 503.3 L559.0 503.4 L559.6 502.5 L560.2 504.1 L560.8 504.4 L561.4 503.4 L562.0 503.6 L562.6 503.4 L563.2 504.6 L563.8 505.0 L564.4 506.1 L565.0 504.1 L565.6 503.3 L566.2 503.4 L566.8 503.1 L567.4 504.1 L568.0 504.5 L568.6 504.9 L569.2 504.5 L569.8 504.1 L570.4 505.1 L571.0 504.9 L571.6 504.7 L572.2 503.4 L572.8 503.4 L573.4 503.6 L574.0 503.6 L574.6 502.9 L575.2 504.8 L575.8 504.4 L576.4 504.9 L577.0 505.1 L577.6 505.5 L578.2 504.9 L578.8 504.4 L579.4 503.7 L580.0 504.4 L580.6 505.1 L581.2 503.0 L581.8 503.3 L582.4 504.4 L583.0 505.0 L583.6 503.4 L584.2 503.5 L584.8 504.5 L585.4 506.1 L586.0 503.9 L586.6 503.9 L587.2 504.5 L587.8 503.8 L588.4 504.4 L589.0 504.5 L589.6 504.1 L590.2 504.7 L590.8 505.6 L591.4 504.7 L592.0 504.1 L592.6 504.0 L593.2 504.8 L593.8 505.4 L594.4 505.0 L595.0 505.4 L595.6 506.6 L596.2 504.6 L596.8 504.1 L597.4 504.9 L598.0 504.9 L598.6 505.5 L599.2 506.0 L599.8 505.4 L600.4 505.0 L601.0 505.4 L601.6 505.4 L602.2 504.9 L602.8 504.6 L603.4 505.3 L604.0 504.7 L604.6 504.2 L605.2 505.1 L605.8 504.5 L606.4 504.5 L607.0 505.1 L607.6 504.4 L608.2 504.4 L608.8 503.9 L609.4 503.6 L610.0 505.0 L610.6 505.8 L611.2 504.6 L611.8 505.6 L612.4 505.9 L613.0 505.7 L613.6 504.0 L614.2 504.2 L614.8 505.6 L615.4 504.7 L616.0 504.5 L616.6 504.9 L617.2 504.7 L617.8 503.8 L618.4 503.9 L619.0 504.4 L619.6 504.0 L620.2 503.4 L620.8 504.5 L621.4 504.2 L622.0 503.2 L622.6 503.0 L623.2 503.4 L623.8 501.6 L624.4 502.6 L625.0 502.4 L625.6 502.4 L626.2 503.4 L626.8 503.6 L627.4 504.9 L628.0 503.0 L628.6 502.7 L629.2 501.8 L629.8 503.0 L630.4 502.4 L631.0 502.8 L631.6 503.7 L632.2 503.7 L632.8 503.3 L633.4 503.5 L634.0 502.3 L634.6 501.7 L635.2 501.5 L635.8 503.1 L636.4 504.1 L637.0 502.8 L637.6 502.7 L638.2 502.7 L638.8 502.9 L639.4 501.9 L640.0 503.5 L640.6 503.9 L641.2 502.7 L641.8 502.4 L642.4 502.7 L643.0 504.0 L643.6 504.5 L644.2 503.0 L644.8 502.6 L645.4 503.8 L646.0 504.3 L646.6 504.5 L647.2 503.8 L647.8 504.7 L648.4 504.8 L649.0 503.2 L649.6 503.9 L650.2 504.7 L650.8 504.8 L651.4 503.6 L652.0 502.6 L652.6 503.1 L653.2 502.9 L653.8 503.7 L654.4 504.6 L655.0 503.7 L655.6 503.7 L656.2 503.2 L656.8 504.3 L657.4 503.4 L658.0 503.3 L658.6 505.1 L659.2 504.5 L659.8 504.1 L660.4 502.8 L661.0 504.8 L661.6 505.3 L662.2 504.0 L662.8 503.6 L663.4 503.6 L664.0 504.3 L664.6 503.0 L665.2 504.1 L665.8 505.3 L666.4 504.5 L667.0 505.2 L667.6 504.0 L668.2 503.6 L668.8 504.2 L669.4 503.7 L670.0 503.6 L670.6 503.1 L671.2 502.6 L671.8 503.2 L672.4 504.1 L673.0 504.3 L673.6 503.6 L674.2 503.5 L674.8 502.8 L675.4 503.2 L676.0 503.4 L676.6 503.5 L677.2 503.7 L677.8 504.1 L678.4 504.8 L679.0 504.6 L679.6 504.2 L680.2 503.1 L680.8 503.4 L681.4 504.2 L682.0 504.6 L682.6 504.8 L683.2 503.5 L683.8 504.6 L684.4 504.9 L685.0 504.6 L685.6 504.5 L686.2 505.2 L686.8 505.3 L687.4 505.4 L688.0 504.0 L688.6 504.8 L689.2 506.5 L689.8 505.8 L690.4 505.0 L691.0 505.0 L691.6 504.8 L692.2 506.5 L692.8 506.8 L693.4 506.4 L694.0 506.4 L694.6 506.0 L695.2 506.3 L695.8 505.9 L696.4 506.1 L697.0 505.1 L697.6 504.7 L698.2 504.2 L698.8 504.0 L699.4 503.6 L700.0 505.4 L700.6 505.7 L701.2 505.2 L701.8 505.1 L702.4 504.6 L703.0 504.4 L703.6 503.3 L704.2 503.6 L704.8 502.7 L705.4 503.3 L706.0 503.7 L706.6 503.6 L707.2 503.4 L707.8 504.9 L708.4 504.8 L709.0 503.5 L709.6 502.9 L710.2 503.5 L710.8 504.2 L711.4 502.8 L712.0 504.1 L712.6 503.8 L713.2 503.7 L713.8 504.5 L714.4 504.0 L715.0 503.9 L715.6 504.6 L716.2 503.4 L716.8 504.9 L717.4 503.7 L718.0 503.8 L718.6 505.9 L719.2 507.3 L719.8 505.9 L720.4 504.1 L721.0 503.4 L721.6 504.9 L722.2 505.2 L722.8 505.0 L723.4 505.2 L724.0 505.3 L724.6 506.2 L725.2 505.9 L725.8 505.5 L726.4 504.5 L727.0 505.7 L727.6 505.3 L728.2 506.4 L728.8 505.9 L729.4 504.7 L730.0 505.4 L730.6 505.3 L731.2 506.3 L731.8 506.5 L732.4 506.5 L733.0 505.5 L733.6 505.7 L734.2 504.7 L734.8 505.4 L735.4 505.3 L736.0 505.4 L736.6 505.3 L737.2 505.7 L737.8 504.8 L738.4 504.9 L739.0 505.7 L739.6 504.8 L740.2 504.2 L740.8 504.0 L741.4 504.5 L742.0 504.7 L742.6 505.0 L743.2 504.6 L743.8 504.9 L744.4 504.7 L745.0 505.6 L745.6 504.8 L746.2 505.0 L746.8 504.7 L747.4 503.8 L748.0 504.9 L748.6 504.5 L749.2 504.8 L749.8 503.0 L750.4 502.6 L751.0 502.6 L751.6 502.9 L752.2 504.0 L752.8 504.3 L753.4 503.8 L754.0 504.1 L754.6 504.2 L755.2 505.2 L755.8 505.3 L756.4 505.1 L757.0 505.5 L757.6 506.2 L758.2 505.3 L758.8 503.8 L759.4 504.4 L760.0 504.7 L760.6 505.4 L761.2 505.4 L761.8 505.3 L762.4 504.1 L763.0 505.5 L763.6 505.0 L764.2 505.5 L764.8 505.1 L765.4 504.0 L766.0 504.0 L766.6 505.1 L767.2 505.3 L767.8 503.9 L768.4 503.2 L769.0 502.7 L769.6 503.3 L770.2 503.6 L770.8 504.0 L771.4 504.5 L772.0 503.8 L772.6 503.2 L773.2 503.7 L773.8 504.0 L774.4 504.1 L775.0 504.1 L775.6 503.9 L776.2 504.2 L776.8 503.6 L777.4 503.0 L778.0 503.8 L778.6 504.9 L779.2 503.8 L779.8 505.2 L780.4 503.8 L781.0 503.9 L781.6 502.7 L782.2 503.6 L782.8 504.6 L783.4 503.1 L784.0 503.2 L784.6 504.1 L785.2 504.1 L785.8 502.9 L786.4 503.1 L787.0 504.3 L787.6 504.7 L788.2 505.0 L788.8 504.7 L789.4 505.3 L790.0 505.5 L790.6 504.4 L791.2 505.6 L791.8 505.9 L792.4 506.0 L793.0 505.0 L793.6 505.1 L794.2 505.1 L794.8 505.0 L795.4 505.8 L796.0 505.3 L796.6 504.5 L797.2 504.9 L797.8 504.1 L798.4 503.6 L799.0 503.9 L799.6 504.7 L800.2 504.8 L800.8 504.6 L801.4 505.1 L802.0 505.6 L802.6 503.8 L803.2 504.2 L803.8 504.0 L804.4 502.9 L805.0 503.1 L805.6 503.4 L806.2 503.1 L806.8 502.5 L807.4 503.1 L808.0 502.8 L808.6 502.9 L809.2 503.0 L809.8 501.2 L810.4 502.0 L811.0 501.6 L811.6 500.4 L812.2 500.6" stroke="#e4292d" stroke-width="4.4" fill="none" stroke-linejoin="round" stroke-linecap="butt"/>
<path d="M200.0 447.3 L200.6 447.3 L201.2 447.3 L201.8 448.1 L202.4 449.2 L203.0 447.7 L203.6 449.1 L204.2 449.5 L204.8 448.3 L205.4 448.0 L206.0 448.9 L206.6 449.7 L207.2 450.3 L207.8 449.7 L208.4 449.7 L209.0 448.3 L209.6 447.6 L210.2 447.0 L210.8 447.4 L211.4 448.1 L212.0 448.3 L212.6 447.7 L213.2 448.7 L213.8 448.3 L214.4 447.8 L215.0 448.1 L215.6 449.4 L216.2 448.6 L216.8 448.0 L217.3 448.3 L217.9 449.3 L218.4 449.2 L218.8 449.9 L219.1 450.3 L219.4 450.4 L219.5 451.3 L219.7 451.8 L219.8 452.3 L219.9 453.0 L220.0 453.6 L220.0 454.2 L220.1 454.8 L220.2 455.4 L220.2 456.0 L220.3 456.6 L220.3 457.2 L220.4 457.8 L220.4 458.4 L220.4 459.0 L220.5 459.6 L220.5 460.2 L220.5 460.8 L220.6 461.4 L220.6 462.0 L220.6 462.6 L220.7 463.2 L220.7 463.8 L220.7 464.4 L220.7 465.0 L220.8 465.6 L220.8 466.2 L220.8 466.8 L220.8 467.4 L220.8 468.0 L220.9 468.6 L220.9 469.2 L220.9 469.8 L220.9 470.4 L221.0 471.0 L221.0 471.6 L221.0 472.2 L221.0 472.8 L221.1 473.4 L221.1 474.0 L221.1 474.6 L221.1 475.2 L221.2 475.8 L221.2 476.4 L221.2 477.0 L221.3 477.6 L221.3 478.2 L221.3 478.7 L221.4 479.3 L221.4 479.9 L221.5 480.5 L221.5 481.1 L221.5 481.7 L221.6 482.3 L221.6 482.9 L221.7 483.5 L221.7 484.1 L221.7 484.7 L221.8 485.3 L221.8 485.9 L221.9 486.5 L221.9 487.1 L222.0 487.7 L222.0 488.3 L222.0 488.9 L222.1 489.5 L222.1 490.1 L222.2 490.7 L222.2 491.3 L222.3 491.9 L222.3 492.5 L222.4 493.1 L222.4 493.7 L222.5 494.3 L222.5 494.9 L222.6 495.5 L222.6 496.1 L222.7 496.7 L222.7 497.3 L222.8 497.9 L222.9 498.5 L222.9 499.1 L223.0 499.7 L223.0 500.3 L223.1 500.9 L223.2 501.5 L223.2 502.1 L223.3 502.7 L223.4 503.3 L223.5 503.9 L223.5 504.5 L223.6 505.0 L223.7 505.6 L223.8 506.2 L223.9 506.8 L224.0 507.4 L224.0 508.0 L224.1 508.6 L224.2 509.2 L224.4 509.8 L224.5 510.4 L224.6 511.0 L224.7 511.6 L224.8 512.2 L224.9 512.7 L225.1 513.3 L225.2 513.9 L225.4 514.5 L225.5 515.2 L225.7 515.7 L225.9 516.2 L226.2 516.7 L226.4 517.2 L226.8 517.9 L227.3 518.6 L227.8 518.5 L228.4 518.5 L229.0 519.3 L229.6 518.2 L230.2 518.2 L230.7 517.9 L231.3 517.4 L231.8 517.9 L232.4 517.8 L232.9 517.1 L233.4 516.8 L234.0 516.3 L234.5 515.6 L235.0 515.8 L235.5 515.2 L236.1 515.0 L236.6 515.2 L237.1 515.0 L237.6 514.3 L238.2 514.6 L238.7 514.5 L239.2 513.8 L239.7 513.3 L240.3 513.0 L240.8 512.5 L241.3 512.1 L241.9 512.4 L242.4 512.2 L242.9 511.4 L243.5 511.0 L244.0 510.7 L244.6 510.4 L245.2 510.0 L245.8 509.8 L246.4 510.9 L247.0 510.5 L247.6 510.7 L248.1 511.6 L248.7 510.4 L249.3 510.5 L249.9 509.5 L250.5 509.9 L251.1 510.7 L251.7 510.1 L252.3 509.1 L252.9 509.2 L253.5 510.3 L254.1 509.9 L254.7 510.8 L255.3 510.7 L255.9 510.3 L256.5 510.5 L257.1 511.0 L257.7 510.5 L258.3 509.9 L258.9 510.6 L259.5 510.3 L260.1 510.5 L260.7 511.0 L261.3 511.1 L261.9 511.4 L262.5 510.6 L263.1 510.3 L263.7 510.5 L264.3 510.8 L264.9 510.2 L265.5 510.3 L266.1 510.1 L266.7 510.1 L267.3 511.0 L267.9 512.4 L268.5 511.0 L269.1 511.1 L269.7 511.1 L270.3 510.9 L270.9 511.4 L271.5 512.4 L272.1 511.5 L272.7 512.4 L273.3 511.8 L273.9 510.7 L274.5 510.7 L275.1 510.8 L275.7 510.8 L276.3 512.1 L276.9 512.0 L277.5 511.7 L278.1 510.9 L278.7 511.6 L279.3 511.5 L279.9 513.0 L280.5 511.7 L281.1 511.6 L281.7 511.5 L282.3 510.9 L282.9 510.7 L283.5 510.9 L284.1 511.5 L284.7 510.6 L285.3 510.8 L285.9 511.1 L286.5 510.5 L287.1 509.8 L287.7 509.8 L288.3 510.3 L288.9 510.3 L289.5 511.4 L290.1 511.0 L290.7 510.7 L291.3 510.2 L291.9 511.0 L292.5 510.5 L293.1 510.0 L293.7 510.5 L294.3 512.2 L294.9 510.6 L295.5 510.2 L296.1 511.5 L296.7 511.3 L297.3 510.8 L297.9 511.4 L298.5 509.8 L299.1 509.9 L299.7 509.7 L300.3 511.3 L300.9 511.3 L301.5 512.5 L302.1 511.5 L302.7 511.0 L303.3 509.9 L303.9 509.8 L304.5 510.6 L305.1 511.5 L305.7 510.2 L306.3 509.6 L306.9 511.8 L307.5 512.2 L308.1 511.3 L308.7 512.2 L309.3 513.0 L309.9 512.9 L310.5 511.4 L311.1 512.1 L311.7 512.1 L312.3 513.2 L312.9 512.7 L313.5 511.9 L314.1 512.8 L314.7 513.0 L315.3 511.6 L315.9 511.6 L316.5 512.1 L317.1 512.3 L317.7 512.0 L318.3 511.0 L318.9 511.2 L319.5 512.2 L320.1 512.4 L320.7 511.6 L321.3 512.3 L321.9 513.1 L322.5 511.8 L323.1 511.1 L323.7 510.9 L324.3 511.5 L324.9 511.3 L325.5 511.0 L326.1 510.6 L326.7 510.9 L327.3 510.8 L327.9 510.5 L328.5 510.8 L329.1 509.4 L329.7 510.3 L330.3 510.2 L330.9 510.8 L331.5 511.4 L332.1 510.3 L332.7 509.9 L333.3 510.2 L333.9 511.2 L334.5 511.4 L335.1 510.6 L335.7 510.9 L336.3 511.6 L336.9 510.7 L337.5 509.2 L338.1 509.5 L338.7 510.0 L339.3 510.5 L339.9 510.3 L340.5 511.2 L341.1 510.6 L341.7 511.4 L342.3 510.5 L342.9 511.4 L343.5 511.1 L344.1 511.9 L344.7 512.4 L345.3 512.3 L345.9 511.5 L346.5 510.2 L347.1 509.6 L347.7 508.7 L348.3 511.6 L348.9 512.1 L349.5 511.7 L350.1 510.8 L350.7 512.7 L351.3 511.2 L351.9 511.4 L352.5 510.1 L353.1 510.8 L353.7 512.2 L354.3 512.1 L354.9 510.8 L355.5 511.4 L356.1 512.0 L356.7 510.5 L357.3 511.6 L357.9 510.7 L358.5 511.7 L359.1 511.7 L359.7 512.2 L360.3 511.3 L360.9 511.2 L361.5 511.1 L362.1 510.8 L362.7 511.1 L363.3 510.7 L363.9 511.1 L364.5 511.8 L365.1 511.5 L365.7 512.2 L366.3 512.2 L366.9 511.9 L367.5 510.7 L368.1 511.6 L368.7 512.5 L369.3 512.3 L369.9 512.5 L370.5 512.2 L371.1 510.5 L371.7 511.5 L372.3 511.7 L372.9 511.0 L373.5 510.3 L374.1 511.1 L374.7 511.5 L375.3 512.8 L375.9 512.5 L376.5 511.1 L377.1 510.5 L377.7 510.7 L378.3 511.2 L378.9 511.2 L379.5 512.6 L380.1 511.0 L380.7 511.3 L381.3 511.7 L381.9 511.8 L382.5 511.0 L383.1 511.3 L383.7 511.8 L384.3 511.8 L384.9 511.2 L385.5 511.3 L386.1 512.0 L386.7 512.7 L387.3 511.1 L387.9 512.0 L388.5 512.5 L389.1 510.9 L389.7 512.4 L390.3 512.5 L390.9 511.6 L391.5 512.1 L392.1 512.3 L392.7 511.2 L393.3 510.9 L393.9 510.1 L394.5 510.2 L395.1 510.6 L395.7 510.8 L396.3 511.6 L396.9 510.4 L397.5 509.6 L398.1 510.9 L398.7 511.1 L399.3 510.6 L399.9 510.0 L400.5 509.4 L401.1 509.7 L401.7 511.1 L402.3 510.8 L402.9 510.3 L403.5 510.3 L404.1 509.7 L404.7 509.3 L405.3 509.6 L405.9 509.8 L406.5 508.8 L407.1 508.7 L407.7 508.8 L408.3 509.8 L408.9 510.5 L409.5 509.4 L410.1 509.2 L410.7 509.1 L411.3 509.7 L411.9 509.4 L412.5 509.5 L413.1 509.9 L413.7 511.9 L414.3 510.7 L414.9 510.0 L415.5 510.2 L416.1 511.2 L416.7 511.3 L417.3 510.4 L417.9 509.2 L418.5 510.9 L419.1 511.3 L419.7 511.0 L420.3 510.6 L420.9 510.4 L421.5 510.8 L422.1 510.1 L422.7 510.6 L423.3 509.7 L423.9 509.5 L424.5 509.4 L425.1 509.3 L425.7 509.5 L426.3 510.5 L426.9 510.9 L427.5 509.4 L428.1 509.2 L428.7 510.5 L429.3 509.9 L429.9 510.0 L430.5 510.2 L431.1 510.4 L431.7 509.6 L432.3 510.7 L432.9 510.4 L433.5 508.5 L434.1 509.5 L434.7 509.7 L435.3 510.2 L435.9 509.9 L436.5 509.4 L437.1 509.7 L437.7 510.1 L438.3 510.0 L438.9 510.2 L439.5 511.5 L440.1 510.5 L440.7 509.3 L441.3 509.9 L441.9 510.1 L442.5 509.4 L443.1 509.9 L443.7 509.2 L444.3 508.5 L444.9 510.2 L445.5 510.9 L446.1 510.8 L446.7 510.3 L447.3 510.1 L447.9 510.7 L448.5 511.1 L449.1 511.7 L449.7 512.0 L450.3 511.6 L450.9 510.7 L451.5 510.7 L452.1 510.2 L452.7 511.5 L453.3 511.8 L453.9 512.1 L454.5 511.9 L455.1 512.2 L455.7 510.9 L456.3 511.2 L456.9 510.9 L457.5 510.5 L458.1 509.6 L458.7 509.8 L459.3 509.3 L459.9 510.2 L460.5 510.3 L461.1 510.5 L461.7 509.4 L462.3 510.0 L462.9 510.1 L463.5 509.3 L464.1 511.5 L464.7 511.1 L465.3 510.5 L465.9 512.1 L466.5 511.6 L467.1 509.2 L467.7 510.1 L468.3 510.3 L468.9 510.6 L469.5 510.1 L470.1 510.5 L470.7 510.5 L471.3 509.2 L471.9 510.8 L472.5 511.9 L473.1 511.4 L473.7 512.0 L474.3 512.3 L474.9 511.5 L475.5 511.4 L476.1 511.3 L476.7 511.1 L477.3 512.6 L477.9 511.8 L478.5 511.7 L479.1 512.1 L479.7 512.1 L480.3 510.3 L480.9 510.3 L481.5 511.2 L482.1 511.4 L482.7 510.2 L483.3 510.2 L483.9 511.7 L484.5 511.8 L485.1 511.2 L485.7 511.0 L486.3 510.7 L486.9 510.3 L487.5 510.7 L488.1 511.4 L488.7 511.5 L489.3 512.0 L489.9 510.6 L490.5 510.3 L491.1 511.7 L491.7 511.1 L492.3 511.4 L492.9 511.6 L493.5 510.8 L494.1 510.7 L494.7 511.5 L495.3 510.2 L495.9 511.8 L496.5 511.0 L497.1 512.4 L497.7 512.5 L498.3 512.4 L498.9 512.5 L499.5 512.1 L500.1 511.3 L500.7 512.5 L501.3 512.3 L501.9 512.3 L502.5 511.9 L503.1 511.9 L503.7 512.6 L504.3 512.7 L504.9 511.9 L505.5 510.8 L506.1 510.7 L506.7 511.0 L507.3 512.3 L507.9 512.1 L508.5 511.6 L509.1 511.3 L509.7 511.1 L510.3 511.8 L510.9 510.7 L511.5 510.8 L512.1 512.0 L512.7 511.9 L513.3 511.2 L513.9 510.2 L514.5 510.4 L515.1 511.7 L515.7 511.8 L516.3 512.2 L516.9 511.0 L517.5 510.7 L518.1 510.5 L518.7 511.6 L519.3 509.9 L519.9 511.0 L520.5 511.5 L521.1 509.7 L521.7 508.9 L522.3 509.0 L522.9 508.9 L523.5 509.9 L524.1 509.6 L524.7 509.0 L525.3 509.5 L525.9 510.6 L526.5 509.6 L527.1 509.5 L527.7 510.7 L528.3 509.2 L528.9 509.4 L529.5 510.6 L530.1 509.6 L530.7 508.3 L531.3 508.6 L531.9 508.1 L532.5 509.3 L533.1 510.0 L533.7 509.3 L534.3 511.3 L534.9 511.7 L535.5 511.2 L536.1 510.3 L536.7 510.8 L537.3 511.4 L537.9 512.0 L538.5 511.8 L539.1 509.8 L539.7 510.3 L540.3 510.5 L540.9 511.1 L541.5 512.0 L542.1 513.3 L542.7 512.1 L543.3 512.4 L543.9 512.0 L544.5 512.0 L545.1 512.8 L545.7 511.4 L546.3 512.4 L546.9 513.8 L547.5 514.4 L548.1 511.7 L548.7 510.7 L549.3 510.5 L549.9 511.1 L550.5 511.4 L551.1 511.6 L551.7 512.1 L552.3 511.3 L552.9 511.2 L553.5 510.0 L554.1 510.4 L554.7 510.5 L555.3 509.4 L555.9 510.9 L556.5 511.6 L557.1 511.1 L557.7 511.0 L558.3 510.7 L558.9 510.0 L559.5 510.5 L560.1 510.4 L560.7 510.7 L561.3 510.8 L561.9 510.6 L562.5 509.8 L563.1 510.7 L563.7 512.1 L564.3 511.6 L564.9 510.6 L565.5 510.3 L566.1 511.3 L566.7 510.6 L567.3 509.4 L567.9 510.3 L568.5 511.5 L569.1 509.7 L569.7 510.3 L570.3 510.1 L570.9 510.4 L571.5 510.1 L572.1 509.5 L572.7 508.6 L573.3 510.0 L573.9 510.5 L574.5 510.3 L575.1 509.6 L575.7 510.2 L576.3 511.8 L576.9 510.0 L577.5 510.0 L578.1 509.6 L578.7 510.3 L579.3 510.9 L579.9 511.6 L580.5 511.0 L581.1 510.8 L581.7 511.1 L582.3 511.2 L582.9 510.8 L583.5 511.0 L584.1 511.6 L584.7 510.5 L585.3 510.6 L585.9 510.2 L586.5 510.6 L587.1 511.8 L587.7 510.8 L588.3 511.6 L588.9 512.7 L589.5 511.7 L590.1 511.0 L590.7 510.2 L591.3 509.1 L591.9 510.0 L592.5 510.6 L593.1 511.9 L593.7 511.7 L594.3 510.6 L594.9 511.5 L595.5 511.3 L596.1 512.7 L596.7 512.7 L597.3 512.0 L597.9 511.4 L598.5 512.6 L599.1 512.3 L599.7 512.2 L600.3 511.7 L600.9 511.2 L601.5 511.5 L602.1 510.8 L602.7 511.5 L603.3 511.1 L603.9 510.0 L604.5 511.1 L605.1 511.0 L605.7 510.8 L606.3 511.1 L606.9 511.5 L607.5 510.3 L608.1 510.4 L608.7 511.6 L609.3 511.2 L609.9 510.1 L610.5 510.9 L611.1 510.3 L611.7 511.7 L612.3 511.8 L612.9 511.6 L613.5 510.4 L614.1 510.8 L614.7 511.8 L615.3 510.7 L615.9 511.6 L616.5 511.4 L617.1 511.4 L617.7 510.9 L618.3 511.7 L618.9 511.8 L619.5 512.3 L620.1 513.0 L620.7 511.4 L621.3 511.0 L621.9 510.6 L622.5 512.1 L623.1 511.1 L623.7 511.3 L624.3 510.3 L624.9 510.7 L625.5 511.4 L626.1 511.4 L626.7 511.0 L627.3 511.6 L627.9 511.4 L628.5 511.8 L629.1 511.2 L629.7 511.5 L630.3 511.2 L630.9 512.1 L631.5 511.5 L632.1 511.3 L632.7 511.2 L633.3 512.2 L633.9 511.8 L634.5 511.7 L635.1 512.5 L635.7 511.5 L636.3 512.6 L636.9 512.8 L637.5 511.0 L638.1 512.3 L638.7 512.5 L639.3 512.2 L639.9 512.1 L640.5 511.3 L641.1 512.2 L641.7 512.1 L642.3 511.0 L642.9 511.5 L643.5 511.2 L644.1 511.8 L644.7 511.5 L645.3 511.8 L645.9 510.9 L646.5 511.3 L647.1 511.5 L647.7 511.8 L648.3 512.9 L648.9 513.2 L649.5 511.0 L650.1 511.9 L650.7 511.3 L651.3 511.1 L651.9 511.0 L652.5 511.0 L653.1 511.0 L653.7 511.6 L654.3 511.8 L654.9 511.1 L655.5 510.7 L656.1 510.9 L656.7 511.0 L657.3 511.4 L657.9 509.6 L658.5 508.9 L659.1 509.7 L659.7 510.1 L660.3 509.9 L660.9 509.6 L661.5 508.0 L662.1 508.9 L662.7 509.1 L663.3 508.8 L663.9 509.3 L664.5 509.8 L665.1 510.1 L665.7 509.3 L666.3 509.0 L666.9 510.6 L667.5 511.8 L668.1 510.8 L668.7 510.5 L669.3 509.9 L669.9 510.9 L670.5 511.6 L671.1 509.8 L671.7 511.0 L672.3 509.9 L672.9 511.8 L673.5 511.7 L674.1 511.0 L674.7 511.4 L675.3 512.1 L675.9 510.7 L676.5 511.8 L677.1 511.6 L677.7 511.3 L678.3 511.7 L678.9 510.0 L679.5 510.4 L680.1 510.0 L680.7 510.7 L681.3 510.9 L681.9 509.8 L682.5 510.7 L683.1 510.9 L683.7 510.3 L684.3 510.7 L684.9 511.5 L685.5 511.3 L686.1 511.7 L686.7 510.1 L687.3 509.9 L687.9 511.2 L688.5 510.3 L689.1 511.5 L689.7 511.2 L690.3 511.5 L690.9 511.1 L691.5 512.1 L692.1 512.5 L692.7 512.5 L693.3 511.8 L693.9 510.8 L694.5 512.1 L695.1 512.1 L695.7 512.4 L696.3 511.0 L696.9 511.8 L697.5 511.6 L698.1 511.9 L698.7 512.5 L699.3 512.7 L699.9 513.0 L700.5 512.4 L701.1 512.2 L701.7 511.8 L702.3 511.0 L702.9 512.0 L703.5 511.0 L704.1 511.0 L704.7 511.4 L705.3 510.7 L705.9 510.3 L706.5 509.1 L707.1 509.8 L707.7 509.9 L708.3 510.3 L708.9 511.0 L709.5 510.5 L710.1 510.5 L710.7 510.8 L711.3 511.5 L711.9 511.6 L712.5 511.1 L713.1 510.7 L713.7 511.2 L714.3 510.6 L714.9 510.6 L715.5 510.9 L716.1 510.4 L716.7 509.9 L717.3 509.9 L717.9 510.6 L718.5 511.2 L719.1 511.4 L719.7 510.6 L720.3 511.1 L720.9 511.1 L721.5 511.2 L722.1 512.7 L722.7 510.9 L723.3 510.6 L723.9 511.5 L724.5 512.3 L725.1 511.5 L725.7 512.1 L726.3 510.9 L726.9 511.1 L727.5 511.3 L728.1 511.4 L728.7 511.6 L729.3 511.6 L729.9 511.5 L730.5 511.2 L731.1 512.0 L731.7 512.0 L732.3 512.3 L732.9 512.9 L733.5 512.5 L734.1 512.4 L734.7 512.9 L735.3 511.7 L735.9 510.8 L736.5 511.2 L737.1 511.0 L737.7 511.6 L738.3 511.7 L738.9 511.9 L739.5 512.1 L740.1 512.4 L740.7 512.3 L741.3 512.0 L741.9 511.6 L742.5 511.5 L743.1 511.7 L743.7 511.5 L744.3 511.0 L744.9 511.6 L745.5 512.3 L746.1 512.0 L746.7 511.5 L747.3 512.2 L747.9 512.5 L748.5 511.8 L749.1 513.4 L749.7 513.4 L750.3 512.7 L750.9 513.3 L751.5 513.1 L752.1 513.1 L752.7 512.3 L753.3 512.4 L753.9 512.7 L754.5 512.8 L755.1 512.5 L755.7 511.8 L756.3 512.2 L756.9 513.2 L757.5 513.1 L758.1 514.3 L758.7 514.1 L759.3 513.0 L759.9 512.7 L760.5 511.7 L761.1 513.1 L761.7 513.3 L762.3 512.0 L762.9 511.7 L763.5 511.9 L764.1 512.6 L764.7 512.6 L765.3 511.3 L765.9 511.3 L766.5 511.8 L767.1 511.6 L767.7 511.2 L768.3 511.3 L768.9 510.3 L769.5 509.9 L770.1 511.2 L770.7 511.5 L771.3 511.7 L771.9 510.6 L772.5 510.1 L773.1 510.6 L773.7 510.6 L774.3 510.6 L774.9 510.8 L775.5 511.5 L776.1 511.2 L776.7 511.5 L777.3 510.2 L777.9 510.0 L778.5 510.9 L779.1 509.8 L779.7 509.5 L780.3 509.4 L780.9 509.3 L781.5 510.8 L782.1 511.8 L782.7 511.2 L783.3 511.0 L783.9 510.2 L784.5 509.8 L785.1 510.4 L785.7 509.4 L786.3 509.0 L786.9 509.6 L787.5 510.8 L788.1 510.5 L788.7 509.9 L789.3 509.2 L789.9 509.4 L790.5 510.2 L791.1 510.0 L791.7 509.7 L792.3 510.6 L792.9 509.6 L793.5 508.9 L794.1 509.9 L794.7 510.9 L795.3 510.9 L795.9 510.8 L796.5 510.0 L797.1 510.6 L797.7 510.6 L798.3 510.2 L798.9 510.0 L799.5 511.4 L800.1 511.0 L800.7 510.7 L801.3 511.9 L801.9 512.8 L802.5 510.8 L803.1 511.7 L803.7 513.2 L804.3 513.2 L804.9 511.5 L805.5 511.4 L806.1 511.0 L806.7 512.0 L807.3 511.6 L807.9 512.3 L808.5 513.8 L809.1 512.6 L809.7 512.3 L810.3 513.7 L810.9 514.3 L811.5 514.7 L812.1 515.4" stroke="#2f60ad" stroke-width="4.4" fill="none" stroke-linejoin="round" stroke-linecap="butt"/>
<path d="M200.0 708.1 L200.6 708.0 L201.2 707.5 L201.8 706.3 L202.4 707.6 L203.0 706.7 L203.6 708.4 L204.2 708.7 L204.8 708.9 L205.4 708.9 L206.0 708.4 L206.6 707.9 L207.1 708.2 L207.7 709.2 L208.3 708.2 L208.9 708.1 L209.5 707.9 L210.1 708.1 L210.7 708.5 L211.3 708.9 L211.9 708.8 L212.5 708.9 L213.0 709.0 L213.6 709.4 L214.2 709.1 L214.7 710.0 L215.3 710.6 L215.9 709.9 L216.5 710.3 L217.1 711.0 L217.7 709.5 L218.2 708.9 L218.7 709.0 L219.1 709.2 L219.5 708.6 L219.8 707.7 L220.2 707.3 L220.5 706.8 L220.8 706.2 L221.0 705.6 L221.3 705.2 L221.5 704.6 L221.8 704.1 L222.0 703.5 L222.3 703.0 L222.5 702.4 L222.7 701.8 L223.0 701.3 L223.2 700.7 L223.4 700.2 L223.7 699.6 L223.9 699.1 L224.1 698.5 L224.4 698.0 L224.6 697.4 L224.8 696.9 L225.1 696.3 L225.4 695.8 L225.6 695.3 L225.9 694.7 L226.2 694.2 L226.5 693.7 L226.8 693.2 L227.1 692.6 L227.5 692.3 L227.9 691.9 L228.3 691.7 L228.8 690.9 L229.2 690.3 L229.7 689.7 L230.2 688.8 L230.7 689.0 L231.3 689.3 L231.8 688.6 L232.3 688.0 L232.9 688.5 L233.4 688.1 L234.0 687.8 L234.5 687.6 L235.0 687.4 L235.6 687.1 L236.1 686.5 L236.5 686.3 L237.0 686.0 L237.4 685.7 L237.8 685.1 L238.2 684.9 L238.6 684.3 L238.9 683.9 L239.3 683.3 L239.6 682.8 L239.9 682.3 L240.2 681.7 L240.5 681.2 L240.8 680.7 L241.1 680.1 L241.4 679.6 L241.6 679.1 L241.9 678.6 L242.2 678.0 L242.4 677.5 L242.7 676.9 L242.9 676.4 L243.2 675.9 L243.4 675.3 L243.7 674.8 L243.9 674.2 L244.2 673.7 L244.4 673.1 L244.7 672.6 L244.9 672.0 L245.2 671.5 L245.4 670.9 L245.7 670.4 L245.9 669.8 L246.1 669.3 L246.4 668.7 L246.6 668.2 L246.9 667.6 L247.1 667.1 L247.4 666.6 L247.7 666.0 L247.9 665.5 L248.2 664.9 L248.4 664.4 L248.7 663.9 L249.0 663.3 L249.3 662.8 L249.5 662.3 L249.8 661.7 L250.1 661.2 L250.3 660.7 L250.6 660.1 L250.9 659.6 L251.2 659.1 L251.4 658.5 L251.7 658.0 L252.0 657.5 L252.3 656.9 L252.5 656.4 L252.8 655.8 L253.1 655.3 L253.3 654.8 L253.6 654.2 L253.8 653.7 L254.1 653.1 L254.3 652.6 L254.6 652.1 L254.8 651.5 L255.1 650.9 L255.3 650.4 L255.6 649.8 L255.8 649.3 L256.0 648.7 L256.2 648.2 L256.4 647.6 L256.7 647.1 L256.9 646.5 L257.1 645.9 L257.3 645.4 L257.5 644.8 L257.7 644.2 L257.9 643.7 L258.0 643.1 L258.2 642.5 L258.4 641.9 L258.6 641.4 L258.8 640.8 L258.9 640.2 L259.1 639.7 L259.3 639.1 L259.5 638.5 L259.6 637.9 L259.8 637.4 L260.0 636.8 L260.1 636.2 L260.3 635.6 L260.5 635.1 L260.6 634.5 L260.8 633.9 L261.0 633.3 L261.1 632.7 L261.3 632.2 L261.5 631.6 L261.6 631.0 L261.8 630.4 L261.9 629.9 L262.1 629.3 L262.3 628.7 L262.4 628.1 L262.6 627.6 L262.8 627.0 L262.9 626.4 L263.1 625.8 L263.3 625.2 L263.5 624.7 L263.6 624.1 L263.8 623.5 L264.0 623.0 L264.2 622.4 L264.3 621.8 L264.5 621.2 L264.7 620.7 L264.9 620.1 L265.0 619.5 L265.2 618.9 L265.4 618.4 L265.6 617.8 L265.8 617.2 L265.9 616.6 L266.1 616.1 L266.3 615.5 L266.5 614.9 L266.6 614.3 L266.8 613.8 L267.0 613.2 L267.1 612.6 L267.3 612.1 L267.5 611.5 L267.7 610.9 L267.8 610.3 L268.0 609.7 L268.2 609.2 L268.3 608.6 L268.5 608.0 L268.6 607.4 L268.8 606.9 L268.9 606.3 L269.1 605.7 L269.2 605.1 L269.4 604.5 L269.5 603.9 L269.7 603.4 L269.8 602.8 L269.9 602.2 L270.1 601.6 L270.2 601.0 L270.3 600.4 L270.4 599.8 L270.5 599.3 L270.6 598.7 L270.8 598.1 L270.9 597.5 L271.0 596.9 L271.1 596.3 L271.2 595.7 L271.3 595.1 L271.4 594.5 L271.5 593.9 L271.6 593.4 L271.7 592.8 L271.8 592.2 L271.9 591.6 L272.0 591.0 L272.1 590.4 L272.2 589.8 L272.4 589.2 L272.5 588.6 L272.6 588.0 L272.7 587.5 L272.8 586.9 L273.0 586.3 L273.1 585.7 L273.2 585.1 L273.3 584.5 L273.5 583.9 L273.6 583.3 L273.7 582.8 L273.8 582.2 L274.0 581.6 L274.1 581.0 L274.2 580.4 L274.3 579.8 L274.5 579.2 L274.6 578.7 L274.7 578.1 L274.9 577.5 L275.0 576.9 L275.1 576.3 L275.2 575.7 L275.4 575.1 L275.5 574.6 L275.6 574.0 L275.7 573.4 L275.9 572.8 L276.0 572.2 L276.1 571.6 L276.3 571.0 L276.4 570.4 L276.5 569.9 L276.6 569.3 L276.8 568.7 L276.9 568.1 L277.0 567.5 L277.1 566.9 L277.2 566.3 L277.4 565.7 L277.5 565.2 L277.6 564.6 L277.7 564.0 L277.8 563.4 L277.9 562.8 L278.0 562.2 L278.2 561.6 L278.3 561.0 L278.4 560.4 L278.5 559.9 L278.6 559.3 L278.7 558.7 L278.9 558.1 L279.0 557.5 L279.1 556.9 L279.2 556.3 L279.3 555.7 L279.5 555.2 L279.6 554.6 L279.7 554.0 L279.9 553.4 L280.0 552.8 L280.2 552.2 L280.3 551.7 L280.5 551.1 L280.7 550.5 L280.8 549.9 L281.0 549.4 L281.2 548.8 L281.4 548.2 L281.6 547.7 L281.8 547.1 L282.0 546.5 L282.2 546.0 L282.4 545.4 L282.6 544.8 L282.8 544.3 L283.0 543.7 L283.2 543.1 L283.4 542.6 L283.6 542.0 L283.8 541.4 L284.0 540.9 L284.2 540.3 L284.3 539.7 L284.5 539.1 L284.7 538.6 L284.8 538.0 L285.0 537.4 L285.1 536.8 L285.2 536.2 L285.4 535.6 L285.5 535.1 L285.6 534.5 L285.8 533.9 L285.9 533.3 L286.0 532.7 L286.2 532.1 L286.3 531.6 L286.4 531.0 L286.6 530.4 L286.7 529.8 L286.9 529.2 L287.0 528.6 L287.2 528.1 L287.3 527.5 L287.5 526.9 L287.7 526.3 L287.9 525.8 L288.1 525.2 L288.3 524.6 L288.5 524.1 L288.7 523.5 L289.0 523.0 L289.2 522.4 L289.4 521.9 L289.7 521.3 L290.0 520.8 L290.3 520.3 L290.6 519.8 L290.9 519.3 L291.3 518.7 L291.6 518.4 L292.0 517.8 L292.4 517.3 L292.8 517.0 L293.2 516.4 L293.6 515.9 L294.1 515.8 L294.5 515.5 L295.0 515.0 L295.5 514.4 L296.0 513.9 L296.5 513.7 L297.0 512.9 L297.5 512.7 L298.0 513.2 L298.6 513.0 L299.1 512.8 L299.6 512.1 L300.2 511.3 L300.7 511.3 L301.3 510.5 L301.8 511.1 L302.4 511.1 L302.9 510.1 L303.5 510.4 L304.0 509.9 L304.6 509.3 L305.2 508.3 L305.7 508.9 L306.3 509.2 L306.9 507.9 L307.5 508.0 L308.0 507.8 L308.6 507.4 L309.2 508.6 L309.8 508.2 L310.4 508.1 L311.0 508.4 L311.6 507.9 L312.1 509.7 L312.7 507.7 L313.3 507.0 L313.9 508.0 L314.5 507.8 L315.1 506.9 L315.7 507.0 L316.3 508.1 L316.9 508.0 L317.5 508.1 L318.1 508.2 L318.7 507.5 L319.3 508.4 L319.9 508.0 L320.5 508.0 L321.1 507.2 L321.7 508.1 L322.3 508.3 L322.9 509.3 L323.5 508.1 L324.1 508.7 L324.7 508.4 L325.3 508.7 L325.9 507.9 L326.5 507.4 L327.1 505.7 L327.7 506.2 L328.3 507.8 L328.9 507.7 L329.5 507.7 L330.1 507.1 L330.7 507.5 L331.3 506.8 L331.9 507.0 L332.5 507.8 L333.1 507.7 L333.7 506.7 L334.3 506.8 L334.9 506.9 L335.5 506.7 L336.1 506.5 L336.7 506.2 L337.3 506.9 L337.9 506.1 L338.5 506.3 L339.1 508.1 L339.7 508.9 L340.3 508.9 L340.9 507.8 L341.5 507.3 L342.0 508.3 L342.6 509.0 L343.2 508.2 L343.8 507.6 L344.4 506.8 L345.0 507.2 L345.6 509.1 L346.2 507.7 L346.8 507.9 L347.4 508.5 L348.0 508.8 L348.6 508.1 L349.2 509.3 L349.8 509.5 L350.4 509.1 L351.0 508.6 L351.6 508.5 L352.2 507.9 L352.8 509.3 L353.4 508.8 L354.0 508.2 L354.6 509.1 L355.2 509.7 L355.8 509.7 L356.4 510.0 L357.0 510.2 L357.6 509.2 L358.2 509.5 L358.8 509.5 L359.4 508.7 L360.0 510.1 L360.6 509.6 L361.2 509.9 L361.8 509.9 L362.4 509.4 L363.0 510.5 L363.6 510.8 L364.2 509.9 L364.8 508.4 L365.4 510.7 L366.0 510.3 L366.6 509.8 L367.2 509.7 L367.8 509.6 L368.4 510.2 L369.0 510.7 L369.6 509.9 L370.2 510.5 L370.8 510.2 L371.4 510.3 L372.0 510.4 L372.6 510.9 L373.2 511.4 L373.8 510.9 L374.4 511.5 L375.0 511.6 L375.6 509.9 L376.2 510.9 L376.8 510.5 L377.4 510.5 L378.0 511.2 L378.6 510.5 L379.2 510.3 L379.8 511.5 L380.4 511.6 L381.0 511.5 L381.6 512.5 L382.2 510.2 L382.8 509.4 L383.4 510.2 L384.0 510.0 L384.6 510.8 L385.2 510.4 L385.8 510.4 L386.4 510.7 L387.0 510.0 L387.6 509.4 L388.2 510.3 L388.8 511.4 L389.4 511.4 L390.0 512.0 L390.6 512.5 L391.2 511.9 L391.8 511.0 L392.4 510.6 L393.0 511.5 L393.6 512.4 L394.2 512.4 L394.8 511.8 L395.4 510.7 L396.0 511.4 L396.6 511.7 L397.2 511.7 L397.8 510.1 L398.4 510.2 L399.0 510.8 L399.6 510.8 L400.2 510.4 L400.8 511.0 L401.4 510.8 L402.0 511.4 L402.6 510.5 L403.2 510.4 L403.8 509.3 L404.4 510.4 L405.0 510.3 L405.6 511.0 L406.2 510.8 L406.8 511.3 L407.4 510.2 L408.0 509.5 L408.6 510.6 L409.2 510.9 L409.8 509.9 L410.4 509.6 L411.0 511.0 L411.6 511.5 L412.2 511.2 L412.8 510.7 L413.4 510.8 L414.0 511.8 L414.6 511.3 L415.2 509.9 L415.8 509.9 L416.4 511.1 L417.0 511.2 L417.6 510.3 L418.2 510.3 L418.8 511.4 L419.4 510.9 L420.0 511.3 L420.6 510.2 L421.2 509.9 L421.8 509.7 L422.4 510.7 L423.0 510.5 L423.6 509.9 L424.2 510.9 L424.8 510.7 L425.4 511.1 L426.0 512.2 L426.6 512.0 L427.2 511.5 L427.8 510.7 L428.4 510.0 L429.0 510.2 L429.6 510.7 L430.2 511.5 L430.8 510.2 L431.4 510.2 L432.0 510.6 L432.6 511.1 L433.2 511.6 L433.8 511.6 L434.4 510.8 L435.0 511.8 L435.6 511.0 L436.2 509.7 L436.8 509.4 L437.4 509.7 L438.0 510.1 L438.6 510.5 L439.2 509.6 L439.8 509.4 L440.4 509.4 L441.0 509.8 L441.6 509.1 L442.2 510.0 L442.8 509.4 L443.4 509.6 L444.0 510.1 L444.6 510.5 L445.2 511.6 L445.8 509.2 L446.4 507.9 L447.0 508.5 L447.6 509.8 L448.2 509.1 L448.8 510.0 L449.4 509.5 L450.0 509.6 L450.6 508.5 L451.2 510.0 L451.8 510.1 L452.4 509.0 L453.0 510.4 L453.6 511.2 L454.2 509.5 L454.8 508.5 L455.4 508.6 L456.0 509.1 L456.6 510.2 L457.2 510.6 L457.8 509.2 L458.4 508.9 L459.0 508.3 L459.6 508.9 L460.2 509.4 L460.8 508.3 L461.4 509.9 L462.0 510.5 L462.6 510.5 L463.2 509.2 L463.8 508.5 L464.4 509.2 L465.0 508.8 L465.6 508.4 L466.2 508.9 L466.8 509.1 L467.4 511.2 L468.0 510.9 L468.6 510.6 L469.2 509.6 L469.8 510.8 L470.4 510.1 L471.0 510.4 L471.6 509.6 L472.2 510.1 L472.8 508.9 L473.4 509.6 L474.0 509.6 L474.6 508.9 L475.2 509.6 L475.8 509.4 L476.4 509.5 L477.0 510.4 L477.6 510.6 L478.2 509.8 L478.8 510.5 L479.4 510.5 L480.0 510.3 L480.6 510.3 L481.2 508.7 L481.8 510.0 L482.4 509.6 L483.0 509.0 L483.6 509.2 L484.2 510.0 L484.8 510.3 L485.4 509.7 L486.0 508.3 L486.6 508.0 L487.2 509.1 L487.8 509.6 L488.4 509.0 L489.0 509.9 L489.6 510.0 L490.2 509.7 L490.8 509.2 L491.4 510.4 L492.0 510.6 L492.6 510.7 L493.2 509.9 L493.8 508.9 L494.4 510.0 L495.0 510.5 L495.6 509.8 L496.2 509.2 L496.8 510.4 L497.4 510.5 L498.0 509.3 L498.6 509.4 L499.2 509.3 L499.8 510.4 L500.4 510.9 L501.0 511.6 L501.6 510.4 L502.2 511.4 L502.8 510.8 L503.4 510.7 L504.0 510.0 L504.6 510.5 L505.2 510.4 L505.8 510.7 L506.4 511.0 L507.0 511.2 L507.6 511.4 L508.2 510.6 L508.8 510.1 L509.4 511.1 L510.0 510.5 L510.6 510.1 L511.2 511.1 L511.8 510.6 L512.4 510.3 L513.0 508.7 L513.6 509.3 L514.2 511.0 L514.8 510.2 L515.4 509.6 L516.0 508.7 L516.6 508.9 L517.2 509.1 L517.8 508.8 L518.4 508.3 L519.0 507.2 L519.6 507.6 L520.2 508.0 L520.8 508.7 L521.4 508.7 L522.0 508.2 L522.6 507.6 L523.2 507.6 L523.8 508.0 L524.4 507.2 L525.0 507.8 L525.6 508.0 L526.2 508.3 L526.8 509.4 L527.4 508.7 L528.0 509.3 L528.6 509.9 L529.2 509.3 L529.8 508.7 L530.4 508.2 L531.0 509.7 L531.6 508.2 L532.2 507.7 L532.8 509.5 L533.4 508.3 L534.0 508.3 L534.6 508.7 L535.2 508.4 L535.8 508.1 L536.4 509.8 L537.0 510.5 L537.6 510.7 L538.2 510.2 L538.8 509.9 L539.4 510.1 L540.0 511.4 L540.6 511.3 L541.2 510.5 L541.8 510.7 L542.4 510.1 L543.0 510.9 L543.6 510.3 L544.2 510.8 L544.8 510.6 L545.4 509.4 L546.0 511.3 L546.6 511.3 L547.2 510.7 L547.8 510.7 L548.4 511.1 L549.0 511.3 L549.6 511.6 L550.2 511.5 L550.8 511.7 L551.4 511.2 L552.0 510.0 L552.6 509.9 L553.2 511.1 L553.8 511.2 L554.4 510.6 L555.0 509.7 L555.6 509.8 L556.2 509.9 L556.8 510.6 L557.4 509.7 L558.0 509.1 L558.6 509.5 L559.2 510.5 L559.8 511.2 L560.4 510.2 L561.0 510.8 L561.6 509.9 L562.2 509.7 L562.8 509.7 L563.4 510.6 L564.0 510.2 L564.6 510.8 L565.2 510.5 L565.8 511.6 L566.4 510.9 L567.0 510.4 L567.6 509.9 L568.2 511.3 L568.8 510.9 L569.4 510.6 L570.0 510.4 L570.6 510.0 L571.2 509.9 L571.8 510.3 L572.4 509.6 L573.0 510.2 L573.6 511.5 L574.2 510.0 L574.8 509.6 L575.4 510.0 L576.0 509.1 L576.6 510.2 L577.2 509.3 L577.8 508.3 L578.4 508.7 L579.0 508.6 L579.6 509.2 L580.2 508.8 L580.8 509.0 L581.4 507.5 L582.0 508.3 L582.6 509.3 L583.2 509.3 L583.8 509.2 L584.4 509.6 L585.0 509.7 L585.6 509.3 L586.2 509.5 L586.8 510.0 L587.4 509.2 L588.0 507.5 L588.6 508.0 L589.2 509.0 L589.8 510.1 L590.4 510.0 L591.0 510.4 L591.6 510.8 L592.2 510.3 L592.8 509.5 L593.4 510.2 L594.0 509.0 L594.6 508.9 L595.2 509.2 L595.8 508.7 L596.4 511.2 L597.0 511.9 L597.6 510.2 L598.2 509.4 L598.8 508.5 L599.4 509.9 L600.0 509.3 L600.6 508.7 L601.2 508.6 L601.8 509.4 L602.4 509.5 L603.0 509.4 L603.6 508.9 L604.2 508.4 L604.8 510.3 L605.4 510.1 L606.0 508.9 L606.6 508.1 L607.2 508.5 L607.8 509.6 L608.4 509.7 L609.0 509.6 L609.6 509.9 L610.2 509.1 L610.8 510.0 L611.4 509.3 L612.0 508.6 L612.6 509.3 L613.2 509.2 L613.8 508.8 L614.4 509.9 L615.0 508.2 L615.6 509.0 L616.2 509.3 L616.8 508.6 L617.4 509.2 L618.0 509.8 L618.6 508.4 L619.2 508.2 L619.8 508.8 L620.4 509.6 L621.0 510.1 L621.6 509.6 L622.2 508.7 L622.8 510.0 L623.4 510.1 L624.0 509.9 L624.6 508.1 L625.2 507.8 L625.8 508.6 L626.4 508.9 L627.0 509.1 L627.6 508.4 L628.2 508.5 L628.8 509.1 L629.4 507.7 L630.0 508.1 L630.6 509.2 L631.2 509.8 L631.8 509.7 L632.4 510.3 L633.0 509.7 L633.6 509.7 L634.2 509.7 L634.8 509.0 L635.4 508.1 L636.0 508.6 L636.6 508.7 L637.2 508.5 L637.8 509.3 L638.4 508.6 L639.0 508.0 L639.6 508.8 L640.2 508.7 L640.8 509.2 L641.4 507.4 L642.0 508.0 L642.6 509.4 L643.2 509.9 L643.8 510.2 L644.4 511.0 L645.0 510.0 L645.6 509.9 L646.2 510.7 L646.8 510.3 L647.4 510.8 L648.0 511.4 L648.6 510.6 L649.2 510.4 L649.8 510.2 L650.4 510.9 L651.0 511.2 L651.6 511.5 L652.2 511.5 L652.8 512.1 L653.4 511.0 L654.0 510.6 L654.6 510.5 L655.2 511.3 L655.8 510.6 L656.4 510.0 L657.0 509.3 L657.6 510.1 L658.2 510.4 L658.8 508.3 L659.4 508.8 L660.0 509.2 L660.6 509.4 L661.2 509.9 L661.8 509.8 L662.4 510.1 L663.0 510.5 L663.6 511.0 L664.2 510.1 L664.8 510.2 L665.4 509.9 L666.0 510.0 L666.6 509.6 L667.2 509.2 L667.8 510.2 L668.4 510.5 L669.0 509.3 L669.6 509.6 L670.2 509.3 L670.8 508.4 L671.4 510.7 L672.0 510.8 L672.6 510.4 L673.2 509.8 L673.8 508.1 L674.4 507.0 L675.0 508.3 L675.6 508.5 L676.2 508.1 L676.8 508.0 L677.4 508.8 L678.0 508.7 L678.6 507.9 L679.2 507.8 L679.8 509.3 L680.4 508.5 L681.0 507.6 L681.6 506.4 L682.2 505.8 L682.8 505.3 L683.4 506.9 L684.0 507.6 L684.6 507.4 L685.2 507.5 L685.8 507.8 L686.4 507.8 L687.0 506.2 L687.6 506.5 L688.2 508.0 L688.8 507.9 L689.4 507.8 L690.0 507.2 L690.6 508.5 L691.2 507.8 L691.8 507.2 L692.4 506.9 L693.0 507.5 L693.6 507.6 L694.2 507.6 L694.8 508.7 L695.4 508.4 L696.0 507.4 L696.6 506.8 L697.2 506.9 L697.8 507.0 L698.4 505.4 L699.0 507.0 L699.6 507.5 L700.2 508.8 L700.8 507.9 L701.4 507.3 L702.0 507.3 L702.6 506.9 L703.2 507.0 L703.8 507.2 L704.4 506.3 L705.0 507.2 L705.6 506.5 L706.2 507.0 L706.8 507.4 L707.4 508.6 L708.0 509.4 L708.6 509.2 L709.2 508.0 L709.8 507.9 L710.4 508.2 L711.0 508.5 L711.6 509.1 L712.2 508.9 L712.8 508.6 L713.4 509.7 L714.0 509.5 L714.6 509.7 L715.2 508.6 L715.8 508.7 L716.4 508.7 L717.0 508.3 L717.6 507.7 L718.2 508.1 L718.8 507.4 L719.4 508.6 L720.0 509.8 L720.6 509.4 L721.2 508.7 L721.8 508.3 L722.4 508.7 L723.0 507.5 L723.6 507.2 L724.2 507.3 L724.8 508.3 L725.4 507.6 L726.0 508.8 L726.6 509.4 L727.2 509.2 L727.8 508.7 L728.4 508.8 L729.0 508.0 L729.6 509.1 L730.2 510.4 L730.8 510.1 L731.4 508.3 L732.0 509.0 L732.6 509.3 L733.2 510.2 L733.8 510.0 L734.4 509.6 L735.0 509.4 L735.6 509.9 L736.2 509.9 L736.8 510.0 L737.4 509.7 L738.0 509.2 L738.6 510.2 L739.2 510.5 L739.8 510.3 L740.4 510.4 L741.0 511.0 L741.6 511.1 L742.2 511.3 L742.8 510.7 L743.4 510.5 L744.0 509.8 L744.6 508.8 L745.2 508.8 L745.8 509.8 L746.4 509.8 L747.0 509.6 L747.6 507.9 L748.2 509.0 L748.8 509.4 L749.4 509.1 L750.0 508.9 L750.6 508.1 L751.2 509.2 L751.8 510.0 L752.4 508.8 L753.0 509.4 L753.6 508.9 L754.2 509.5 L754.8 510.3 L755.4 509.5 L756.0 509.6 L756.6 509.7 L757.2 509.4 L757.8 509.7 L758.4 507.8 L759.0 508.2 L759.6 507.4 L760.2 507.6 L760.8 508.4 L761.4 507.9 L762.0 508.5 L762.6 509.6 L763.2 509.7 L763.8 511.2 L764.4 509.0 L765.0 508.1 L765.6 506.7 L766.2 507.9 L766.8 508.1 L767.4 508.6 L768.0 508.3 L768.6 507.6 L769.2 507.0 L769.8 508.5 L770.4 507.7 L771.0 507.1 L771.6 508.1 L772.2 507.0 L772.8 507.5 L773.4 507.0 L774.0 507.8 L774.6 507.9 L775.2 510.7 L775.8 510.1 L776.4 509.4 L777.0 509.4 L777.6 509.7 L778.2 509.9 L778.8 509.4 L779.4 508.6 L780.0 509.1 L780.6 508.3 L781.2 509.1 L781.8 509.6 L782.4 509.0 L783.0 509.8 L783.6 509.8 L784.2 511.3 L784.8 510.0 L785.4 510.2 L786.0 510.3 L786.6 510.0 L787.2 510.0 L787.8 509.6 L788.4 509.8 L789.0 509.9 L789.6 510.4 L790.2 510.6 L790.8 509.9 L791.4 510.4 L792.0 509.4 L792.6 508.5 L793.2 508.6 L793.8 508.5 L794.4 508.7 L795.0 508.9 L795.6 509.1 L796.2 509.7 L796.8 509.3 L797.4 508.5 L798.0 508.9 L798.6 508.7 L799.2 509.3 L799.8 509.5 L800.4 508.8 L801.0 509.4 L801.6 509.8 L802.2 509.1 L802.8 508.2 L803.4 508.6 L804.0 508.6 L804.6 509.9 L805.2 509.8 L805.8 510.2 L806.4 511.3 L807.0 510.9 L807.6 510.3 L808.2 509.2 L808.8 510.1 L809.4 510.5 L810.0 511.0 L810.6 510.9 L811.2 512.4 L811.8 513.2 L812.4 512.6" stroke="#1ea35c" stroke-width="4.4" fill="none" stroke-linejoin="round" stroke-linecap="butt"/>
<path d="M200.0 710.9 L200.6 710.1 L201.2 709.0 L201.8 709.5 L202.4 709.5 L203.0 709.6 L203.6 709.9 L204.2 709.1 L204.8 710.0 L205.4 709.0 L206.0 709.5 L206.6 710.3 L207.2 710.1 L207.8 709.5 L208.4 710.7 L209.0 709.9 L209.6 708.9 L210.2 709.3 L210.8 709.1 L211.4 709.6 L212.0 708.9 L212.6 709.6 L213.1 709.0 L213.7 710.3 L214.3 710.4 L214.9 710.5 L215.5 709.4 L216.1 708.6 L216.7 708.7 L217.2 709.1 L217.7 709.3 L218.1 708.6 L218.5 708.1 L218.9 707.3 L219.3 706.9 L219.6 706.5 L219.9 706.1 L220.3 705.5 L220.6 705.0 L220.9 704.5 L221.2 703.9 L221.5 703.4 L221.8 702.9 L222.2 702.4 L222.5 701.9 L222.8 701.4 L223.1 700.9 L223.5 700.3 L223.8 699.9 L224.2 699.5 L224.6 699.0 L225.0 698.5 L225.4 698.1 L225.8 697.5 L226.2 697.0 L226.6 696.7 L227.0 696.3 L227.4 695.8 L227.8 695.4 L228.3 695.0 L228.7 694.5 L229.1 694.1 L229.6 693.9 L230.0 693.4 L230.4 692.9 L230.8 692.5 L231.3 692.1 L231.7 691.7 L232.1 691.2 L232.5 690.8 L232.9 690.4 L233.4 689.9 L233.8 689.5 L234.2 689.0 L234.6 688.5 L235.0 688.1 L235.3 687.8 L235.7 687.2 L236.1 686.7 L236.4 686.2 L236.8 685.7 L237.1 685.2 L237.5 684.8 L237.8 684.3 L238.2 683.8 L238.5 683.3 L238.8 682.8 L239.1 682.3 L239.4 681.8 L239.7 681.3 L240.0 680.7 L240.3 680.2 L240.6 679.7 L240.9 679.2 L241.2 678.7 L241.5 678.1 L241.8 677.6 L242.1 677.1 L242.4 676.6 L242.7 676.1 L243.0 675.5 L243.3 675.0 L243.6 674.5 L243.8 673.9 L244.1 673.4 L244.4 672.9 L244.7 672.3 L245.0 671.8 L245.3 671.3 L245.6 670.8 L245.9 670.3 L246.2 669.8 L246.5 669.2 L246.8 668.7 L247.1 668.2 L247.4 667.7 L247.7 667.2 L248.0 666.7 L248.3 666.1 L248.6 665.6 L248.9 665.1 L249.2 664.6 L249.5 664.1 L249.9 663.6 L250.2 663.1 L250.5 662.6 L250.8 662.0 L251.1 661.5 L251.4 661.0 L251.7 660.5 L252.1 660.0 L252.4 659.5 L252.7 658.9 L253.0 658.4 L253.3 657.9 L253.6 657.4 L253.9 656.9 L254.2 656.4 L254.5 655.8 L254.8 655.3 L255.1 654.8 L255.4 654.3 L255.7 653.7 L256.0 653.2 L256.3 652.7 L256.5 652.2 L256.8 651.6 L257.1 651.1 L257.4 650.6 L257.6 650.0 L257.9 649.5 L258.2 649.0 L258.4 648.4 L258.7 647.9 L258.9 647.3 L259.2 646.8 L259.4 646.2 L259.7 645.7 L259.9 645.2 L260.2 644.6 L260.4 644.1 L260.7 643.5 L260.9 643.0 L261.1 642.4 L261.4 641.9 L261.6 641.3 L261.8 640.8 L262.1 640.2 L262.3 639.6 L262.5 639.1 L262.8 638.5 L263.0 638.0 L263.2 637.4 L263.5 636.9 L263.7 636.3 L263.9 635.8 L264.1 635.2 L264.3 634.6 L264.6 634.1 L264.8 633.5 L265.0 633.0 L265.2 632.4 L265.5 631.9 L265.7 631.3 L265.9 630.7 L266.1 630.2 L266.3 629.6 L266.5 629.1 L266.8 628.5 L267.0 627.9 L267.2 627.4 L267.4 626.8 L267.6 626.3 L267.8 625.7 L268.0 625.1 L268.2 624.6 L268.5 624.0 L268.7 623.5 L268.9 622.9 L269.1 622.3 L269.3 621.8 L269.5 621.2 L269.7 620.6 L269.9 620.1 L270.1 619.5 L270.3 618.9 L270.5 618.4 L270.7 617.8 L270.9 617.2 L271.1 616.7 L271.3 616.1 L271.5 615.5 L271.7 615.0 L271.9 614.4 L272.1 613.8 L272.3 613.3 L272.5 612.7 L272.7 612.1 L272.9 611.6 L273.1 611.0 L273.3 610.4 L273.4 609.9 L273.6 609.3 L273.8 608.7 L274.0 608.2 L274.2 607.6 L274.3 607.0 L274.5 606.4 L274.7 605.8 L274.8 605.3 L274.9 604.7 L275.0 604.1 L275.1 603.5 L275.2 602.9 L275.3 602.3 L275.3 601.7 L275.4 601.1 L275.5 600.5 L275.6 599.9 L275.8 599.4 L276.0 598.9 L276.3 598.3 L276.7 597.8 L277.1 597.4 L277.6 597.1 L278.1 596.9 L278.6 596.6 L279.1 596.1 L279.6 595.5 L280.1 595.4 L280.6 595.0 L281.0 594.6 L281.4 594.3 L281.8 593.8 L282.2 593.2 L282.5 592.8 L282.8 592.3 L283.2 591.7 L283.5 591.2 L283.8 590.7 L284.1 590.2 L284.4 589.7 L284.7 589.2 L285.1 588.6 L285.4 588.2 L285.7 587.7 L286.0 587.2 L286.3 586.7 L286.7 586.1 L287.0 585.6 L287.3 585.1 L287.7 584.6 L288.0 584.1 L288.3 583.6 L288.6 583.1 L288.9 582.6 L289.2 582.1 L289.5 581.5 L289.7 581.0 L290.0 580.4 L290.3 579.9 L290.5 579.4 L290.8 578.8 L291.0 578.3 L291.3 577.7 L291.5 577.2 L291.8 576.6 L292.0 576.1 L292.2 575.5 L292.5 575.0 L292.7 574.4 L293.0 573.9 L293.2 573.3 L293.4 572.8 L293.7 572.2 L293.9 571.7 L294.1 571.1 L294.4 570.6 L294.6 570.0 L294.8 569.5 L295.1 568.9 L295.3 568.3 L295.5 567.8 L295.7 567.2 L295.9 566.7 L296.2 566.1 L296.4 565.5 L296.6 565.0 L296.8 564.4 L297.0 563.9 L297.3 563.3 L297.5 562.8 L297.7 562.2 L297.9 561.7 L298.2 561.1 L298.4 560.5 L298.6 560.0 L298.9 559.4 L299.1 558.9 L299.3 558.3 L299.6 557.8 L299.8 557.2 L300.1 556.7 L300.3 556.1 L300.5 555.6 L300.8 555.0 L301.0 554.5 L301.2 553.9 L301.5 553.4 L301.7 552.8 L302.0 552.3 L302.2 551.7 L302.5 551.2 L302.7 550.6 L303.0 550.1 L303.2 549.6 L303.5 549.0 L303.7 548.5 L304.0 547.9 L304.3 547.4 L304.5 546.9 L304.8 546.3 L305.1 545.8 L305.3 545.2 L305.6 544.7 L305.9 544.2 L306.2 543.7 L306.5 543.1 L306.7 542.6 L307.0 542.1 L307.3 541.6 L307.6 541.0 L307.9 540.5 L308.2 540.0 L308.5 539.5 L308.8 538.9 L309.1 538.4 L309.4 537.9 L309.7 537.4 L310.1 536.9 L310.4 536.4 L310.7 535.8 L311.0 535.3 L311.3 534.8 L311.7 534.3 L312.0 533.8 L312.3 533.4 L312.7 532.8 L313.0 532.3 L313.4 531.9 L313.7 531.4 L314.1 530.9 L314.4 530.4 L314.8 529.9 L315.2 529.4 L315.6 529.0 L315.9 528.5 L316.3 528.1 L316.7 527.6 L317.1 527.2 L317.5 526.7 L317.9 526.2 L318.3 525.7 L318.7 525.2 L319.1 524.8 L319.5 524.4 L319.9 524.1 L320.3 523.8 L320.7 523.3 L321.2 522.9 L321.6 522.2 L322.0 521.8 L322.4 521.4 L322.8 521.2 L323.3 520.8 L323.7 520.3 L324.1 519.8 L324.6 519.3 L325.0 518.9 L325.4 518.5 L325.9 518.1 L326.3 517.7 L326.8 517.1 L327.2 516.8 L327.7 516.4 L328.1 515.9 L328.6 515.7 L329.0 515.2 L329.5 514.8 L330.0 514.2 L330.4 513.8 L330.9 513.4 L331.4 512.9 L331.9 512.8 L332.4 512.3 L332.9 511.7 L333.4 511.5 L333.9 511.3 L334.4 511.1 L334.9 511.1 L335.4 509.8 L335.9 510.2 L336.5 510.1 L337.0 509.6 L337.5 508.9 L338.1 508.4 L338.6 507.9 L339.2 508.5 L339.7 508.1 L340.3 508.0 L340.8 508.6 L341.4 507.6 L342.0 507.7 L342.5 507.9 L343.1 507.6 L343.7 507.7 L344.3 507.6 L344.8 507.3 L345.4 506.4 L346.0 506.4 L346.6 507.7 L347.2 507.5 L347.7 506.9 L348.3 506.8 L348.9 507.8 L349.5 506.8 L350.1 506.5 L350.7 507.4 L351.3 506.4 L351.9 506.6 L352.5 506.8 L353.1 506.2 L353.7 506.9 L354.3 507.1 L354.9 507.1 L355.5 506.9 L356.1 507.7 L356.7 506.8 L357.3 506.3 L357.9 506.6 L358.5 505.8 L359.1 504.8 L359.7 506.5 L360.3 504.9 L360.9 504.6 L361.5 506.0 L362.1 505.9 L362.7 506.9 L363.3 507.1 L363.9 506.9 L364.5 506.0 L365.1 506.0 L365.7 505.2 L366.3 506.3 L366.9 506.0 L367.5 505.9 L368.1 506.1 L368.7 506.1 L369.3 506.5 L369.9 506.7 L370.5 506.1 L371.1 505.7 L371.7 505.5 L372.3 507.3 L372.9 506.8 L373.5 506.0 L374.1 505.3 L374.7 506.4 L375.3 505.7 L375.9 506.4 L376.5 506.4 L377.1 507.1 L377.7 506.2 L378.3 505.3 L378.9 504.7 L379.5 505.9 L380.1 507.4 L380.7 506.6 L381.3 506.0 L381.9 506.7 L382.5 505.8 L383.1 506.2 L383.7 504.8 L384.3 504.7 L384.9 505.7 L385.5 504.7 L386.1 505.8 L386.7 505.6 L387.3 506.4 L387.9 504.9 L388.5 505.0 L389.1 505.9 L389.7 504.7 L390.3 504.8 L390.9 504.4 L391.5 505.3 L392.1 504.8 L392.7 504.0 L393.3 504.5 L393.9 504.1 L394.5 504.8 L395.1 504.3 L395.7 506.4 L396.3 506.2 L396.9 503.6 L397.5 504.3 L398.1 503.7 L398.7 503.5 L399.3 503.5 L399.9 504.8 L400.5 503.3 L401.1 504.8 L401.7 503.3 L402.3 504.4 L402.9 504.0 L403.5 503.6 L404.1 503.3 L404.7 503.8 L405.3 504.6 L405.9 505.1 L406.5 503.3 L407.1 504.2 L407.7 504.2 L408.3 503.8 L408.9 504.2 L409.5 504.3 L410.1 503.9 L410.7 504.1 L411.3 504.7 L411.9 504.4 L412.5 504.8 L413.1 504.2 L413.7 504.9 L414.3 505.2 L414.9 505.2 L415.5 505.0 L416.1 504.8 L416.7 504.6 L417.3 504.2 L417.9 504.3 L418.5 504.6 L419.1 504.1 L419.7 505.5 L420.3 504.1 L420.9 504.8 L421.5 506.0 L422.1 506.4 L422.7 505.6 L423.3 504.9 L423.9 504.0 L424.5 505.0 L425.1 504.6 L425.7 503.9 L426.3 504.7 L426.9 505.7 L427.5 505.6 L428.1 505.5 L428.7 505.7 L429.3 505.5 L429.9 505.3 L430.5 504.9 L431.1 505.0 L431.7 504.6 L432.3 504.4 L432.9 504.6 L433.5 506.1 L434.1 505.8 L434.7 505.7 L435.3 505.3 L435.9 505.2 L436.5 504.6 L437.1 504.8 L437.7 506.0 L438.3 506.4 L438.9 504.1 L439.5 504.3 L440.1 504.4 L440.7 504.2 L441.3 504.6 L441.9 504.6 L442.5 504.5 L443.1 505.1 L443.7 504.4 L444.3 506.1 L444.9 505.9 L445.5 505.0 L446.1 504.4 L446.7 504.5 L447.3 505.5 L447.9 506.7 L448.5 506.6 L449.1 506.1 L449.7 504.9 L450.3 505.4 L450.9 506.1 L451.5 506.1 L452.1 506.0 L452.7 505.8 L453.3 505.7 L453.9 506.0 L454.5 506.3 L455.1 506.4 L455.7 507.0 L456.3 506.5 L456.9 508.0 L457.5 507.4 L458.1 506.9 L458.7 507.6 L459.3 507.2 L459.9 505.9 L460.5 506.8 L461.1 507.9 L461.7 507.7 L462.3 508.2 L462.9 507.0 L463.5 507.1 L464.1 506.9 L464.7 507.1 L465.3 506.7 L465.9 506.8 L466.5 507.7 L467.1 506.5 L467.7 506.9 L468.3 508.0 L468.9 508.8 L469.5 508.6 L470.1 507.8 L470.7 507.0 L471.3 507.1 L471.9 507.6 L472.5 506.8 L473.1 505.7 L473.7 506.6 L474.3 506.2 L474.9 504.8 L475.5 506.1 L476.1 506.3 L476.7 506.8 L477.3 506.9 L477.9 507.7 L478.5 507.5 L479.1 506.2 L479.7 505.5 L480.3 506.4 L480.9 507.4 L481.5 506.6 L482.1 506.5 L482.7 506.6 L483.3 506.2 L483.9 506.1 L484.5 506.1 L485.1 506.0 L485.7 505.6 L486.3 507.0 L486.9 505.9 L487.5 506.6 L488.1 505.9 L488.7 506.8 L489.2 506.6 L489.8 506.9 L490.4 507.7 L491.0 506.8 L491.6 505.7 L492.2 505.5 L492.8 504.9 L493.4 505.0 L494.0 505.6 L494.6 506.7 L495.2 506.3 L495.8 506.6 L496.4 505.8 L497.0 505.5 L497.6 505.8 L498.2 505.8 L498.8 506.6 L499.4 507.9 L500.0 507.0 L500.6 507.1 L501.2 506.6 L501.8 505.6 L502.4 505.6 L503.0 506.9 L503.6 506.6 L504.2 506.7 L504.8 505.9 L505.4 505.5 L506.0 506.6 L506.6 506.4 L507.2 505.6 L507.8 506.9 L508.4 507.6 L509.0 506.7 L509.6 506.6 L510.2 506.2 L510.8 506.3 L511.4 506.9 L512.0 507.3 L512.6 506.5 L513.2 506.0 L513.8 505.8 L514.4 506.5 L515.0 506.8 L515.6 506.1 L516.2 505.5 L516.8 506.9 L517.4 506.8 L518.0 506.1 L518.6 507.2 L519.2 506.5 L519.8 506.2 L520.4 505.9 L521.0 506.9 L521.6 506.9 L522.2 505.7 L522.8 505.9 L523.4 504.8 L524.0 505.1 L524.6 505.9 L525.2 507.0 L525.8 506.9 L526.4 506.9 L527.0 506.6 L527.6 506.9 L528.2 506.2 L528.8 507.0 L529.4 506.4 L530.0 507.3 L530.6 508.2 L531.2 508.1 L531.8 508.0 L532.4 507.4 L533.0 505.5 L533.6 506.4 L534.2 507.6 L534.8 507.1 L535.4 506.7 L536.0 507.6 L536.6 507.9 L537.2 507.0 L537.8 507.5 L538.4 507.5 L539.0 507.9 L539.6 508.4 L540.2 507.5 L540.8 508.2 L541.4 508.4 L542.0 506.5 L542.6 506.9 L543.2 507.0 L543.8 507.5 L544.4 506.9 L545.0 507.2 L545.6 507.9 L546.2 507.3 L546.8 506.6 L547.4 506.8 L548.0 506.8 L548.6 506.8 L549.2 508.4 L549.8 508.8 L550.4 507.7 L551.0 509.4 L551.6 508.5 L552.2 506.8 L552.8 506.6 L553.4 507.4 L554.0 508.8 L554.6 507.5 L555.2 507.8 L555.8 509.4 L556.4 508.7 L557.0 508.7 L557.6 507.7 L558.2 508.6 L558.8 508.2 L559.4 508.1 L560.0 508.0 L560.6 508.6 L561.2 506.9 L561.8 508.7 L562.4 509.8 L563.0 509.3 L563.6 507.8 L564.2 509.0 L564.8 509.2 L565.4 509.1 L566.0 508.3 L566.6 509.2 L567.2 508.6 L567.8 507.2 L568.4 507.2 L569.0 507.7 L569.6 508.4 L570.2 508.5 L570.8 508.2 L571.4 507.2 L572.0 507.2 L572.6 506.8 L573.2 507.2 L573.8 506.7 L574.4 507.4 L575.0 508.1 L575.6 507.4 L576.2 508.3 L576.8 508.5 L577.4 507.4 L578.0 508.8 L578.6 508.4 L579.2 507.1 L579.8 507.1 L580.4 506.9 L581.0 507.6 L581.6 507.6 L582.2 507.0 L582.8 507.0 L583.4 506.5 L584.0 505.6 L584.6 505.8 L585.2 506.9 L585.8 505.6 L586.4 506.4 L587.0 507.6 L587.6 507.6 L588.2 507.4 L588.8 505.8 L589.4 506.8 L590.0 506.9 L590.6 506.4 L591.2 506.5 L591.8 506.6 L592.4 507.3 L593.0 505.8 L593.6 505.4 L594.2 506.5 L594.8 505.2 L595.4 505.4 L596.0 506.2 L596.6 505.8 L597.2 505.6 L597.8 506.5 L598.4 505.2 L599.0 506.1 L599.6 505.8 L600.2 506.1 L600.8 506.8 L601.4 506.8 L602.0 506.9 L602.6 507.8 L603.2 506.6 L603.8 507.6 L604.4 506.9 L605.0 506.6 L605.6 506.9 L606.2 507.1 L606.8 505.8 L607.4 508.1 L608.0 508.3 L608.6 505.9 L609.2 505.5 L609.8 506.0 L610.4 506.3 L611.0 506.6 L611.6 506.7 L612.2 507.0 L612.8 508.1 L613.4 506.5 L614.0 506.2 L614.6 507.7 L615.2 507.9 L615.8 506.7 L616.4 507.1 L617.0 506.6 L617.6 505.7 L618.2 506.4 L618.8 506.9 L619.4 505.8 L620.0 505.9 L620.6 506.9 L621.2 508.6 L621.8 508.1 L622.4 507.1 L623.0 507.1 L623.6 507.6 L624.2 506.7 L624.8 506.9 L625.4 506.3 L626.0 507.0 L626.6 507.4 L627.2 506.3 L627.8 507.3 L628.4 507.5 L629.0 506.4 L629.6 505.4 L630.2 506.9 L630.8 508.7 L631.4 506.9 L632.0 506.3 L632.6 507.1 L633.2 506.5 L633.8 506.2 L634.4 507.3 L635.0 508.0 L635.6 507.4 L636.2 507.0 L636.8 507.0 L637.4 506.0 L638.0 506.1 L638.6 508.0 L639.2 506.9 L639.8 506.5 L640.4 506.3 L641.0 506.0 L641.6 506.5 L642.2 504.7 L642.8 506.1 L643.4 505.9 L644.0 506.5 L644.6 506.8 L645.2 506.1 L645.8 505.2 L646.4 506.2 L647.0 506.3 L647.6 506.9 L648.2 505.7 L648.8 506.9 L649.4 505.4 L650.0 504.5 L650.6 503.5 L651.2 505.0 L651.8 506.0 L652.4 505.4 L653.0 505.5 L653.6 506.4 L654.2 506.4 L654.8 505.5 L655.4 506.4 L656.0 507.0 L656.6 507.7 L657.2 505.4 L657.8 504.5 L658.4 505.6 L659.0 505.1 L659.6 505.1 L660.2 505.9 L660.8 506.2 L661.4 506.1 L662.0 506.5 L662.6 506.5 L663.2 506.2 L663.8 507.2 L664.4 507.6 L665.0 506.8 L665.6 507.4 L666.2 506.9 L666.8 506.3 L667.4 506.6 L668.0 507.8 L668.6 506.1 L669.2 505.9 L669.8 507.4 L670.4 506.7 L671.0 505.5 L671.6 505.7 L672.2 506.3 L672.8 505.9 L673.4 506.6 L674.0 506.8 L674.6 506.9 L675.2 506.1 L675.8 506.7 L676.4 507.0 L677.0 505.8 L677.6 505.9 L678.2 507.5 L678.8 506.6 L679.4 506.0 L680.0 507.2 L680.6 506.4 L681.2 505.3 L681.8 506.0 L682.4 506.7 L683.0 507.1 L683.6 505.6 L684.2 506.4 L684.8 506.5 L685.4 504.2 L686.0 505.5 L686.6 506.3 L687.2 505.9 L687.8 505.4 L688.4 504.8 L689.0 505.7 L689.6 505.3 L690.2 504.8 L690.8 505.6 L691.4 505.7 L692.0 505.2 L692.6 505.5 L693.2 505.2 L693.8 505.4 L694.4 506.8 L695.0 505.3 L695.6 504.6 L696.2 505.2 L696.8 505.5 L697.4 504.6 L698.0 503.6 L698.6 504.4 L699.2 504.2 L699.8 504.2 L700.4 505.4 L701.0 505.5 L701.6 505.3 L702.2 505.8 L702.8 505.5 L703.4 505.4 L704.0 504.6 L704.6 504.7 L705.2 504.9 L705.8 505.9 L706.4 504.8 L707.0 505.1 L707.6 504.3 L708.2 505.3 L708.8 504.6 L709.4 504.4 L710.0 505.5 L710.6 505.6 L711.2 505.1 L711.8 504.9 L712.4 505.3 L713.0 506.1 L713.6 505.2 L714.2 504.8 L714.8 505.8 L715.4 504.7 L716.0 505.6 L716.6 506.4 L717.2 506.1 L717.8 507.0 L718.4 507.5 L719.0 505.4 L719.6 504.9 L720.2 505.1 L720.8 505.1 L721.4 504.8 L722.0 506.5 L722.6 506.7 L723.2 506.7 L723.8 505.7 L724.4 505.1 L725.0 504.8 L725.6 505.9 L726.2 505.8 L726.8 505.4 L727.4 504.8 L728.0 504.3 L728.6 505.6 L729.2 505.7 L729.8 504.5 L730.4 504.5 L731.0 504.5 L731.6 504.7 L732.2 505.5 L732.8 504.9 L733.4 504.4 L734.0 504.7 L734.6 504.2 L735.2 503.7 L735.8 503.9 L736.4 503.7 L737.0 504.1 L737.6 504.9 L738.2 505.2 L738.8 505.8 L739.4 505.6 L740.0 505.1 L740.6 505.0 L741.2 505.0 L741.8 504.8 L742.4 504.6 L743.0 505.6 L743.6 506.6 L744.2 505.9 L744.8 504.4 L745.4 504.0 L746.0 505.7 L746.6 505.2 L747.2 503.6 L747.8 503.5 L748.4 504.5 L749.0 504.6 L749.6 505.5 L750.2 506.0 L750.8 504.7 L751.4 505.4 L752.0 506.4 L752.6 505.8 L753.2 504.9 L753.8 504.5 L754.4 505.8 L755.0 505.1 L755.6 505.9 L756.2 506.4 L756.8 505.1 L757.4 506.2 L758.0 505.4 L758.6 505.0 L759.2 506.8 L759.8 505.6 L760.4 505.5 L761.0 504.0 L761.6 504.8 L762.2 504.4 L762.8 503.8 L763.4 503.8 L764.0 504.8 L764.6 504.4 L765.2 505.2 L765.8 505.0 L766.4 504.0 L767.0 503.7 L767.6 504.6 L768.2 504.1 L768.8 504.6 L769.4 504.1 L770.0 505.2 L770.6 504.3 L771.2 503.3 L771.8 503.9 L772.4 504.0 L773.0 504.7 L773.6 504.5 L774.2 504.1 L774.8 504.7 L775.4 504.6 L776.0 503.0 L776.6 503.5 L777.2 505.3 L777.8 505.0 L778.4 503.7 L779.0 504.0 L779.6 504.4 L780.2 502.9 L780.8 503.5 L781.4 503.0 L782.0 504.0 L782.6 505.5 L783.2 506.8 L783.8 505.6 L784.4 505.6 L785.0 504.3 L785.6 504.7 L786.2 504.8 L786.8 503.2 L787.4 504.1 L788.0 505.4 L788.6 505.0 L789.2 504.3 L789.8 505.0 L790.4 504.5 L791.0 504.8 L791.6 503.8 L792.2 504.3 L792.8 505.2 L793.4 505.9 L794.0 506.1 L794.6 504.3 L795.2 505.6 L795.8 505.8 L796.4 506.0 L797.0 504.9 L797.6 504.8 L798.2 506.5 L798.8 505.6 L799.4 505.8 L800.0 505.9 L800.6 504.6 L801.2 503.7 L801.8 504.0 L802.4 504.0 L803.0 505.7 L803.6 506.6 L804.2 507.3 L804.8 507.3 L805.4 506.8 L806.0 505.5 L806.6 504.9 L807.2 505.2 L807.8 506.9 L808.4 506.7 L809.0 507.4 L809.6 507.1 L810.2 505.9 L810.8 506.8 L811.4 506.0 L812.0 506.9" stroke="#a677b4" stroke-width="4.4" fill="none" stroke-linejoin="round" stroke-linecap="butt"/>
<path d="M200.0 703.5 L200.6 703.2 L201.2 702.5 L201.8 701.6 L202.4 703.1 L203.0 704.1 L203.6 704.1 L204.2 703.4 L204.8 705.1 L205.4 705.0 L206.0 703.5 L206.6 703.4 L207.2 704.0 L207.8 703.4 L208.4 703.7 L209.0 704.5 L209.6 704.4 L210.2 703.3 L210.8 703.1 L211.4 703.1 L212.0 703.6 L212.6 703.7 L213.2 703.6 L213.8 704.3 L214.4 704.0 L214.9 703.7 L215.5 702.4 L216.1 702.7 L216.7 703.4 L217.3 704.1 L217.9 703.8 L218.5 705.0 L219.1 704.4 L219.7 704.2 L220.3 704.1 L220.9 704.3 L221.5 704.4 L222.1 703.7 L222.7 704.4 L223.3 703.3 L223.9 703.5 L224.5 703.1 L225.0 703.0 L225.6 703.1 L226.2 702.9 L226.7 703.0 L227.3 702.1 L227.8 702.0 L228.3 701.9 L228.8 701.9 L229.3 701.4 L229.8 700.8 L230.3 700.6 L230.7 700.0 L231.2 699.3 L231.6 699.0 L232.1 698.7 L232.5 698.2 L232.9 697.9 L233.4 697.4 L233.8 696.8 L234.2 696.5 L234.6 695.9 L235.0 695.5 L235.4 695.1 L235.8 694.7 L236.2 694.2 L236.7 693.7 L237.1 693.4 L237.5 692.9 L237.9 692.4 L238.3 692.0 L238.7 691.7 L239.1 691.2 L239.5 690.7 L239.9 690.5 L240.3 690.0 L240.7 689.6 L241.1 689.1 L241.6 688.7 L242.0 688.1 L242.4 687.6 L242.8 687.3 L243.2 686.8 L243.6 686.4 L244.1 686.0 L244.5 685.4 L244.9 685.1 L245.3 684.7 L245.7 684.2 L246.1 683.8 L246.5 683.3 L246.9 682.9 L247.3 682.4 L247.7 681.9 L248.1 681.5 L248.5 681.0 L248.8 680.6 L249.2 680.1 L249.6 679.6 L249.9 679.2 L250.3 678.7 L250.7 678.2 L251.0 677.7 L251.4 677.2 L251.7 676.7 L252.1 676.2 L252.4 675.7 L252.7 675.2 L253.1 674.7 L253.4 674.2 L253.8 673.8 L254.1 673.3 L254.4 672.8 L254.7 672.2 L255.1 671.7 L255.4 671.3 L255.7 670.7 L256.0 670.2 L256.4 669.7 L256.7 669.2 L257.0 668.7 L257.3 668.2 L257.6 667.7 L258.0 667.2 L258.3 666.7 L258.6 666.2 L258.9 665.7 L259.2 665.1 L259.5 664.6 L259.8 664.1 L260.1 663.6 L260.4 663.1 L260.7 662.5 L261.0 662.0 L261.3 661.5 L261.6 661.0 L261.9 660.5 L262.2 659.9 L262.5 659.4 L262.7 658.9 L263.0 658.3 L263.3 657.8 L263.6 657.3 L263.9 656.8 L264.2 656.2 L264.4 655.7 L264.7 655.2 L265.0 654.6 L265.3 654.1 L265.5 653.6 L265.8 653.0 L266.0 652.5 L266.3 651.9 L266.6 651.4 L266.8 650.9 L267.1 650.3 L267.3 649.8 L267.6 649.2 L267.8 648.7 L268.1 648.1 L268.3 647.6 L268.6 647.1 L268.8 646.5 L269.1 645.9 L269.3 645.4 L269.5 644.8 L269.8 644.3 L270.0 643.7 L270.3 643.2 L270.5 642.6 L270.7 642.1 L271.0 641.5 L271.2 641.0 L271.5 640.4 L271.7 639.9 L271.9 639.3 L272.2 638.8 L272.4 638.2 L272.6 637.7 L272.9 637.1 L273.1 636.6 L273.4 636.0 L273.6 635.5 L273.8 634.9 L274.1 634.4 L274.3 633.8 L274.5 633.3 L274.8 632.7 L275.0 632.2 L275.3 631.6 L275.5 631.1 L275.8 630.5 L276.0 630.0 L276.2 629.4 L276.5 628.9 L276.7 628.3 L277.0 627.8 L277.2 627.2 L277.5 626.7 L277.7 626.2 L278.0 625.6 L278.3 625.1 L278.5 624.6 L278.8 624.0 L279.1 623.5 L279.3 622.9 L279.6 622.4 L279.9 621.9 L280.2 621.4 L280.5 620.8 L280.8 620.3 L281.0 619.8 L281.3 619.2 L281.6 618.7 L281.9 618.2 L282.2 617.7 L282.5 617.2 L282.8 616.6 L283.1 616.1 L283.4 615.6 L283.7 615.1 L284.0 614.6 L284.3 614.0 L284.6 613.5 L284.9 613.0 L285.2 612.5 L285.5 612.0 L285.8 611.4 L286.1 610.9 L286.4 610.4 L286.7 609.9 L287.0 609.3 L287.2 608.8 L287.5 608.3 L287.8 607.7 L288.0 607.2 L288.3 606.6 L288.5 606.1 L288.7 605.5 L289.0 605.0 L289.2 604.4 L289.4 603.8 L289.6 603.3 L289.7 602.7 L289.9 602.1 L290.1 601.5 L290.2 601.0 L290.4 600.4 L290.5 599.8 L290.7 599.2 L290.8 598.6 L290.9 598.1 L291.0 597.5 L291.2 596.9 L291.3 596.3 L291.4 595.7 L291.5 595.1 L291.6 594.5 L291.7 593.9 L291.8 593.3 L291.9 592.7 L292.0 592.2 L292.1 591.6 L292.3 591.0 L292.4 590.4 L292.5 589.8 L292.6 589.2 L292.8 588.6 L292.9 588.1 L293.1 587.5 L293.3 586.9 L293.5 586.4 L293.8 585.8 L294.1 585.4 L294.5 584.8 L294.9 584.4 L295.3 583.9 L295.8 583.4 L296.3 583.0 L296.8 582.9 L297.3 582.4 L297.7 582.2 L298.2 581.7 L298.6 581.3 L298.9 580.9 L299.3 580.5 L299.6 579.9 L299.9 579.3 L300.2 578.8 L300.5 578.3 L300.8 577.8 L301.2 577.3 L301.5 576.8 L301.8 576.2 L302.1 575.7 L302.4 575.2 L302.7 574.7 L303.0 574.2 L303.3 573.7 L303.7 573.2 L304.1 572.7 L304.4 572.3 L304.8 571.8 L305.2 571.3 L305.5 570.8 L305.9 570.3 L306.2 569.8 L306.5 569.3 L306.7 568.8 L307.0 568.2 L307.2 567.7 L307.5 567.2 L307.7 566.6 L308.0 566.0 L308.2 565.5 L308.4 564.9 L308.6 564.4 L308.9 563.8 L309.1 563.3 L309.3 562.7 L309.5 562.2 L309.7 561.6 L310.0 561.0 L310.2 560.5 L310.4 559.9 L310.6 559.4 L310.8 558.8 L311.0 558.2 L311.3 557.7 L311.5 557.1 L311.7 556.6 L311.9 556.0 L312.2 555.5 L312.4 554.9 L312.6 554.3 L312.9 553.8 L313.1 553.3 L313.3 552.7 L313.6 552.2 L313.8 551.6 L314.1 551.1 L314.4 550.5 L314.6 550.0 L314.9 549.5 L315.2 548.9 L315.4 548.4 L315.7 547.9 L316.0 547.3 L316.3 546.8 L316.6 546.3 L316.9 545.8 L317.2 545.3 L317.5 544.8 L317.9 544.2 L318.2 543.7 L318.5 543.3 L318.8 542.8 L319.2 542.2 L319.5 541.7 L319.8 541.2 L320.2 540.7 L320.5 540.2 L320.8 539.8 L321.2 539.3 L321.5 538.8 L321.8 538.3 L322.2 537.8 L322.5 537.3 L322.9 536.8 L323.2 536.3 L323.5 535.8 L323.9 535.3 L324.2 534.8 L324.5 534.3 L324.9 533.8 L325.2 533.3 L325.5 532.8 L325.9 532.3 L326.2 531.8 L326.6 531.3 L326.9 530.9 L327.2 530.3 L327.6 529.8 L327.9 529.4 L328.2 528.9 L328.6 528.4 L328.9 527.9 L329.3 527.4 L329.6 526.8 L329.9 526.3 L330.3 525.8 L330.6 525.4 L331.0 524.9 L331.3 524.4 L331.7 524.0 L332.0 523.5 L332.4 522.9 L332.7 522.4 L333.1 522.0 L333.5 521.5 L333.8 521.0 L334.2 520.6 L334.6 520.1 L334.9 519.6 L335.3 519.1 L335.7 518.7 L336.1 518.2 L336.4 517.7 L336.8 517.2 L337.2 516.9 L337.6 516.3 L338.0 515.9 L338.4 515.4 L338.8 515.1 L339.2 514.6 L339.6 514.0 L340.0 513.6 L340.4 513.1 L340.8 512.6 L341.2 512.2 L341.6 511.9 L342.0 511.3 L342.4 510.9 L342.8 510.6 L343.2 510.1 L343.6 509.7 L344.0 509.3 L344.4 508.8 L344.9 508.2 L345.3 507.8 L345.7 507.4 L346.1 506.9 L346.5 506.4 L347.0 505.9 L347.4 505.6 L347.8 505.2 L348.3 504.7 L348.7 504.0 L349.1 503.7 L349.6 503.3 L350.0 503.0 L350.5 502.3 L351.0 502.0 L351.5 501.3 L352.0 501.1 L352.5 501.1 L353.0 500.7 L353.5 499.7 L354.1 499.7 L354.7 499.4 L355.2 500.1 L355.8 499.4 L356.4 499.1 L356.9 499.3 L357.5 496.9 L358.1 497.5 L358.7 498.3 L359.3 498.0 L359.9 498.0 L360.4 497.3 L361.0 497.4 L361.6 497.8 L362.2 498.5 L362.8 498.7 L363.4 497.0 L364.0 497.2 L364.6 495.9 L365.2 496.7 L365.7 497.2 L366.3 496.8 L366.9 497.2 L367.5 497.4 L368.1 498.3 L368.7 497.4 L369.3 496.5 L369.9 495.9 L370.5 496.7 L371.1 497.7 L371.6 498.5 L372.2 497.2 L372.8 496.6 L373.4 496.6 L374.0 496.9 L374.6 497.3 L375.2 497.1 L375.8 496.5 L376.4 496.4 L377.0 496.1 L377.6 496.5 L378.2 495.2 L378.8 496.3 L379.4 495.9 L380.0 495.7 L380.6 495.8 L381.2 495.5 L381.8 495.0 L382.3 495.4 L382.9 495.6 L383.5 495.9 L384.1 496.1 L384.7 495.2 L385.3 494.1 L385.9 495.2 L386.5 495.7 L387.1 495.5 L387.7 494.4 L388.3 496.1 L388.9 496.8 L389.5 496.0 L390.1 496.5 L390.7 496.8 L391.3 496.7 L391.9 495.1 L392.5 496.0 L393.1 495.4 L393.7 494.7 L394.3 495.5 L394.9 495.7 L395.5 496.4 L396.1 496.2 L396.7 495.2 L397.3 495.8 L397.9 495.8 L398.5 494.6 L399.1 495.4 L399.7 495.5 L400.3 496.3 L400.9 495.9 L401.5 494.9 L402.1 494.4 L402.7 493.8 L403.3 496.0 L403.9 496.5 L404.5 496.2 L405.1 495.7 L405.7 495.8 L406.3 495.1 L406.9 495.9 L407.5 496.2 L408.1 496.2 L408.7 497.2 L409.3 496.0 L409.9 495.2 L410.5 495.2 L411.1 496.4 L411.7 495.9 L412.3 495.6 L412.9 495.4 L413.5 495.4 L414.1 496.3 L414.7 495.6 L415.3 497.6 L415.9 496.5 L416.5 496.8 L417.1 496.5 L417.7 497.0 L418.3 497.1 L418.9 497.2 L419.5 497.8 L420.1 496.1 L420.7 496.4 L421.3 496.3 L421.9 496.7 L422.5 496.3 L423.1 496.1 L423.7 496.7 L424.3 496.8 L424.9 497.1 L425.5 497.2 L426.1 496.6 L426.7 496.4 L427.3 496.3 L427.9 497.2 L428.5 497.6 L429.1 498.2 L429.7 498.2 L430.3 497.3 L430.9 498.1 L431.5 497.8 L432.1 496.4 L432.7 497.7 L433.3 498.7 L433.9 499.2 L434.5 499.1 L435.1 499.0 L435.7 498.3 L436.3 499.5 L436.9 498.0 L437.5 499.0 L438.1 498.5 L438.7 498.8 L439.3 498.7 L439.9 498.5 L440.5 499.9 L441.1 498.6 L441.7 498.5 L442.3 500.0 L442.9 500.2 L443.5 501.5 L444.1 500.9 L444.7 500.7 L445.3 501.0 L445.9 500.8 L446.5 499.1 L447.1 499.3 L447.7 500.0 L448.3 501.8 L448.9 500.6 L449.5 500.5 L450.1 501.5 L450.7 501.0 L451.3 500.3 L451.9 499.8 L452.5 499.7 L453.1 500.3 L453.7 500.7 L454.3 500.8 L454.9 500.6 L455.5 499.3 L456.1 499.7 L456.7 499.5 L457.3 499.2 L457.9 500.3 L458.5 501.0 L459.1 499.8 L459.7 498.7 L460.3 499.6 L460.9 500.3 L461.5 498.9 L462.1 498.5 L462.7 499.0 L463.3 498.6 L463.9 499.3 L464.5 500.3 L465.1 499.1 L465.7 498.4 L466.3 498.8 L466.9 498.7 L467.5 499.8 L468.1 499.0 L468.7 498.2 L469.3 497.5 L469.9 498.9 L470.5 499.3 L471.1 498.3 L471.7 498.5 L472.3 498.9 L472.9 499.3 L473.5 499.5 L474.1 498.8 L474.7 498.8 L475.3 498.8 L475.9 498.8 L476.5 499.5 L477.1 499.2 L477.7 497.3 L478.3 498.0 L478.9 497.3 L479.5 499.0 L480.1 499.3 L480.7 499.1 L481.3 500.4 L481.9 498.8 L482.5 499.3 L483.1 498.9 L483.7 498.5 L484.3 497.7 L484.9 499.0 L485.5 499.9 L486.1 499.4 L486.7 500.1 L487.3 499.4 L487.9 499.1 L488.5 498.6 L489.1 498.6 L489.7 498.7 L490.3 499.3 L490.9 498.7 L491.5 499.2 L492.1 499.3 L492.7 499.1 L493.3 498.2 L493.9 497.3 L494.5 498.7 L495.1 499.0 L495.7 499.6 L496.3 498.7 L496.9 498.2 L497.5 497.9 L498.1 498.5 L498.7 497.6 L499.3 497.8 L499.9 497.6 L500.5 497.1 L501.1 496.6 L501.7 498.6 L502.3 498.1 L502.9 496.3 L503.5 495.9 L504.1 495.9 L504.7 496.7 L505.3 497.4 L505.9 496.7 L506.5 497.2 L507.1 497.5 L507.7 496.5 L508.3 496.2 L508.9 496.4 L509.5 496.5 L510.1 497.1 L510.7 497.8 L511.3 498.5 L511.9 497.5 L512.5 496.9 L513.1 497.0 L513.7 496.5 L514.3 497.8 L514.9 497.5 L515.5 498.0 L516.1 497.5 L516.7 497.5 L517.3 498.7 L517.9 498.2 L518.5 498.1 L519.1 498.0 L519.7 496.9 L520.3 497.7 L520.9 498.3 L521.5 498.0 L522.1 497.5 L522.7 499.0 L523.3 499.3 L523.9 500.0 L524.5 499.8 L525.1 498.0 L525.7 499.1 L526.3 499.2 L526.9 498.5 L527.5 499.2 L528.1 499.5 L528.7 498.7 L529.3 498.3 L529.9 497.3 L530.5 497.4 L531.1 498.5 L531.7 499.5 L532.3 497.9 L532.9 498.8 L533.5 498.8 L534.1 498.5 L534.7 496.9 L535.3 497.7 L535.9 499.2 L536.5 498.5 L537.1 497.8 L537.7 498.6 L538.3 498.8 L538.9 498.3 L539.5 497.8 L540.1 498.5 L540.7 498.6 L541.3 498.9 L541.9 498.2 L542.5 498.4 L543.1 497.6 L543.7 497.9 L544.3 498.5 L544.9 499.1 L545.5 498.4 L546.1 498.2 L546.7 499.1 L547.3 499.5 L547.9 498.7 L548.5 499.4 L549.1 500.1 L549.7 499.6 L550.3 498.7 L550.9 499.2 L551.5 498.7 L552.1 499.4 L552.7 500.8 L553.3 500.9 L553.9 499.2 L554.5 499.7 L555.1 500.0 L555.7 498.6 L556.3 499.2 L556.9 499.1 L557.5 499.4 L558.1 499.7 L558.7 498.8 L559.3 498.2 L559.9 498.5 L560.5 499.7 L561.1 499.6 L561.7 499.4 L562.3 498.6 L562.9 499.0 L563.5 499.1 L564.1 499.3 L564.7 499.0 L565.3 499.5 L565.9 499.1 L566.5 499.7 L567.1 498.1 L567.7 498.5 L568.3 498.1 L568.9 498.4 L569.5 498.4 L570.1 497.6 L570.7 498.9 L571.3 497.9 L571.8 497.4 L572.4 496.6 L573.0 497.6 L573.5 498.0 L574.1 497.2 L574.6 496.7 L575.1 496.4 L575.6 495.7 L576.1 495.6 L576.6 495.9 L577.2 495.0 L577.7 494.4 L578.3 494.2 L578.8 494.7 L579.4 494.7 L580.0 493.7 L580.6 494.1 L581.2 494.0 L581.8 493.7 L582.4 495.7 L583.0 495.1 L583.6 494.4 L584.1 494.2 L584.7 495.0 L585.2 495.6 L585.8 495.2 L586.3 495.9 L586.9 496.9 L587.4 497.2 L587.9 497.3 L588.5 497.3 L589.0 497.2 L589.5 497.6 L590.1 498.5 L590.6 498.3 L591.2 498.3 L591.8 498.9 L592.4 498.9 L593.0 499.2 L593.6 499.5 L594.2 500.3 L594.8 499.6 L595.4 500.2 L596.0 499.5 L596.6 499.7 L597.2 499.2 L597.8 499.3 L598.4 499.9 L599.0 499.6 L599.6 498.4 L600.2 499.2 L600.8 500.3 L601.4 499.5 L602.0 499.2 L602.6 498.8 L603.1 500.9 L603.7 499.4 L604.3 498.6 L604.9 498.7 L605.5 499.1 L606.1 498.8 L606.7 498.8 L607.3 499.8 L607.9 499.8 L608.5 499.7 L609.1 500.2 L609.7 500.1 L610.3 501.0 L610.9 501.2 L611.5 500.1 L612.1 499.3 L612.7 499.7 L613.3 498.5 L613.8 498.6 L614.4 498.4 L615.0 498.6 L615.6 498.5 L616.1 498.2 L616.7 498.5 L617.3 497.6 L617.8 497.2 L618.4 496.8 L619.0 496.5 L619.6 496.8 L620.2 496.9 L620.8 496.9 L621.3 497.5 L621.9 497.2 L622.5 497.3 L623.1 496.6 L623.7 495.1 L624.3 496.4 L624.9 496.7 L625.5 497.2 L626.1 496.9 L626.7 497.0 L627.3 497.9 L627.9 497.8 L628.5 498.4 L629.1 498.9 L629.7 497.8 L630.3 496.9 L630.9 497.5 L631.5 497.3 L632.1 497.5 L632.7 499.7 L633.3 500.3 L633.9 498.4 L634.5 500.0 L635.1 500.5 L635.7 499.6 L636.3 499.3 L636.9 499.9 L637.5 499.6 L638.1 499.5 L638.7 499.4 L639.3 498.9 L639.9 499.0 L640.5 498.9 L641.1 499.0 L641.7 499.4 L642.3 498.4 L642.9 498.4 L643.5 499.3 L644.1 500.1 L644.7 499.8 L645.3 499.4 L645.9 498.7 L646.5 498.2 L647.1 499.1 L647.7 499.4 L648.3 498.9 L648.9 500.8 L649.5 500.3 L650.1 500.5 L650.7 500.0 L651.3 498.3 L651.9 500.1 L652.5 500.1 L653.1 498.7 L653.7 499.5 L654.3 499.6 L654.9 499.7 L655.5 500.0 L656.1 498.8 L656.7 498.6 L657.3 498.3 L657.9 499.9 L658.5 499.2 L659.1 499.3 L659.7 499.3 L660.3 499.3 L660.9 498.5 L661.5 499.7 L662.1 499.0 L662.7 499.2 L663.3 500.1 L663.9 500.8 L664.5 500.5 L665.1 499.8 L665.7 500.0 L666.3 499.3 L666.9 500.6 L667.5 500.3 L668.1 499.8 L668.7 499.5 L669.3 499.9 L669.9 500.3 L670.5 499.6 L671.1 500.5 L671.7 499.3 L672.3 500.5 L672.9 501.3 L673.5 499.9 L674.1 500.6 L674.7 500.7 L675.3 501.8 L675.9 500.4 L676.5 499.9 L677.1 500.0 L677.7 500.2 L678.3 500.3 L678.9 499.7 L679.5 500.4 L680.1 502.1 L680.7 501.8 L681.3 500.1 L681.9 499.8 L682.5 500.6 L683.1 500.4 L683.7 500.6 L684.3 501.1 L684.9 500.8 L685.5 500.2 L686.1 499.9 L686.7 500.5 L687.3 500.5 L687.9 500.2 L688.5 499.8 L689.1 500.8 L689.7 499.7 L690.3 499.1 L690.9 500.1 L691.5 500.5 L692.1 500.1 L692.7 499.2 L693.3 498.5 L693.9 499.4 L694.5 500.3 L695.1 500.0 L695.7 499.4 L696.3 499.3 L696.9 498.2 L697.5 499.2 L698.1 498.0 L698.7 498.0 L699.3 498.7 L699.9 497.9 L700.5 497.4 L701.1 498.8 L701.7 498.6 L702.3 498.7 L702.9 498.9 L703.5 498.7 L704.1 498.0 L704.7 498.4 L705.3 499.9 L705.9 499.2 L706.5 499.0 L707.1 499.7 L707.7 499.9 L708.3 499.9 L708.9 499.7 L709.5 499.2 L710.1 500.4 L710.7 500.6 L711.3 500.1 L711.9 500.4 L712.5 500.9 L713.1 499.9 L713.7 500.3 L714.3 500.1 L714.9 500.7 L715.5 501.4 L716.1 501.2 L716.7 499.9 L717.3 499.4 L717.9 500.2 L718.5 500.0 L719.1 501.0 L719.7 500.8 L720.3 500.9 L720.9 500.6 L721.5 501.6 L722.1 501.8 L722.7 501.0 L723.3 501.3 L723.9 501.7 L724.5 502.0 L725.1 501.0 L725.7 501.5 L726.3 500.9 L726.9 501.1 L727.5 500.3 L728.1 500.0 L728.7 500.0 L729.3 499.5 L729.9 499.6 L730.5 499.8 L731.1 499.6 L731.7 499.6 L732.3 500.5 L732.9 501.6 L733.5 500.7 L734.1 499.8 L734.7 500.5 L735.3 500.7 L735.9 500.1 L736.5 498.7 L737.1 499.8 L737.7 500.8 L738.3 502.0 L738.9 499.2 L739.5 500.5 L740.1 499.9 L740.7 500.3 L741.3 500.2 L741.9 500.5 L742.5 501.0 L743.1 501.5 L743.7 501.7 L744.3 500.6 L744.9 500.6 L745.5 500.9 L746.1 500.4 L746.7 500.3 L747.3 501.8 L747.9 501.8 L748.5 500.3 L749.1 501.4 L749.7 500.3 L750.3 500.0 L750.9 499.0 L751.5 499.6 L752.1 500.6 L752.7 500.4 L753.3 500.2 L753.9 500.0 L754.5 500.1 L755.1 500.6 L755.7 500.5 L756.3 500.5 L756.9 500.6 L757.5 501.1 L758.1 501.4 L758.7 500.5 L759.3 499.8 L759.9 501.2 L760.5 501.2 L761.1 501.0 L761.7 499.4 L762.3 499.2 L762.9 500.0 L763.5 500.6 L764.1 499.7 L764.7 500.2 L765.3 500.6 L765.9 500.1 L766.5 499.9 L767.1 499.2 L767.7 500.7 L768.3 500.7 L768.9 500.3 L769.5 500.1 L770.1 500.1 L770.7 501.7 L771.3 500.9 L771.9 501.0 L772.5 500.0 L773.1 500.0 L773.7 499.6 L774.3 500.0 L774.9 500.1 L775.5 500.4 L776.1 500.7 L776.7 500.8 L777.3 500.6 L777.9 499.9 L778.5 500.2 L779.1 499.8 L779.7 500.3 L780.3 500.1 L780.9 499.0 L781.5 499.0 L782.1 501.0 L782.7 500.1 L783.3 500.5 L783.9 500.0 L784.5 499.1 L785.1 500.0 L785.7 499.8 L786.3 500.9 L786.9 500.7 L787.5 501.8 L788.1 501.1 L788.7 500.2 L789.3 501.0 L789.9 499.3 L790.5 501.6 L791.1 501.0 L791.7 500.3 L792.3 499.7 L792.9 499.9 L793.5 500.1 L794.1 499.6 L794.7 500.0 L795.3 500.1 L795.9 499.4 L796.5 500.7 L797.1 501.7 L797.7 500.6 L798.3 499.7 L798.9 499.9 L799.5 500.3 L800.1 500.3 L800.7 500.7 L801.3 499.3 L801.9 498.8 L802.5 499.7 L803.1 499.8 L803.7 500.7 L804.3 499.6 L804.9 499.8 L805.5 499.5 L806.1 499.9 L806.7 500.8 L807.3 498.9 L807.9 500.9 L808.5 501.5 L809.1 501.3 L809.7 501.0 L810.3 500.7 L810.9 500.4 L811.5 499.7 L812.1 499.3" stroke="#cf9e02" stroke-width="4.4" fill="none" stroke-linejoin="round" stroke-linecap="butt"/>
<path d="M157.30 68.35H917.60" stroke="#000" stroke-width="2.1" stroke-dasharray="5.2 4.158" fill="none"/>
<rect x="157.10" y="14.00" width="761.50" height="303.00" fill="none" stroke="#000" stroke-width="2.2"/>
<path d="M157.30 478.30H917.60" stroke="#000" stroke-width="2.1" stroke-dasharray="5.2 4.158" fill="none"/>
<rect x="157.10" y="423.60" width="761.50" height="303.20" fill="none" stroke="#000" stroke-width="2.2"/>
<path d="M635.00 188.00H667.00" stroke="#4e4d4b" stroke-width="3.6"/>
<path d="M635.00 219.00H667.00" stroke="#e4292d" stroke-width="3.6"/>
<path d="M635.00 251.60H667.00" stroke="#2f60ad" stroke-width="3.6"/>
<path d="M612.10 538.40H644.00" stroke="#4e4d4b" stroke-width="3.6"/>
<path d="M612.10 569.40H644.00" stroke="#e4292d" stroke-width="3.6"/>
<path d="M612.10 602.00H644.00" stroke="#2f60ad" stroke-width="3.6"/>
<path d="M612.10 638.00H644.00" stroke="#1ea35c" stroke-width="3.6"/>
<path d="M612.10 671.40H644.00" stroke="#a677b4" stroke-width="3.6"/>
<path d="M612.10 705.10H644.00" stroke="#cf9e02" stroke-width="3.6"/>
<g fill="#000" stroke="#fff" stroke-width="0.35" style="will-change:transform">
<text x="81.57" y="29.12" font-size="35.10" font-style="normal" textLength="68.32" lengthAdjust="spacingAndGlyphs">1.00</text>
<text x="130.65" y="78.85" font-size="35.10" font-style="normal" textLength="18.99" lengthAdjust="spacingAndGlyphs">0</text>
<text x="53.52" y="131.85" font-size="38.15" font-style="normal" textLength="26.91" lengthAdjust="spacingAndGlyphs">−</text>
<text x="81.25" y="128.58" font-size="35.10" font-style="normal" textLength="68.64" lengthAdjust="spacingAndGlyphs">1.00</text>
<text x="53.52" y="181.58" font-size="38.15" font-style="normal" textLength="26.91" lengthAdjust="spacingAndGlyphs">−</text>
<text x="81.58" y="178.31" font-size="35.10" font-style="normal" textLength="68.30" lengthAdjust="spacingAndGlyphs">2.00</text>
<text x="53.52" y="231.31" font-size="38.15" font-style="normal" textLength="26.91" lengthAdjust="spacingAndGlyphs">−</text>
<text x="81.43" y="228.04" font-size="35.10" font-style="normal" textLength="68.46" lengthAdjust="spacingAndGlyphs">3.00</text>
<text x="53.52" y="281.04" font-size="38.15" font-style="normal" textLength="26.91" lengthAdjust="spacingAndGlyphs">−</text>
<text x="82.55" y="277.77" font-size="35.10" font-style="normal" textLength="67.32" lengthAdjust="spacingAndGlyphs">4.00</text>
<text x="53.52" y="330.77" font-size="38.15" font-style="normal" textLength="26.91" lengthAdjust="spacingAndGlyphs">−</text>
<text x="81.01" y="327.50" font-size="35.10" font-style="normal" textLength="68.89" lengthAdjust="spacingAndGlyphs">5.00</text>
<text x="190.26" y="350.50" font-size="35.10" font-style="normal" textLength="20.17" lengthAdjust="spacingAndGlyphs">0</text>
<text x="272.26" y="350.50" font-size="35.10" font-style="normal" textLength="37.99" lengthAdjust="spacingAndGlyphs">40</text>
<text x="362.15" y="350.50" font-size="35.10" font-style="normal" textLength="38.10" lengthAdjust="spacingAndGlyphs">80</text>
<text x="437.98" y="350.50" font-size="35.10" font-style="normal" textLength="58.30" lengthAdjust="spacingAndGlyphs">120</text>
<text x="527.92" y="350.50" font-size="35.10" font-style="normal" textLength="57.64" lengthAdjust="spacingAndGlyphs">160</text>
<text x="618.99" y="350.50" font-size="35.10" font-style="normal" textLength="55.01" lengthAdjust="spacingAndGlyphs">200</text>
<text x="708.56" y="350.50" font-size="35.10" font-style="normal" textLength="55.85" lengthAdjust="spacingAndGlyphs">240</text>
<text x="798.45" y="350.50" font-size="35.10" font-style="normal" textLength="56.49" lengthAdjust="spacingAndGlyphs">280</text>
<text x="888.21" y="350.50" font-size="35.10" font-style="normal" textLength="56.01" lengthAdjust="spacingAndGlyphs">320</text>
<text x="528.03" y="389.54" font-size="36.66" font-style="italic" textLength="12.47" lengthAdjust="spacingAndGlyphs">t</text>
<text x="557.87" y="390.18" font-size="36.73" font-style="normal" textLength="12.32" lengthAdjust="spacingAndGlyphs">(</text>
<text x="570.09" y="389.61" font-size="29.73" font-style="normal" textLength="17.21" lengthAdjust="spacingAndGlyphs">s</text>
<text x="586.86" y="390.18" font-size="36.73" font-style="normal" textLength="11.80" lengthAdjust="spacingAndGlyphs">)</text>
<text x="-225.15" y="28.50" font-size="35.58" font-style="italic" textLength="25.28" lengthAdjust="spacingAndGlyphs" transform="rotate(-90)">Z</text>
<text x="-186.21" y="28.82" font-size="37.50" font-style="normal" textLength="12.19" lengthAdjust="spacingAndGlyphs" transform="rotate(-90)">(</text>
<text x="-173.29" y="27.49" font-size="32.23" font-style="normal" textLength="47.70" lengthAdjust="spacingAndGlyphs" transform="rotate(-90)">cm</text>
<text x="-123.92" y="28.82" font-size="37.50" font-style="normal" textLength="11.54" lengthAdjust="spacingAndGlyphs" transform="rotate(-90)">)</text>
<text x="174.58" y="50.08" font-size="36.73" font-style="normal" textLength="11.54" lengthAdjust="spacingAndGlyphs">(</text>
<text x="187.59" y="49.49" font-size="31.73" font-style="normal" textLength="19.10" lengthAdjust="spacingAndGlyphs">a</text>
<text x="207.92" y="50.08" font-size="36.73" font-style="normal" textLength="11.15" lengthAdjust="spacingAndGlyphs">)</text>
<text x="81.57" y="439.10" font-size="35.10" font-style="normal" textLength="68.32" lengthAdjust="spacingAndGlyphs">1.00</text>
<text x="130.65" y="488.80" font-size="35.10" font-style="normal" textLength="18.99" lengthAdjust="spacingAndGlyphs">0</text>
<text x="53.52" y="541.77" font-size="38.15" font-style="normal" textLength="26.91" lengthAdjust="spacingAndGlyphs">−</text>
<text x="81.25" y="538.50" font-size="35.10" font-style="normal" textLength="68.64" lengthAdjust="spacingAndGlyphs">1.00</text>
<text x="53.52" y="591.47" font-size="38.15" font-style="normal" textLength="26.91" lengthAdjust="spacingAndGlyphs">−</text>
<text x="81.58" y="588.20" font-size="35.10" font-style="normal" textLength="68.30" lengthAdjust="spacingAndGlyphs">2.00</text>
<text x="53.52" y="641.17" font-size="38.15" font-style="normal" textLength="26.91" lengthAdjust="spacingAndGlyphs">−</text>
<text x="81.43" y="637.90" font-size="35.10" font-style="normal" textLength="68.46" lengthAdjust="spacingAndGlyphs">3.00</text>
<text x="53.52" y="690.87" font-size="38.15" font-style="normal" textLength="26.91" lengthAdjust="spacingAndGlyphs">−</text>
<text x="82.55" y="687.60" font-size="35.10" font-style="normal" textLength="67.32" lengthAdjust="spacingAndGlyphs">4.00</text>
<text x="53.52" y="740.57" font-size="38.15" font-style="normal" textLength="26.91" lengthAdjust="spacingAndGlyphs">−</text>
<text x="81.01" y="737.30" font-size="35.10" font-style="normal" textLength="68.89" lengthAdjust="spacingAndGlyphs">5.00</text>
<text x="190.26" y="760.50" font-size="35.10" font-style="normal" textLength="20.17" lengthAdjust="spacingAndGlyphs">0</text>
<text x="272.26" y="760.50" font-size="35.10" font-style="normal" textLength="37.99" lengthAdjust="spacingAndGlyphs">40</text>
<text x="362.15" y="760.50" font-size="35.10" font-style="normal" textLength="38.10" lengthAdjust="spacingAndGlyphs">80</text>
<text x="437.98" y="760.50" font-size="35.10" font-style="normal" textLength="58.30" lengthAdjust="spacingAndGlyphs">120</text>
<text x="527.92" y="760.50" font-size="35.10" font-style="normal" textLength="57.64" lengthAdjust="spacingAndGlyphs">160</text>
<text x="618.99" y="760.50" font-size="35.10" font-style="normal" textLength="55.01" lengthAdjust="spacingAndGlyphs">200</text>
<text x="708.56" y="760.50" font-size="35.10" font-style="normal" textLength="55.85" lengthAdjust="spacingAndGlyphs">240</text>
<text x="798.45" y="760.50" font-size="35.10" font-style="normal" textLength="56.49" lengthAdjust="spacingAndGlyphs">280</text>
<text x="888.21" y="760.50" font-size="35.10" font-style="normal" textLength="56.01" lengthAdjust="spacingAndGlyphs">320</text>
<text x="533.23" y="799.14" font-size="36.66" font-style="italic" textLength="12.47" lengthAdjust="spacingAndGlyphs">t</text>
<text x="563.07" y="799.78" font-size="36.73" font-style="normal" textLength="12.32" lengthAdjust="spacingAndGlyphs">(</text>
<text x="575.29" y="799.21" font-size="29.73" font-style="normal" textLength="17.21" lengthAdjust="spacingAndGlyphs">s</text>
<text x="592.06" y="799.78" font-size="36.73" font-style="normal" textLength="11.80" lengthAdjust="spacingAndGlyphs">)</text>
<text x="-631.65" y="32.80" font-size="35.58" font-style="italic" textLength="25.28" lengthAdjust="spacingAndGlyphs" transform="rotate(-90)">Z</text>
<text x="-592.71" y="33.12" font-size="37.50" font-style="normal" textLength="12.19" lengthAdjust="spacingAndGlyphs" transform="rotate(-90)">(</text>
<text x="-579.79" y="31.79" font-size="32.23" font-style="normal" textLength="47.70" lengthAdjust="spacingAndGlyphs" transform="rotate(-90)">cm</text>
<text x="-530.42" y="33.12" font-size="37.50" font-style="normal" textLength="11.54" lengthAdjust="spacingAndGlyphs" transform="rotate(-90)">)</text>
<text x="173.95" y="533.28" font-size="36.73" font-style="normal" textLength="11.02" lengthAdjust="spacingAndGlyphs">(</text>
<text x="188.00" y="532.58" font-size="33.11" font-style="normal" textLength="19.59" lengthAdjust="spacingAndGlyphs">b</text>
<text x="208.33" y="533.28" font-size="36.73" font-style="normal" textLength="11.02" lengthAdjust="spacingAndGlyphs">)</text>
<g transform="translate(674.70 169.50) scale(1.0942 1.0000)"><path d="M17.2 5.6C16.8 3.7 14.2 3.4 13.0 5.9C11.6 9.8 10.6 19.5 8.9 25.3C8.1 28.3 6.6 29.6 5.0 28.4" fill="none" stroke="#000" stroke-width="1.75" stroke-linecap="round"/><circle cx="16.4" cy="6.0" r="1.35" fill="#000"/><circle cx="5.3" cy="27.6" r="1.35" fill="#000"/><path d="M7.9 12.3H15.8" stroke="#000" stroke-width="1.05"/></g>
<text x="698.96" y="197.49" font-size="32.80" font-style="normal" textLength="25.33" lengthAdjust="spacingAndGlyphs">=</text>
<text x="730.21" y="193.62" font-size="28.87" font-style="normal" textLength="31.73" lengthAdjust="spacingAndGlyphs">25</text>
<text x="775.11" y="194.00" font-size="30.00" font-style="normal" textLength="48.44" lengthAdjust="spacingAndGlyphs">Hz,</text>
<text x="834.94" y="194.00" font-size="30.00" font-style="normal" textLength="47.52" lengthAdjust="spacingAndGlyphs">top</text>
<g transform="translate(674.70 200.50) scale(1.0942 1.0000)"><path d="M17.2 5.6C16.8 3.7 14.2 3.4 13.0 5.9C11.6 9.8 10.6 19.5 8.9 25.3C8.1 28.3 6.6 29.6 5.0 28.4" fill="none" stroke="#000" stroke-width="1.75" stroke-linecap="round"/><circle cx="16.4" cy="6.0" r="1.35" fill="#000"/><circle cx="5.3" cy="27.6" r="1.35" fill="#000"/><path d="M7.9 12.3H15.8" stroke="#000" stroke-width="1.05"/></g>
<text x="698.96" y="228.49" font-size="32.80" font-style="normal" textLength="25.33" lengthAdjust="spacingAndGlyphs">=</text>
<text x="730.07" y="224.62" font-size="28.87" font-style="normal" textLength="31.87" lengthAdjust="spacingAndGlyphs">35</text>
<text x="775.11" y="225.00" font-size="30.00" font-style="normal" textLength="48.44" lengthAdjust="spacingAndGlyphs">Hz,</text>
<text x="834.94" y="225.00" font-size="30.00" font-style="normal" textLength="47.52" lengthAdjust="spacingAndGlyphs">top</text>
<g transform="translate(674.70 233.10) scale(1.0942 1.0000)"><path d="M17.2 5.6C16.8 3.7 14.2 3.4 13.0 5.9C11.6 9.8 10.6 19.5 8.9 25.3C8.1 28.3 6.6 29.6 5.0 28.4" fill="none" stroke="#000" stroke-width="1.75" stroke-linecap="round"/><circle cx="16.4" cy="6.0" r="1.35" fill="#000"/><circle cx="5.3" cy="27.6" r="1.35" fill="#000"/><path d="M7.9 12.3H15.8" stroke="#000" stroke-width="1.05"/></g>
<text x="698.96" y="261.09" font-size="32.80" font-style="normal" textLength="25.33" lengthAdjust="spacingAndGlyphs">=</text>
<text x="731.00" y="257.22" font-size="28.75" font-style="normal" textLength="30.88" lengthAdjust="spacingAndGlyphs">40</text>
<text x="775.11" y="257.60" font-size="30.00" font-style="normal" textLength="48.44" lengthAdjust="spacingAndGlyphs">Hz,</text>
<text x="834.94" y="257.60" font-size="30.00" font-style="normal" textLength="47.52" lengthAdjust="spacingAndGlyphs">top</text>
<g transform="translate(652.00 520.00) scale(1.0000 1.0000)"><path d="M17.2 5.6C16.8 3.7 14.2 3.4 13.0 5.9C11.6 9.8 10.6 19.5 8.9 25.3C8.1 28.3 6.6 29.6 5.0 28.4" fill="none" stroke="#000" stroke-width="1.75" stroke-linecap="round"/><circle cx="16.4" cy="6.0" r="1.35" fill="#000"/><circle cx="5.3" cy="27.6" r="1.35" fill="#000"/><path d="M7.9 12.3H15.8" stroke="#000" stroke-width="1.05"/></g>
<text x="673.67" y="547.09" font-size="30.40" font-style="normal" textLength="23.03" lengthAdjust="spacingAndGlyphs">=</text>
<text x="702.05" y="544.02" font-size="28.58" font-style="normal" textLength="28.46" lengthAdjust="spacingAndGlyphs">25</text>
<text x="742.21" y="544.20" font-size="30.00" font-style="normal" textLength="43.52" lengthAdjust="spacingAndGlyphs">Hz,</text>
<text x="797.48" y="544.20" font-size="30.00" font-style="normal" textLength="41.69" lengthAdjust="spacingAndGlyphs">top</text>
<g transform="translate(652.00 551.00) scale(1.0000 1.0000)"><path d="M17.2 5.6C16.8 3.7 14.2 3.4 13.0 5.9C11.6 9.8 10.6 19.5 8.9 25.3C8.1 28.3 6.6 29.6 5.0 28.4" fill="none" stroke="#000" stroke-width="1.75" stroke-linecap="round"/><circle cx="16.4" cy="6.0" r="1.35" fill="#000"/><circle cx="5.3" cy="27.6" r="1.35" fill="#000"/><path d="M7.9 12.3H15.8" stroke="#000" stroke-width="1.05"/></g>
<text x="673.67" y="578.09" font-size="30.40" font-style="normal" textLength="23.03" lengthAdjust="spacingAndGlyphs">=</text>
<text x="701.93" y="575.02" font-size="28.58" font-style="normal" textLength="28.58" lengthAdjust="spacingAndGlyphs">35</text>
<text x="742.21" y="575.20" font-size="30.00" font-style="normal" textLength="43.52" lengthAdjust="spacingAndGlyphs">Hz,</text>
<text x="797.48" y="575.20" font-size="30.00" font-style="normal" textLength="41.69" lengthAdjust="spacingAndGlyphs">top</text>
<g transform="translate(652.00 583.30) scale(1.0000 1.0000)"><path d="M17.2 5.6C16.8 3.7 14.2 3.4 13.0 5.9C11.6 9.8 10.6 19.5 8.9 25.3C8.1 28.3 6.6 29.6 5.0 28.4" fill="none" stroke="#000" stroke-width="1.75" stroke-linecap="round"/><circle cx="16.4" cy="6.0" r="1.35" fill="#000"/><circle cx="5.3" cy="27.6" r="1.35" fill="#000"/><path d="M7.9 12.3H15.8" stroke="#000" stroke-width="1.05"/></g>
<text x="673.67" y="610.39" font-size="30.40" font-style="normal" textLength="23.03" lengthAdjust="spacingAndGlyphs">=</text>
<text x="702.76" y="607.32" font-size="28.45" font-style="normal" textLength="27.70" lengthAdjust="spacingAndGlyphs">40</text>
<text x="742.21" y="607.50" font-size="30.00" font-style="normal" textLength="43.52" lengthAdjust="spacingAndGlyphs">Hz,</text>
<text x="797.48" y="607.50" font-size="30.00" font-style="normal" textLength="41.69" lengthAdjust="spacingAndGlyphs">top</text>
<g transform="translate(652.00 618.60) scale(1.0000 1.0000)"><path d="M17.2 5.6C16.8 3.7 14.2 3.4 13.0 5.9C11.6 9.8 10.6 19.5 8.9 25.3C8.1 28.3 6.6 29.6 5.0 28.4" fill="none" stroke="#000" stroke-width="1.75" stroke-linecap="round"/><circle cx="16.4" cy="6.0" r="1.35" fill="#000"/><circle cx="5.3" cy="27.6" r="1.35" fill="#000"/><path d="M7.9 12.3H15.8" stroke="#000" stroke-width="1.05"/></g>
<text x="673.67" y="645.69" font-size="30.40" font-style="normal" textLength="23.03" lengthAdjust="spacingAndGlyphs">=</text>
<text x="702.05" y="642.62" font-size="28.58" font-style="normal" textLength="28.46" lengthAdjust="spacingAndGlyphs">25</text>
<text x="742.21" y="642.80" font-size="30.00" font-style="normal" textLength="43.52" lengthAdjust="spacingAndGlyphs">Hz,</text>
<text x="798.00" y="642.80" font-size="30.00" font-style="normal" textLength="91.71" lengthAdjust="spacingAndGlyphs">bottom</text>
<g transform="translate(652.00 652.30) scale(1.0000 1.0000)"><path d="M17.2 5.6C16.8 3.7 14.2 3.4 13.0 5.9C11.6 9.8 10.6 19.5 8.9 25.3C8.1 28.3 6.6 29.6 5.0 28.4" fill="none" stroke="#000" stroke-width="1.75" stroke-linecap="round"/><circle cx="16.4" cy="6.0" r="1.35" fill="#000"/><circle cx="5.3" cy="27.6" r="1.35" fill="#000"/><path d="M7.9 12.3H15.8" stroke="#000" stroke-width="1.05"/></g>
<text x="673.67" y="679.39" font-size="30.40" font-style="normal" textLength="23.03" lengthAdjust="spacingAndGlyphs">=</text>
<text x="701.93" y="676.32" font-size="28.58" font-style="normal" textLength="28.58" lengthAdjust="spacingAndGlyphs">35</text>
<text x="742.21" y="676.50" font-size="30.00" font-style="normal" textLength="43.52" lengthAdjust="spacingAndGlyphs">Hz,</text>
<text x="798.00" y="676.50" font-size="30.00" font-style="normal" textLength="91.71" lengthAdjust="spacingAndGlyphs">bottom</text>
<g transform="translate(652.00 685.90) scale(1.0000 1.0000)"><path d="M17.2 5.6C16.8 3.7 14.2 3.4 13.0 5.9C11.6 9.8 10.6 19.5 8.9 25.3C8.1 28.3 6.6 29.6 5.0 28.4" fill="none" stroke="#000" stroke-width="1.75" stroke-linecap="round"/><circle cx="16.4" cy="6.0" r="1.35" fill="#000"/><circle cx="5.3" cy="27.6" r="1.35" fill="#000"/><path d="M7.9 12.3H15.8" stroke="#000" stroke-width="1.05"/></g>
<text x="673.67" y="712.99" font-size="30.40" font-style="normal" textLength="23.03" lengthAdjust="spacingAndGlyphs">=</text>
<text x="702.76" y="709.92" font-size="28.45" font-style="normal" textLength="27.70" lengthAdjust="spacingAndGlyphs">40</text>
<text x="742.21" y="710.10" font-size="30.00" font-style="normal" textLength="43.52" lengthAdjust="spacingAndGlyphs">Hz,</text>
<text x="798.00" y="710.10" font-size="30.00" font-style="normal" textLength="91.71" lengthAdjust="spacingAndGlyphs">bottom</text>
<text x="359.99" y="205.51" font-size="28.59" font-style="italic" textLength="14.95" lengthAdjust="spacingAndGlyphs">ρ</text>
<text x="380.12" y="207.93" font-size="29.60" font-style="normal" textLength="25.81" lengthAdjust="spacingAndGlyphs">=</text>
<text x="410.71" y="205.69" font-size="28.69" font-style="normal" textLength="77.19" lengthAdjust="spacingAndGlyphs">5.372</text>
<text x="498.48" y="205.38" font-size="27.43" font-style="normal" textLength="16.55" lengthAdjust="spacingAndGlyphs">g</text>
<text x="517.30" y="211.78" font-size="43.50" font-style="normal" textLength="12.80" lengthAdjust="spacingAndGlyphs">/</text>
<text x="531.69" y="205.51" font-size="30.15" font-style="normal" textLength="41.94" lengthAdjust="spacingAndGlyphs">cm</text>
<text x="574.42" y="197.10" font-size="20.24" font-style="normal" textLength="11.26" lengthAdjust="spacingAndGlyphs">3</text>
<text x="362.28" y="245.90" font-size="30.39" font-style="italic" textLength="19.06" lengthAdjust="spacingAndGlyphs">Γ</text>
<text x="384.76" y="247.41" font-size="27.60" font-style="normal" textLength="25.33" lengthAdjust="spacingAndGlyphs">=</text>
<text x="415.77" y="246.00" font-size="28.09" font-style="normal" textLength="17.46" lengthAdjust="spacingAndGlyphs">2</text>
<text x="349.64" y="555.51" font-size="28.59" font-style="italic" textLength="14.95" lengthAdjust="spacingAndGlyphs">ρ</text>
<text x="369.77" y="557.93" font-size="29.60" font-style="normal" textLength="25.81" lengthAdjust="spacingAndGlyphs">=</text>
<text x="400.36" y="555.69" font-size="28.69" font-style="normal" textLength="77.19" lengthAdjust="spacingAndGlyphs">5.372</text>
<text x="488.13" y="555.38" font-size="27.43" font-style="normal" textLength="16.55" lengthAdjust="spacingAndGlyphs">g</text>
<text x="506.95" y="561.78" font-size="43.50" font-style="normal" textLength="12.80" lengthAdjust="spacingAndGlyphs">/</text>
<text x="521.34" y="555.51" font-size="30.15" font-style="normal" textLength="41.94" lengthAdjust="spacingAndGlyphs">cm</text>
<text x="564.07" y="547.10" font-size="20.24" font-style="normal" textLength="11.26" lengthAdjust="spacingAndGlyphs">3</text>
<text x="351.93" y="595.90" font-size="30.39" font-style="italic" textLength="19.06" lengthAdjust="spacingAndGlyphs">Γ</text>
<text x="374.41" y="597.41" font-size="27.60" font-style="normal" textLength="25.33" lengthAdjust="spacingAndGlyphs">=</text>
<text x="405.33" y="595.73" font-size="27.68" font-style="normal" textLength="16.95" lengthAdjust="spacingAndGlyphs">3</text>
</g></svg></body></html>
